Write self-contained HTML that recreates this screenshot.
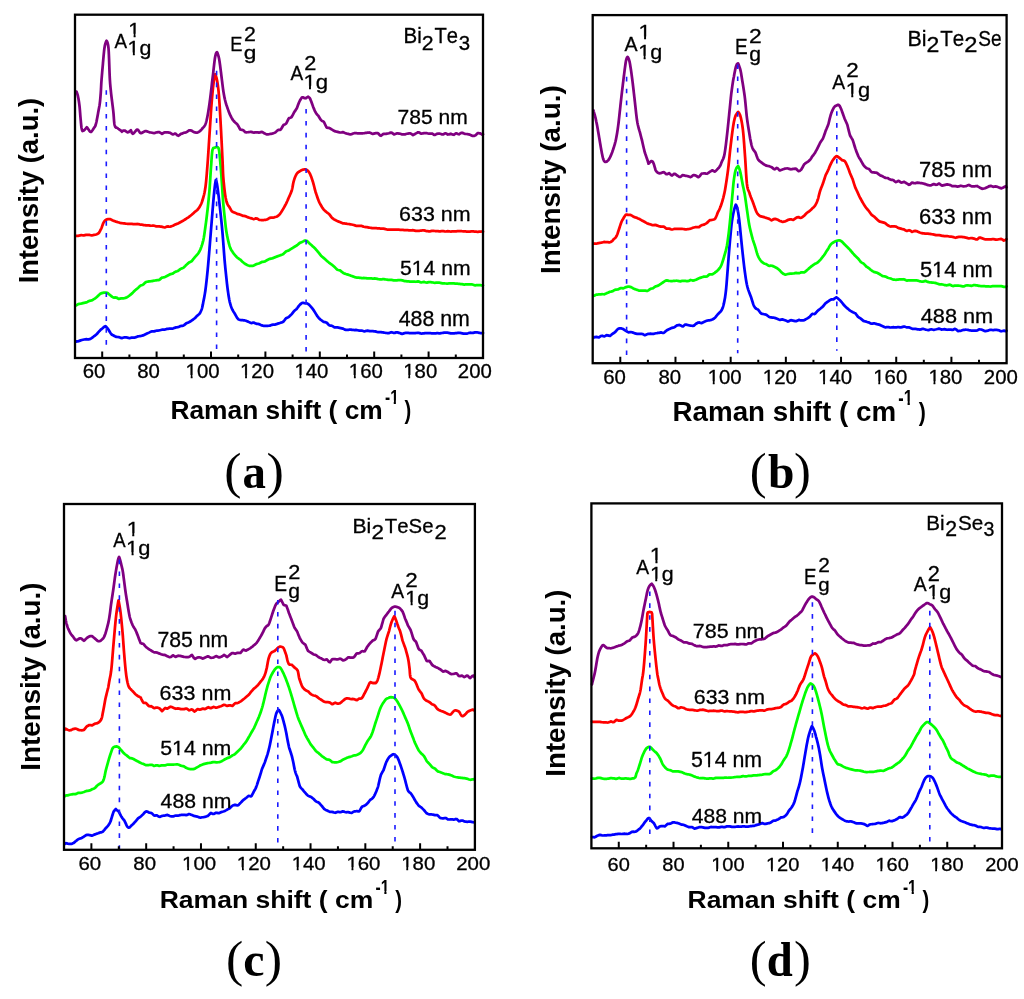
<!DOCTYPE html>
<html><head><meta charset="utf-8"><title>Raman spectra</title>
<style>html,body{margin:0;padding:0;background:#fff;}svg{display:block;}text{font-kerning:none;}</style>
</head><body>
<svg width="1024" height="999" viewBox="0 0 1024 999">
<defs><clipPath id="c0"><rect x="-30" y="-58.47" width="92.52" height="55.78"/><rect x="-30" y="-2.69" width="30.34" height="31.93"/><rect x="4.9" y="-2.69" width="1.72" height="31.93"/><rect x="11.03" y="-2.69" width="51.49" height="31.93"/></clipPath>
<clipPath id="c1"><rect x="-30" y="-58.47" width="92.52" height="55.78"/><rect x="-30" y="-2.69" width="30.34" height="31.93"/><rect x="4.9" y="-2.69" width="1.72" height="31.93"/><rect x="11.03" y="-2.69" width="51.49" height="31.93"/></clipPath>
<clipPath id="c2"><rect x="-30" y="-58.47" width="92.52" height="55.78"/><rect x="-30" y="-2.69" width="30.34" height="31.93"/><rect x="4.9" y="-2.69" width="1.72" height="31.93"/><rect x="11.03" y="-2.69" width="51.49" height="31.93"/></clipPath>
<clipPath id="c3"><rect x="-30" y="-58.47" width="92.52" height="55.78"/><rect x="-30" y="-2.69" width="30.34" height="31.93"/><rect x="4.9" y="-2.69" width="1.72" height="31.93"/><rect x="11.03" y="-2.69" width="51.49" height="31.93"/></clipPath>
<clipPath id="c4"><rect x="-30" y="-58.47" width="92.52" height="55.78"/><rect x="-30" y="-2.69" width="30.34" height="31.93"/><rect x="4.9" y="-2.69" width="1.72" height="31.93"/><rect x="11.03" y="-2.69" width="51.49" height="31.93"/></clipPath>
<clipPath id="c5"><rect x="-30" y="-59.75" width="93.23" height="56.99"/><rect x="-30" y="-2.75" width="30.35" height="32.62"/><rect x="5.01" y="-2.75" width="1.76" height="32.62"/><rect x="11.27" y="-2.75" width="51.96" height="32.62"/></clipPath>
<clipPath id="c6"><rect x="-30" y="-59.75" width="93.23" height="56.99"/><rect x="-30" y="-2.75" width="30.35" height="32.62"/><rect x="5.01" y="-2.75" width="1.76" height="32.62"/><rect x="11.27" y="-2.75" width="51.96" height="32.62"/></clipPath>
<clipPath id="c7"><rect x="-30" y="-59.75" width="93.23" height="56.99"/><rect x="-30" y="-2.75" width="30.35" height="32.62"/><rect x="5.01" y="-2.75" width="1.76" height="32.62"/><rect x="11.27" y="-2.75" width="51.96" height="32.62"/></clipPath>
<clipPath id="c8"><rect x="-30" y="-59.75" width="93.23" height="56.99"/><rect x="-30" y="-2.75" width="30.35" height="32.62"/><rect x="5.01" y="-2.75" width="1.76" height="32.62"/><rect x="11.27" y="-2.75" width="51.96" height="32.62"/></clipPath>
<clipPath id="c9"><rect x="-30" y="-59.75" width="93.23" height="56.99"/><rect x="-30" y="-2.75" width="30.35" height="32.62"/><rect x="5.01" y="-2.75" width="1.76" height="32.62"/><rect x="11.27" y="-2.75" width="51.96" height="32.62"/></clipPath>
<clipPath id="c10"><rect x="-30" y="-56.36" width="91.34" height="53.76"/><rect x="-30" y="-2.6" width="30.33" height="30.77"/><rect x="4.72" y="-2.6" width="1.66" height="30.77"/><rect x="10.63" y="-2.6" width="50.71" height="30.77"/></clipPath>
<clipPath id="c11"><rect x="-30" y="-56.36" width="91.34" height="53.76"/><rect x="-30" y="-2.6" width="30.33" height="30.77"/><rect x="4.72" y="-2.6" width="1.66" height="30.77"/><rect x="10.63" y="-2.6" width="50.71" height="30.77"/></clipPath>
<clipPath id="c12"><rect x="-30" y="-56.36" width="91.34" height="53.76"/><rect x="-30" y="-2.6" width="30.33" height="30.77"/><rect x="4.72" y="-2.6" width="1.66" height="30.77"/><rect x="10.63" y="-2.6" width="50.71" height="30.77"/></clipPath>
<clipPath id="c13"><rect x="-30" y="-56.36" width="91.34" height="53.76"/><rect x="-30" y="-2.6" width="30.33" height="30.77"/><rect x="4.72" y="-2.6" width="1.66" height="30.77"/><rect x="10.63" y="-2.6" width="50.71" height="30.77"/></clipPath>
<clipPath id="c14"><rect x="-30" y="-56.36" width="91.34" height="53.76"/><rect x="-30" y="-2.6" width="30.33" height="30.77"/><rect x="4.72" y="-2.6" width="1.66" height="30.77"/><rect x="10.63" y="-2.6" width="50.71" height="30.77"/></clipPath>
<clipPath id="c15"><rect x="-30" y="-56.78" width="91.58" height="54.16"/><rect x="-30" y="-2.62" width="30.33" height="31"/><rect x="4.76" y="-2.62" width="1.67" height="31"/><rect x="10.71" y="-2.62" width="50.87" height="31"/></clipPath>
<clipPath id="c16"><rect x="-30" y="-56.78" width="91.58" height="54.16"/><rect x="-30" y="-2.62" width="30.33" height="31"/><rect x="4.76" y="-2.62" width="1.67" height="31"/><rect x="10.71" y="-2.62" width="50.87" height="31"/></clipPath>
<clipPath id="c17"><rect x="-30" y="-56.78" width="91.58" height="54.16"/><rect x="-30" y="-2.62" width="30.33" height="31"/><rect x="4.76" y="-2.62" width="1.67" height="31"/><rect x="10.71" y="-2.62" width="50.87" height="31"/></clipPath>
<clipPath id="c18"><rect x="-30" y="-56.78" width="91.58" height="54.16"/><rect x="-30" y="-2.62" width="30.33" height="31"/><rect x="4.76" y="-2.62" width="1.67" height="31"/><rect x="10.71" y="-2.62" width="50.87" height="31"/></clipPath>
<clipPath id="c19"><rect x="-30" y="-56.78" width="91.58" height="54.16"/><rect x="-30" y="-2.62" width="30.33" height="31"/><rect x="4.76" y="-2.62" width="1.67" height="31"/><rect x="10.71" y="-2.62" width="50.87" height="31"/></clipPath>
<clipPath id="c20"><rect x="-30" y="-61.91" width="128.84" height="59.06"/><rect x="-30" y="-2.85" width="41.84" height="33.81"/><rect x="16.67" y="-2.85" width="1.82" height="33.81"/><rect x="23.16" y="-2.85" width="75.68" height="33.81"/></clipPath>
<clipPath id="c21"><rect x="-30" y="-64.49" width="131.7" height="61.52"/><rect x="-30" y="-2.97" width="42.33" height="35.22"/><rect x="17.36" y="-2.97" width="1.9" height="35.22"/><rect x="24.12" y="-2.97" width="77.58" height="35.22"/></clipPath>
<clipPath id="c22"><rect x="-30" y="-61.48" width="128.36" height="58.65"/><rect x="-30" y="-2.83" width="41.76" height="33.57"/><rect x="16.55" y="-2.83" width="1.81" height="33.57"/><rect x="23" y="-2.83" width="75.36" height="33.57"/></clipPath>
<clipPath id="c23"><rect x="-30" y="-64.06" width="131.23" height="61.11"/><rect x="-30" y="-2.95" width="42.25" height="34.98"/><rect x="17.25" y="-2.95" width="1.89" height="34.98"/><rect x="23.96" y="-2.95" width="77.27" height="34.98"/></clipPath>
<clipPath id="c24"><rect x="-30" y="-60.61" width="71.24" height="57.82"/><rect x="-30" y="-2.79" width="30.36" height="33.1"/><rect x="5.08" y="-2.79" width="1.79" height="33.1"/><rect x="11.43" y="-2.79" width="29.8" height="33.1"/></clipPath>
<clipPath id="c25"><rect x="-30" y="-60.61" width="82.47" height="57.82"/><rect x="-30" y="-2.79" width="30.36" height="33.1"/><rect x="5.08" y="-2.79" width="1.79" height="33.1"/><rect x="11.43" y="-2.79" width="41.04" height="33.1"/></clipPath>
<clipPath id="c26"><rect x="-30" y="-62.79" width="83.28" height="59.9"/><rect x="-30" y="-2.89" width="30.37" height="34.29"/><rect x="5.26" y="-2.89" width="1.85" height="34.29"/><rect x="11.84" y="-2.89" width="41.44" height="34.29"/></clipPath>
<clipPath id="c27"><rect x="-30" y="-62.79" width="71.64" height="59.9"/><rect x="-30" y="-2.89" width="30.37" height="34.29"/><rect x="5.26" y="-2.89" width="1.85" height="34.29"/><rect x="11.84" y="-2.89" width="29.8" height="34.29"/></clipPath>
<clipPath id="c28"><rect x="-30" y="-61.05" width="82.63" height="58.24"/><rect x="-30" y="-2.81" width="30.36" height="33.34"/><rect x="5.12" y="-2.81" width="1.8" height="33.34"/><rect x="11.52" y="-2.81" width="41.12" height="33.34"/></clipPath>
<clipPath id="c29"><rect x="-30" y="-61.92" width="82.96" height="59.07"/><rect x="-30" y="-2.85" width="30.36" height="33.81"/><rect x="5.19" y="-2.85" width="1.82" height="33.81"/><rect x="11.68" y="-2.85" width="41.28" height="33.81"/></clipPath>
<clipPath id="c30"><rect x="-30" y="-62.79" width="71.64" height="59.9"/><rect x="-30" y="-2.89" width="30.37" height="34.29"/><rect x="5.26" y="-2.89" width="1.85" height="34.29"/><rect x="11.84" y="-2.89" width="29.8" height="34.29"/></clipPath>
<clipPath id="c31"><rect x="-30" y="-61.92" width="82.96" height="59.07"/><rect x="-30" y="-2.85" width="30.36" height="33.81"/><rect x="5.19" y="-2.85" width="1.82" height="33.81"/><rect x="11.68" y="-2.85" width="41.28" height="33.81"/></clipPath>
<clipPath id="c32"><rect x="-30" y="-60.61" width="82.47" height="57.82"/><rect x="-30" y="-2.79" width="30.36" height="33.1"/><rect x="5.08" y="-2.79" width="1.79" height="33.1"/><rect x="11.43" y="-2.79" width="41.04" height="33.1"/></clipPath>
<clipPath id="c33"><rect x="-30" y="-63.66" width="71.8" height="60.73"/><rect x="-30" y="-2.93" width="30.37" height="34.76"/><rect x="5.34" y="-2.93" width="1.88" height="34.76"/><rect x="12.01" y="-2.93" width="29.79" height="34.76"/></clipPath>
<clipPath id="c34"><rect x="-30" y="-60.61" width="82.47" height="57.82"/><rect x="-30" y="-2.79" width="30.36" height="33.1"/><rect x="5.08" y="-2.79" width="1.79" height="33.1"/><rect x="11.43" y="-2.79" width="41.04" height="33.1"/></clipPath>
<clipPath id="c35"><rect x="-30" y="-61.05" width="82.63" height="58.24"/><rect x="-30" y="-2.81" width="30.36" height="33.34"/><rect x="5.12" y="-2.81" width="1.8" height="33.34"/><rect x="11.52" y="-2.81" width="41.12" height="33.34"/></clipPath>
<clipPath id="c36"><rect x="-30" y="-63.23" width="78.74" height="59.74"/><rect x="-30" y="-3.49" width="37.11" height="35.1"/><rect x="11.94" y="-3.49" width="2.89" height="35.1"/><rect x="19.39" y="-3.49" width="29.35" height="35.1"/></clipPath>
<clipPath id="c37"><rect x="-30" y="-66.37" width="79.67" height="62.71"/><rect x="-30" y="-3.66" width="37.46" height="36.85"/><rect x="12.53" y="-3.66" width="3.04" height="36.85"/><rect x="20.35" y="-3.66" width="29.32" height="36.85"/></clipPath>
<clipPath id="c38"><rect x="-30" y="-59.39" width="77.6" height="56.11"/><rect x="-30" y="-3.28" width="36.68" height="32.97"/><rect x="11.21" y="-3.28" width="2.72" height="32.97"/><rect x="18.21" y="-3.28" width="29.39" height="32.97"/></clipPath>
<clipPath id="c39"><rect x="-30" y="-59.39" width="77.6" height="56.11"/><rect x="-30" y="-3.28" width="36.68" height="32.97"/><rect x="11.21" y="-3.28" width="2.72" height="32.97"/><rect x="18.21" y="-3.28" width="29.39" height="32.97"/></clipPath></defs>
<rect width="1024" height="999" fill="#fff"/>
<path d="M75.5 341 L76.18 341.51 L77.1 341.41 L78.19 341.29 L79.39 340.86 L80.64 340.41 L81.86 340.05 L83 339.74 L84.1 339.5 L85.23 339.34 L86.37 339.2 L87.5 339.3 L88.58 339.37 L89.59 339.16 L90.5 338.75 L91.6 338.1 L92.55 337.48 L93.4 336.8 L94.2 336.08 L95 335.52 L95.8 334.96 L96.56 334.3 L97.29 333.56 L98 332.68 L98.7 331.87 L99.55 330.94 L100.38 330.11 L101.18 329.36 L102 328.71 L103.12 327.7 L104.24 326.68 L105.3 326.2 L106.25 326.77 L107.14 327.81 L108 329 L108.64 329.91 L109.26 330.96 L109.87 332.02 L110.5 332.97 L111.2 333.94 L111.91 334.76 L113.1 335.27 L113.95 335.74 L114.91 336.29 L115.99 336.84 L117.2 336.94 L118.53 337.02 L120 337.59 L120.88 337.97 L121.85 338.07 L122.89 337.77 L123.97 337.45 L125.09 337.41 L126.22 337.41 L127.35 337.55 L128.46 337.84 L129.53 338.09 L130.55 337.91 L131.5 337.71 L132.71 337.57 L133.85 337.59 L134.93 337.55 L135.97 337.15 L136.98 336.73 L137.98 336.4 L138.98 336.24 L140 336.07 L141.02 335.89 L142.03 335.67 L143.03 335.41 L144.03 334.95 L145.01 334.49 L146 334.02 L147 333.54 L148 333.1 L149 332.61 L149.98 332.1 L150.95 331.6 L151.93 331.49 L152.93 331.47 L153.95 331.41 L155 331.08 L156.1 330.76 L157.01 330.59 L157.95 330.51 L158.92 330.43 L159.9 330.22 L160.89 329.97 L161.9 329.72 L162.92 329.71 L163.95 329.7 L164.97 329.57 L166 329.22 L167.04 328.89 L168.11 328.76 L169.2 328.71 L170.3 328.68 L171.39 328.67 L172.48 328.66 L173.56 328.3 L174.61 327.85 L175.63 327.46 L176.6 327.35 L177.63 327.16 L178.62 326.87 L179.58 326.47 L180.51 326.04 L181.41 325.86 L182.31 325.78 L183.2 325.69 L184.1 325.14 L185 324.37 L185.93 323.58 L186.88 323.07 L187.84 322.67 L188.8 322.25 L189.74 321.73 L190.64 321.2 L191.5 320.69 L192.29 320.11 L193 319.57 L194.05 318.77 L194.87 318.11 L195.56 317.49 L196.24 316.76 L197 315.8 L197.63 315.34 L198.3 314.82 L198.98 314.22 L199.65 313.56 L200.3 312.44 L200.89 311.25 L201.4 310.05 L201.74 309.09 L202.03 308.11 L202.28 307.1 L202.5 306.12 L202.71 305.15 L202.9 304.15 L203.09 303.13 L203.29 302.08 L203.5 301.02 L203.68 300.15 L203.86 299.27 L204.04 298.38 L204.21 297.47 L204.38 296.55 L204.55 295.6 L204.72 294.63 L204.89 293.63 L205.06 292.59 L205.23 291.44 L205.4 290.22 L205.52 289.3 L205.65 288.34 L205.77 287.35 L205.9 286.34 L206.02 285.31 L206.15 284.26 L206.27 283.19 L206.39 282.12 L206.51 281.04 L206.63 279.95 L206.75 278.87 L206.87 277.79 L206.98 276.72 L207.09 275.66 L207.2 274.61 L207.3 273.61 L207.4 272.66 L207.49 271.76 L207.58 270.88 L207.66 270.02 L207.74 269.15 L207.82 268.29 L207.9 267.42 L207.99 266.52 L208.07 265.56 L208.17 264.54 L208.26 263.44 L208.37 262.25 L208.48 260.95 L208.6 259.53 L208.66 258.77 L208.73 257.98 L208.8 257.16 L208.87 256.32 L208.94 255.45 L209.02 254.55 L209.09 253.63 L209.17 252.69 L209.25 251.72 L209.33 250.74 L209.41 249.75 L209.49 248.74 L209.57 247.71 L209.65 246.68 L209.74 245.63 L209.82 244.58 L209.91 243.52 L209.99 242.45 L210.08 241.38 L210.16 240.31 L210.25 239.24 L210.33 238.17 L210.42 237.1 L210.5 236.04 L210.59 235 L210.67 233.97 L210.76 232.94 L210.84 231.93 L210.92 230.93 L211 229.94 L211.08 228.96 L211.16 227.96 L211.24 226.94 L211.33 225.91 L211.41 224.88 L211.5 223.83 L211.58 222.77 L211.67 221.72 L211.75 220.65 L211.84 219.59 L211.92 218.52 L212.01 217.46 L212.09 216.4 L212.18 215.35 L212.26 214.3 L212.35 213.26 L212.43 212.23 L212.51 211.22 L212.59 210.22 L212.67 209.23 L212.75 208.26 L212.83 207.31 L212.91 206.39 L212.98 205.48 L213.06 204.6 L213.13 203.74 L213.2 202.92 L213.27 202.1 L213.34 201.32 L213.4 200.57 L213.53 199.06 L213.66 197.67 L213.77 196.39 L213.88 195.2 L213.99 194.1 L214.09 193.08 L214.19 192.13 L214.28 191.23 L214.37 190.39 L214.46 189.59 L214.54 188.82 L214.63 188.07 L214.71 187.34 L214.8 186.61 L215.01 184.95 L215.22 183.43 L215.43 182.12 L215.61 181.08 L215.73 180.4 L215.8 180.14 L215.94 180.33 L216.22 180.95 L216.6 182.18 L217 184.14 L217.1 184.76 L217.2 185.4 L217.31 186.09 L217.42 186.82 L217.53 187.58 L217.64 188.39 L217.76 189.25 L217.88 190.15 L218 191.1 L218.13 192.1 L218.26 193.15 L218.4 194.25 L218.54 195.41 L218.69 196.66 L218.84 198.01 L219 199.41 L219.09 200.19 L219.18 201 L219.27 201.84 L219.37 202.71 L219.47 203.6 L219.58 204.51 L219.68 205.45 L219.79 206.4 L219.9 207.38 L220.01 208.37 L220.12 209.38 L220.23 210.4 L220.35 211.43 L220.46 212.48 L220.58 213.53 L220.69 214.59 L220.81 215.66 L220.92 216.73 L221.03 217.81 L221.15 218.88 L221.26 219.96 L221.37 221.05 L221.48 222.15 L221.59 223.24 L221.7 224.32 L221.8 225.4 L221.91 226.47 L222.01 227.52 L222.11 228.57 L222.2 229.59 L222.29 230.62 L222.38 231.66 L222.48 232.72 L222.57 233.78 L222.66 234.85 L222.74 235.93 L222.83 237.02 L222.92 238.11 L223 239.21 L223.09 240.3 L223.17 241.4 L223.26 242.49 L223.34 243.58 L223.42 244.67 L223.5 245.75 L223.58 246.82 L223.66 247.88 L223.74 248.93 L223.81 249.97 L223.89 250.99 L223.96 252 L224.04 252.99 L224.11 253.95 L224.18 254.9 L224.26 255.82 L224.33 256.72 L224.4 257.6 L224.46 258.45 L224.53 259.27 L224.6 260.06 L224.72 261.46 L224.84 262.77 L224.95 264 L225.06 265.15 L225.16 266.23 L225.26 267.26 L225.36 268.23 L225.45 269.17 L225.54 270.07 L225.64 270.95 L225.73 271.82 L225.82 272.68 L225.91 273.55 L226.01 274.43 L226.1 275.33 L226.2 276.26 L226.31 277.34 L226.43 278.41 L226.54 279.47 L226.65 280.52 L226.76 281.55 L226.86 282.56 L226.97 283.55 L227.09 284.54 L227.2 285.51 L227.31 286.47 L227.43 287.43 L227.55 288.37 L227.67 289.3 L227.8 290.22 L227.95 291.29 L228.1 292.36 L228.25 293.42 L228.41 294.46 L228.56 295.5 L228.72 296.51 L228.89 297.51 L229.06 298.47 L229.23 299.42 L229.42 300.33 L229.6 301.22 L229.8 302.08 L230.1 303.28 L230.4 304.38 L230.7 305.4 L231.03 306.36 L231.37 307.29 L231.74 308.22 L232.15 309.15 L232.6 310.03 L233.06 310.86 L233.57 311.72 L234.13 312.61 L234.71 313.49 L235.29 314.58 L235.87 315.65 L236.43 316.64 L236.94 317.51 L237.4 318.24 L238.22 319.25 L238.82 319.51 L240.2 320 L240.91 320.07 L241.76 320.13 L242.71 320.19 L243.75 320.33 L244.84 320.48 L245.95 320.73 L247.05 321.18 L248.11 321.61 L249.1 322.12 L250 322.59 L251.14 323.07 L252.18 322.88 L253.15 322.67 L254.09 322.73 L255.02 323.16 L255.98 323.62 L257 323.87 L257.94 323.98 L258.91 324.13 L259.89 324.53 L260.89 325 L261.88 325.42 L262.87 325.66 L263.85 325.82 L264.8 325.9 L265.85 325.92 L266.86 325.82 L267.85 325.78 L268.84 325.75 L269.85 325.7 L270.9 325.25 L272 324.8 L273.04 324.57 L274.15 324.57 L275.3 324.59 L276.47 324.13 L277.62 323.67 L278.73 323.32 L279.76 323.02 L280.7 322.68 L281.78 322.4 L282.71 322.04 L283.55 321.52 L284.34 320.5 L285.14 319.43 L286 318.28 L286.78 317.89 L287.59 317.55 L288.4 317.17 L289.2 316.59 L290 315.83 L290.77 315.09 L291.5 314.37 L292.31 313.36 L293.09 312.36 L293.84 311.38 L294.57 310.61 L295.29 310.03 L296 309.45 L296.69 308.85 L297.36 308 L298.01 307.06 L298.66 306.18 L299.32 305.37 L300 304.62 L301.1 303.64 L302.26 302.84 L303.38 302.96 L304.4 303.18 L305.52 303.27 L306.5 303.3 L307.5 303.59 L308.29 304.09 L309.08 304.77 L309.91 305.61 L310.8 306.59 L311.45 307.34 L312.13 308.18 L312.83 309.08 L313.55 310.11 L314.28 311.23 L315 312.38 L315.6 313.4 L316.18 314.34 L316.76 315.23 L317.35 316.12 L317.98 316.98 L318.65 317.8 L319.4 318.63 L320.21 319.35 L321.07 320.01 L321.97 320.69 L322.92 321.35 L323.91 321.99 L324.94 322.2 L326 322.4 L326.85 322.8 L327.72 323.75 L328.62 324.72 L329.54 325.48 L330.48 325.61 L331.45 325.71 L332.44 326.06 L333.46 326.72 L334.5 327.35 L335.47 327.48 L336.46 327.46 L337.49 327.42 L338.53 327.63 L339.59 327.82 L340.67 328.04 L341.75 328.29 L342.84 328.54 L343.92 329.1 L345 329.66 L345.93 329.91 L346.79 329.87 L347.61 329.84 L348.42 329.8 L349.23 329.74 L350.09 329.68 L351.02 329.63 L352.05 329.8 L353.2 329.99 L354.51 330.01 L356 329.93 L356.76 330.03 L357.56 330.24 L358.41 330.47 L359.31 330.62 L360.24 330.6 L361.2 330.59 L362.2 330.72 L363.22 331.01 L364.27 331.31 L365.33 331.08 L366.41 330.78 L367.5 330.68 L368.6 330.94 L369.7 331.2 L370.79 331.2 L371.89 331.18 L372.97 331.2 L374.05 331.29 L375.1 331.38 L376.14 331.67 L377.15 331.97 L378.13 332.18 L379.08 332.15 L380 332.12 L381.09 332.16 L382.1 332.31 L383.05 332.45 L383.94 332.6 L384.8 332.75 L385.62 332.89 L386.42 332.99 L387.22 333.04 L388.03 333.09 L388.85 333.08 L389.7 332.78 L390.6 332.45 L391.54 332.21 L392.56 332.57 L393.64 332.96 L394.82 332.87 L396.1 332.42 L397.49 332.37 L399 332.83 L399.74 333.06 L400.51 333.33 L401.3 333.6 L402.12 333.88 L402.95 333.65 L403.81 333.35 L404.68 333.05 L405.58 332.96 L406.49 332.93 L407.42 332.91 L408.37 332.97 L409.33 333.06 L410.3 333.15 L411.29 333.13 L412.3 333.1 L413.31 333.08 L414.34 333.08 L415.37 333.08 L416.42 332.99 L417.47 332.84 L418.53 332.76 L419.6 333.08 L420.67 333.41 L421.75 333.52 L422.83 333.48 L423.92 333.42 L425.01 333.22 L426.1 333.01 L427.19 333 L428.28 333.09 L429.37 333.17 L430.45 333.23 L431.54 333.29 L432.62 333.35 L433.69 333.42 L434.76 333.45 L435.83 333.34 L436.88 333.22 L437.93 333.21 L438.97 333.26 L440 333.31 L440.99 333.15 L442 332.99 L443.04 332.84 L444.09 332.69 L445.17 332.55 L446.26 332.6 L447.36 332.71 L448.48 332.87 L449.61 333.16 L450.76 333.45 L451.91 333.45 L453.06 333.44 L454.22 333.34 L455.39 333.18 L456.56 333.02 L457.72 332.88 L458.89 332.75 L460.05 332.91 L461.21 333.08 L462.35 333.31 L463.5 333.57 L464.63 333.73 L465.75 333.67 L466.85 333.62 L467.94 333.29 L469.01 332.93 L470.07 332.73 L471.1 332.84 L472.11 332.95 L473.1 332.82 L474.06 332.59 L475 332.37 L475.9 332.39 L476.78 332.44 L477.62 332.48 L478.43 332.63 L479.2 332.8 L479.94 332.96 L480.64 333.08 L481.29 333.06 L481.91 333.05 L482.48 333.03 L483 333" fill="none" stroke="#0000ff" stroke-width="2.75" stroke-linejoin="round" stroke-linecap="round"/>
<path d="M75.5 305.1 L76.18 305.46 L77.1 304.85 L78.19 304.11 L79.39 303.93 L80.64 303.76 L81.86 303.42 L83 303.07 L84.09 302.81 L85.2 302.64 L86.32 302.48 L87.43 301.89 L88.5 301.29 L89.53 300.91 L90.5 300.7 L91.54 300.41 L92.51 299.94 L93.42 299.42 L94.29 298.87 L95.15 298.29 L96 297.67 L96.84 296.97 L97.64 296.21 L98.42 295.44 L99.2 294.69 L99.99 294.04 L100.8 293.55 L101.82 293.14 L102.87 292.85 L103.92 292.68 L104.94 292.64 L105.9 292.64 L107 292.86 L108.01 293.35 L109 294.19 L110 295.04 L110.79 295.71 L111.55 296.29 L112.33 296.87 L113.16 297.37 L114.1 297.53 L115.17 297.44 L116.35 297.51 L117.59 298.28 L118.82 298.9 L120 298.65 L121.1 298.45 L122.16 298.38 L123.21 298.29 L124.28 298.12 L125.4 297.91 L126.23 297.63 L127.08 297.21 L127.94 296.63 L128.82 295.99 L129.71 295.3 L130.6 294.57 L131.5 293.83 L132.28 293.16 L133.06 292.37 L133.85 291.55 L134.64 290.71 L135.44 290 L136.27 289.35 L137.12 288.72 L138 287.98 L138.83 287.15 L139.7 286.28 L140.6 285.57 L141.51 285.25 L142.44 284.94 L143.35 284.41 L144.24 283.52 L145.09 282.7 L145.9 282.08 L147 281.75 L147.99 281.57 L148.93 281.44 L149.88 281.32 L150.88 281.2 L152 281.03 L152.94 280.88 L153.96 280.73 L155.03 280.51 L156.12 280.28 L157.21 280.15 L158.27 280.06 L159.28 279.89 L160.2 279.14 L161.3 278.14 L162.29 277.52 L163.21 277.41 L164.1 277.27 L165.02 276.94 L166 276.41 L166.9 275.95 L167.84 275.45 L168.79 274.94 L169.75 274.43 L170.7 274.13 L171.62 273.93 L172.5 273.74 L173.68 272.96 L174.81 272.15 L175.9 271.58 L176.96 271.27 L178 270.91 L179 270.19 L179.95 269.44 L180.88 268.71 L181.83 268.41 L182.8 268.04 L183.63 267.62 L184.47 266.78 L185.33 265.9 L186.19 264.97 L187.08 264.21 L188 263.4 L188.72 262.74 L189.46 262.32 L190.23 261.97 L191 261.6 L191.77 261.09 L192.54 260.14 L193.28 259.19 L194 258.27 L194.7 257.42 L195.39 256.65 L196.07 255.89 L196.74 255.11 L197.39 254.36 L198.02 253.58 L198.62 252.74 L199.2 251.8 L199.64 251 L200.07 250.09 L200.49 249.13 L200.89 248.14 L201.28 247.12 L201.65 246.06 L202.01 244.95 L202.35 243.79 L202.68 242.66 L203 241.48 L203.22 240.59 L203.42 239.67 L203.61 238.71 L203.8 237.72 L203.97 236.71 L204.14 235.67 L204.31 234.6 L204.47 233.52 L204.62 232.43 L204.78 231.32 L204.93 230.19 L205.09 229.07 L205.24 227.95 L205.4 226.84 L205.53 225.92 L205.66 224.99 L205.79 224.06 L205.92 223.11 L206.04 222.16 L206.17 221.2 L206.29 220.23 L206.41 219.25 L206.54 218.26 L206.66 217.26 L206.78 216.26 L206.9 215.24 L207.02 214.22 L207.14 213.19 L207.26 212.15 L207.38 211.1 L207.5 210.05 L207.61 209.09 L207.72 208.13 L207.83 207.15 L207.94 206.12 L208.05 205.08 L208.16 204.04 L208.27 202.99 L208.37 201.93 L208.48 200.86 L208.59 199.79 L208.7 198.71 L208.8 197.63 L208.91 196.53 L209.01 195.43 L209.11 194.33 L209.21 193.22 L209.31 192.1 L209.41 190.97 L209.5 189.84 L209.58 188.85 L209.66 187.84 L209.73 186.82 L209.8 185.78 L209.87 184.74 L209.95 183.68 L210.01 182.62 L210.08 181.55 L210.15 180.47 L210.22 179.4 L210.28 178.32 L210.35 177.25 L210.41 176.18 L210.48 175.12 L210.54 174.08 L210.6 173.08 L210.67 172.09 L210.73 171.11 L210.8 170.14 L210.87 169.2 L210.93 168.27 L211 167.36 L211.08 166.26 L211.16 165.14 L211.24 164 L211.31 162.86 L211.39 161.73 L211.46 160.6 L211.54 159.48 L211.61 158.38 L211.69 157.31 L211.76 156.27 L211.84 155.27 L211.93 154.31 L212.01 153.4 L212.1 152.55 L212.19 151.76 L212.29 151.04 L212.39 150.39 L212.5 149.83 L213.26 148.13 L214.13 147.78 L215 147.58 L216.31 146.85 L217.5 147.13 L218.07 147.44 L218.54 148.08 L219 149.93 L219.1 150.55 L219.2 151.24 L219.3 152.01 L219.4 152.85 L219.5 153.75 L219.6 154.7 L219.7 155.71 L219.8 156.75 L219.9 157.83 L220 158.94 L220.1 160.07 L220.2 161.22 L220.3 162.38 L220.4 163.53 L220.5 164.69 L220.58 165.57 L220.65 166.48 L220.73 167.43 L220.81 168.4 L220.89 169.39 L220.97 170.4 L221.04 171.43 L221.12 172.47 L221.2 173.51 L221.28 174.56 L221.36 175.64 L221.44 176.73 L221.51 177.81 L221.59 178.88 L221.66 179.93 L221.73 180.96 L221.8 181.97 L221.87 182.95 L221.94 183.91 L222 184.82 L222.08 186 L222.15 187.13 L222.22 188.23 L222.29 189.29 L222.35 190.33 L222.41 191.34 L222.47 192.33 L222.53 193.31 L222.59 194.28 L222.65 195.25 L222.71 196.22 L222.78 197.2 L222.85 198.18 L222.92 199.18 L223 200.2 L223.09 201.23 L223.17 202.26 L223.26 203.3 L223.36 204.33 L223.46 205.37 L223.55 206.41 L223.66 207.45 L223.76 208.48 L223.86 209.52 L223.97 210.56 L224.07 211.57 L224.18 212.56 L224.29 213.55 L224.39 214.54 L224.5 215.53 L224.61 216.52 L224.71 217.53 L224.82 218.54 L224.92 219.56 L225.03 220.59 L225.14 221.61 L225.25 222.63 L225.36 223.64 L225.47 224.65 L225.58 225.64 L225.7 226.63 L225.82 227.59 L225.94 228.54 L226.07 229.46 L226.2 230.36 L226.37 231.46 L226.55 232.55 L226.73 233.61 L226.91 234.64 L227.11 235.65 L227.3 236.63 L227.5 237.59 L227.7 238.52 L227.9 239.42 L228.1 240.3 L228.3 241.14 L228.5 241.95 L228.79 243.1 L229.08 244.18 L229.36 245.18 L229.64 246.13 L229.94 247.03 L230.26 247.88 L230.61 248.7 L231 249.48 L231.57 250.45 L232.18 251.35 L232.83 252.36 L233.52 253.32 L234.25 254.26 L235 255.19 L235.8 256.09 L236.66 256.96 L237.55 257.8 L238.45 258.43 L239.34 259.03 L240.2 259.6 L241.17 260.54 L242.12 261.44 L243.05 262.28 L244 263.03 L245 263.75 L245.86 264.31 L246.74 264.76 L247.64 265.17 L248.57 265.54 L249.52 265.82 L250.5 265.92 L251.51 265.91 L252.54 265.83 L253.61 265.62 L254.7 265.03 L255.83 264.39 L257 263.94 L257.92 263.74 L258.87 263.52 L259.86 263.06 L260.86 262.51 L261.86 261.98 L262.86 261.85 L263.84 261.72 L264.8 261.45 L265.85 260.82 L266.86 260.21 L267.85 259.72 L268.84 259.29 L269.85 258.84 L270.9 258.62 L272 258.4 L272.89 258.15 L273.79 257.75 L274.71 257.36 L275.65 256.97 L276.61 256.6 L277.59 256.2 L278.6 255.84 L279.63 255.5 L280.7 255.11 L281.54 254.77 L282.43 254.4 L283.35 253.98 L284.3 253.09 L285.27 252.15 L286.24 251.29 L287.2 250.97 L288.14 250.65 L289.05 250.26 L289.92 249.7 L290.74 249.18 L291.5 248.7 L292.65 247.97 L293.64 247.31 L294.54 246.73 L295.38 246.26 L296.2 245.79 L297.06 245.27 L298 244.44 L298.9 243.63 L299.85 242.88 L300.83 242.5 L301.82 242.13 L302.79 241.64 L303.73 241.08 L304.6 240.66 L305.4 240.49 L306.49 240.73 L307.42 241.35 L308.26 242.16 L309.09 243.05 L310 243.9 L310.7 244.47 L311.4 245.09 L312.11 245.74 L312.83 246.42 L313.57 247.11 L314.33 247.84 L315.1 248.59 L315.79 249.28 L316.49 250.1 L317.21 250.95 L317.93 251.82 L318.67 252.73 L319.43 253.7 L320.2 254.68 L321 255.66 L321.73 256.36 L322.5 257 L323.29 257.65 L324.09 258.33 L324.9 259.07 L325.7 259.8 L326.49 260.51 L327.26 261.18 L328 261.81 L328.9 262.56 L329.76 263.22 L330.59 263.8 L331.42 264.36 L332.25 264.98 L333.1 265.76 L334 266.58 L334.82 267.32 L335.66 268.13 L336.51 268.94 L337.38 269.76 L338.26 270.01 L339.14 270.23 L340.02 270.42 L340.9 271.13 L341.9 271.95 L342.89 272.7 L343.88 273.19 L344.88 273.64 L345.9 274.02 L346.94 274.31 L348 274.59 L348.94 274.94 L349.89 275.31 L350.85 275.67 L351.82 276.03 L352.81 276.38 L353.84 276.72 L354.9 277.08 L356 277.42 L356.91 277.55 L357.85 277.6 L358.81 277.63 L359.79 277.78 L360.79 277.95 L361.8 278.1 L362.83 278.04 L363.88 277.97 L364.93 278.02 L366 278.19 L366.94 278.34 L367.84 278.37 L368.71 278.36 L369.57 278.35 L370.46 278.39 L371.38 278.46 L372.37 278.54 L373.45 278.52 L374.63 278.47 L375.94 278.62 L377.4 278.94 L378.2 279.11 L379.04 279.25 L379.93 279.41 L380.86 279.49 L381.82 279.36 L382.82 279.23 L383.84 279.23 L384.89 279.37 L385.95 279.51 L387.04 279.64 L388.14 279.78 L389.24 279.85 L390.36 279.84 L391.47 279.85 L392.59 280.07 L393.69 280.29 L394.79 280.36 L395.87 280.35 L396.94 280.32 L397.99 280.2 L399.01 280.09 L400 280.08 L401.06 280.18 L402.09 280.27 L403.09 280.56 L404.07 280.86 L405.04 281.13 L405.99 281.19 L406.94 281.26 L407.88 281.34 L408.82 281.47 L409.76 281.6 L410.72 281.66 L411.68 281.63 L412.67 281.59 L413.67 281.63 L414.7 281.69 L415.77 281.75 L416.86 281.56 L418 281.37 L419.18 281.66 L420.4 282.21 L421.27 282.48 L422.16 282.26 L423.06 282.04 L423.98 281.91 L424.92 282.2 L425.87 282.5 L426.83 282.62 L427.81 282.39 L428.79 282.16 L429.79 282.13 L430.8 282.24 L431.82 282.35 L432.85 282.51 L433.89 282.67 L434.94 282.77 L435.99 282.74 L437.05 282.71 L438.11 282.72 L439.18 282.73 L440.26 282.81 L441.34 283.08 L442.42 283.36 L443.5 283.45 L444.58 283.48 L445.67 283.5 L446.75 283.51 L447.84 283.53 L448.92 283.49 L450 283.45 L450.97 283.41 L451.97 283.4 L453 283.39 L454.05 283.44 L455.14 283.55 L456.24 283.66 L457.36 283.71 L458.5 283.76 L459.65 283.87 L460.81 284.01 L461.97 284.16 L463.14 284.35 L464.31 284.53 L465.47 284.46 L466.63 284.38 L467.78 284.33 L468.92 284.3 L470.04 284.31 L471.14 284.39 L472.23 284.48 L473.29 284.76 L474.32 285.07 L475.32 285.29 L476.29 285.2 L477.22 285.12 L478.11 285.08 L478.96 285.14 L479.77 285.19 L480.52 285.24 L481.23 285.28 L481.88 285.32 L482.47 285.36 L483 285.3" fill="none" stroke="#00ff00" stroke-width="2.75" stroke-linejoin="round" stroke-linecap="round"/>
<path d="M75.5 235.8 L76.13 235.85 L76.93 235.89 L77.88 235.92 L78.95 235.69 L80.11 235.31 L81.32 235.1 L82.56 235.26 L83.8 235.36 L85 235.1 L86.01 234.91 L87.1 234.85 L88.24 234.84 L89.41 234.94 L90.6 235.23 L91.77 235.47 L92.91 235.21 L94 234.93 L95.01 234.73 L95.91 234.54 L96.7 234.3 L97.84 233.78 L98.67 233.13 L99.29 232.33 L99.8 231.44 L100.27 230.46 L100.8 229.46 L101.28 228.53 L101.7 227.48 L102.1 226.36 L102.49 225.24 L102.89 224.1 L103.32 223.06 L103.8 222.17 L104.53 221.13 L105.31 220.26 L106.13 219.69 L107.03 219.33 L108 219.16 L108.88 219.04 L109.82 219.12 L110.81 219.38 L111.84 219.9 L112.9 220.44 L114 220.88 L114.95 221.23 L115.92 221.61 L116.91 221.92 L117.94 222.22 L119 222.51 L120.12 222.82 L121.3 223.05 L122.27 223.18 L123.27 223.26 L124.31 223.35 L125.39 223.56 L126.48 223.75 L127.6 223.83 L128.72 223.86 L129.86 223.89 L131 223.92 L132.04 223.97 L133.1 224.06 L134.18 224.17 L135.27 224.2 L136.37 224.09 L137.47 223.99 L138.57 224.17 L139.66 224.41 L140.74 224.6 L141.8 224.73 L142.84 224.87 L143.88 225.04 L144.9 225.23 L145.92 225.37 L146.93 225.33 L147.94 225.29 L148.95 225.37 L149.96 225.56 L150.98 225.75 L152 225.72 L153.04 225.66 L154.1 225.72 L155.16 226.05 L156.24 226.38 L157.31 226.42 L158.36 226.36 L159.4 226.34 L160.4 226.53 L161.37 226.69 L162.3 226.89 L163.55 227.25 L164.72 227.48 L165.84 227 L166.91 226.51 L167.96 226.44 L168.98 226.61 L170 226.74 L171 226.43 L171.97 226.08 L172.92 225.69 L173.84 225.25 L174.76 224.79 L175.68 224.36 L176.6 224.01 L177.53 223.64 L178.45 223.21 L179.38 222.72 L180.3 222.21 L181.21 221.71 L182.11 221.24 L183 220.78 L184.02 220.17 L185.03 219.49 L186.03 218.8 L187.01 218.18 L188 217.53 L189 216.82 L189.87 216.18 L190.77 215.48 L191.67 214.74 L192.55 213.95 L193.42 213.16 L194.24 212.4 L195 211.78 L195.81 211.14 L196.57 210.58 L197.27 209.98 L197.93 209.27 L198.57 208.46 L199.2 207.51 L199.66 206.7 L200.1 205.96 L200.52 205.18 L200.93 204.35 L201.33 203.45 L201.72 202.49 L202.11 201.45 L202.5 200.29 L202.76 199.39 L203.02 198.5 L203.27 197.6 L203.53 196.68 L203.78 195.73 L204.03 194.75 L204.27 193.71 L204.51 192.61 L204.74 191.43 L204.97 190.17 L205.19 188.85 L205.4 187.47 L205.51 186.7 L205.61 185.91 L205.71 185.09 L205.81 184.24 L205.91 183.37 L206.01 182.48 L206.1 181.56 L206.19 180.62 L206.28 179.66 L206.37 178.69 L206.46 177.69 L206.55 176.68 L206.64 175.65 L206.72 174.6 L206.81 173.54 L206.89 172.46 L206.98 171.38 L207.06 170.28 L207.15 169.17 L207.24 168.05 L207.32 166.92 L207.41 165.79 L207.5 164.65 L207.57 163.76 L207.64 162.86 L207.7 161.95 L207.77 161.02 L207.84 160.08 L207.91 159.12 L207.97 158.15 L208.04 157.18 L208.11 156.19 L208.17 155.2 L208.24 154.19 L208.31 153.18 L208.37 152.17 L208.44 151.15 L208.51 150.12 L208.57 149.09 L208.64 148.06 L208.7 147.02 L208.77 145.99 L208.84 144.95 L208.9 143.91 L208.97 142.87 L209.04 141.84 L209.1 140.8 L209.17 139.77 L209.23 138.75 L209.3 137.73 L209.37 136.71 L209.43 135.7 L209.5 134.7 L209.57 133.69 L209.63 132.68 L209.7 131.66 L209.77 130.63 L209.83 129.6 L209.9 128.56 L209.97 127.52 L210.03 126.47 L210.1 125.42 L210.17 124.38 L210.23 123.33 L210.3 122.28 L210.37 121.23 L210.43 120.19 L210.5 119.15 L210.57 118.11 L210.63 117.07 L210.7 116.04 L210.77 115.02 L210.83 114.01 L210.9 113 L210.97 112.01 L211.03 111.03 L211.1 110.06 L211.17 109.11 L211.23 108.17 L211.3 107.25 L211.37 106.34 L211.43 105.46 L211.5 104.59 L211.6 103.37 L211.69 102.17 L211.79 100.98 L211.89 99.82 L211.98 98.67 L212.08 97.54 L212.18 96.43 L212.28 95.34 L212.37 94.27 L212.47 93.22 L212.57 92.2 L212.66 91.2 L212.76 90.22 L212.86 89.27 L212.95 88.34 L213.04 87.44 L213.14 86.56 L213.23 85.73 L213.32 84.96 L213.41 84.22 L213.5 83.51 L213.7 82.06 L213.91 80.67 L214.12 79.36 L214.34 78.15 L214.55 77.07 L214.74 76.13 L214.91 75.36 L215.05 74.78 L215.15 74.4 L215.2 74.26 L215.32 74.46 L215.56 75.08 L215.9 76.09 L216.27 77.11 L216.65 78.43 L217 80.04 L217.11 80.68 L217.23 81.33 L217.34 82.02 L217.46 82.73 L217.57 83.47 L217.69 84.26 L217.81 85.07 L217.93 85.94 L218.05 86.84 L218.17 87.8 L218.29 88.8 L218.41 89.86 L218.53 90.98 L218.64 92.19 L218.76 93.52 L218.88 94.91 L219 96.37 L219.06 97.16 L219.12 97.98 L219.18 98.83 L219.25 99.7 L219.31 100.6 L219.37 101.53 L219.43 102.47 L219.5 103.44 L219.56 104.43 L219.62 105.44 L219.69 106.46 L219.75 107.5 L219.81 108.55 L219.87 109.61 L219.94 110.68 L220 111.76 L220.06 112.85 L220.12 113.94 L220.19 115.03 L220.25 116.13 L220.31 117.23 L220.37 118.33 L220.43 119.42 L220.49 120.51 L220.55 121.59 L220.61 122.67 L220.67 123.73 L220.72 124.79 L220.78 125.83 L220.84 126.86 L220.89 127.87 L220.95 128.87 L221 129.84 L221.06 130.91 L221.12 131.98 L221.17 133.05 L221.23 134.13 L221.28 135.2 L221.34 136.27 L221.39 137.33 L221.45 138.39 L221.5 139.45 L221.56 140.5 L221.61 141.55 L221.66 142.6 L221.71 143.64 L221.76 144.68 L221.81 145.71 L221.86 146.74 L221.91 147.75 L221.96 148.76 L222.01 149.76 L222.06 150.75 L222.1 151.72 L222.15 152.69 L222.19 153.64 L222.24 154.58 L222.28 155.5 L222.33 156.41 L222.37 157.3 L222.42 158.18 L222.46 159.04 L222.5 159.88 L222.56 161.11 L222.61 162.28 L222.66 163.42 L222.7 164.52 L222.75 165.58 L222.78 166.61 L222.82 167.61 L222.85 168.59 L222.89 169.55 L222.93 170.5 L222.96 171.43 L223 172.35 L223.04 173.27 L223.09 174.18 L223.14 175.1 L223.2 176.02 L223.26 176.96 L223.33 177.91 L223.41 178.87 L223.5 179.86 L223.59 180.87 L223.69 181.9 L223.79 182.94 L223.9 184.01 L224.01 185.08 L224.12 186.19 L224.24 187.3 L224.36 188.41 L224.48 189.52 L224.61 190.62 L224.75 191.7 L224.89 192.78 L225.03 193.83 L225.18 194.86 L225.34 195.87 L225.5 196.85 L225.66 197.79 L225.84 198.69 L226.02 199.56 L226.2 200.38 L226.56 201.77 L226.94 202.92 L227.36 203.86 L227.79 204.71 L228.24 205.47 L228.7 206.16 L229.17 206.78 L229.63 207.51 L230.1 208.37 L230.56 209.18 L231 209.95 L231.99 211.41 L233.02 212.05 L234.03 212.4 L234.97 212.69 L235.8 213.14 L237.11 213.83 L238.5 214.2 L239.4 214.43 L240.45 214.75 L241.59 215.27 L242.79 215.81 L244 215.97 L245.03 216.1 L246.09 216.4 L247.19 216.89 L248.3 217.37 L249.41 217.75 L250.5 218.08 L251.57 218.42 L252.62 218.78 L253.67 219.11 L254.74 218.77 L255.84 218.39 L257 218.54 L258.06 219.18 L259.18 219.84 L260.34 219.99 L261.5 220.12 L262.65 220.12 L263.76 220.01 L264.8 219.88 L265.91 219.76 L266.93 219.48 L267.91 218.97 L268.89 218.38 L269.9 217.8 L271 217.62 L272.01 217.62 L273.07 217.57 L274.16 217.33 L275.28 217.02 L276.4 216.71 L277.51 216.16 L278.6 215.33 L279.19 214.75 L279.78 214.06 L280.38 213.29 L280.98 212.45 L281.59 211.55 L282.19 210.6 L282.78 209.61 L283.37 208.6 L283.95 207.57 L284.51 206.54 L285.06 205.52 L285.59 204.52 L286.1 203.55 L286.59 202.54 L287.08 201.5 L287.56 200.45 L288.02 199.37 L288.48 198.29 L288.92 197.26 L289.35 196.35 L289.76 195.46 L290.15 194.57 L290.52 193.71 L290.87 192.88 L291.2 192.08 L291.5 191.32 L291.92 189.83 L292.25 188.45 L292.52 187.18 L292.74 185.99 L292.94 184.86 L293.13 183.78 L293.35 182.73 L293.6 181.69 L293.98 180.35 L294.36 179.12 L294.74 178.03 L295.14 177 L295.56 176.02 L296 175.09 L296.56 174.02 L297.16 173.18 L297.77 172.62 L298.39 172.14 L299 171.73 L300.02 171.1 L301.04 170.45 L302 169.96 L303.23 169.55 L304.4 169.48 L305.66 169.48 L307 169.98 L307.57 170.46 L308.17 171.1 L308.78 171.89 L309.39 172.83 L310 173.95 L310.38 174.75 L310.75 175.65 L311.12 176.61 L311.5 177.63 L311.88 178.71 L312.25 179.84 L312.62 181 L313 182.19 L313.27 183.09 L313.53 184.03 L313.78 185 L314.03 185.99 L314.28 187 L314.53 188.03 L314.8 189.08 L315.07 190.13 L315.36 191.19 L315.67 192.25 L316 193.26 L316.31 194.17 L316.63 195.1 L316.95 196.05 L317.28 197.01 L317.62 197.98 L317.97 198.94 L318.34 199.9 L318.72 200.87 L319.13 201.85 L319.56 202.79 L320.02 203.71 L320.5 204.58 L321.06 205.49 L321.64 206.45 L322.24 207.42 L322.87 208.37 L323.52 209.3 L324.2 210.1 L324.9 210.73 L325.64 211.35 L326.39 211.97 L327.18 212.59 L328 213.22 L328.71 213.78 L329.42 214.42 L330.14 215.4 L330.87 216.39 L331.62 217.39 L332.4 218.18 L333.2 218.76 L334.03 219.3 L334.9 219.83 L335.8 220.32 L336.75 220.77 L337.75 221.2 L338.8 221.63 L339.64 221.92 L340.5 222.27 L341.4 222.7 L342.32 223.12 L343.26 223.38 L344.23 223.48 L345.22 223.56 L346.23 223.7 L347.25 223.86 L348.3 224 L349.36 224.14 L350.44 224.28 L351.53 224.48 L352.63 224.74 L353.75 225.02 L354.87 225.39 L356 225.78 L356.93 225.88 L357.87 225.87 L358.83 225.85 L359.8 225.88 L360.78 225.91 L361.77 225.97 L362.78 226.35 L363.79 226.73 L364.81 226.99 L365.84 227.05 L366.88 227.12 L367.92 227.31 L368.97 227.53 L370.02 227.74 L371.08 227.91 L372.13 228.07 L373.19 228.1 L374.24 228.06 L375.3 228.03 L376.35 228.14 L377.4 228.26 L378.4 228.36 L379.42 228.47 L380.44 228.58 L381.47 228.57 L382.5 228.53 L383.54 228.57 L384.58 228.87 L385.62 229.16 L386.67 229.37 L387.72 229.53 L388.76 229.67 L389.81 229.61 L390.85 229.54 L391.89 229.52 L392.93 229.54 L393.96 229.56 L394.99 229.62 L396.01 229.68 L397.02 229.73 L398.02 229.73 L399.02 229.73 L400 229.76 L401.06 229.83 L402.09 229.88 L403.09 229.98 L404.07 230.08 L405.04 230.17 L405.99 230.17 L406.94 230.17 L407.88 230.2 L408.82 230.29 L409.76 230.38 L410.72 230.39 L411.68 230.31 L412.67 230.22 L413.67 230.36 L414.7 230.62 L415.77 230.87 L416.86 230.87 L418 230.86 L419.18 230.78 L420.4 230.65 L421.27 230.55 L422.16 230.46 L423.06 230.37 L423.98 230.34 L424.92 230.59 L425.87 230.85 L426.83 231.07 L427.81 231.21 L428.79 231.35 L429.79 231.29 L430.8 231.1 L431.82 230.9 L432.85 230.93 L433.89 230.97 L434.94 231 L435.99 231 L437.05 231 L438.11 231.12 L439.18 231.27 L440.26 231.35 L441.34 231.17 L442.42 231 L443.5 231.13 L444.58 231.37 L445.67 231.51 L446.75 231.37 L447.84 231.22 L448.92 231.31 L450 231.47 L450.97 231.57 L451.97 231.48 L453 231.39 L454.05 231.34 L455.14 231.32 L456.24 231.29 L457.36 231.15 L458.5 231 L459.65 231.02 L460.81 231.13 L461.97 231.23 L463.14 231.3 L464.31 231.36 L465.47 231.49 L466.63 231.62 L467.78 231.63 L468.92 231.59 L470.04 231.53 L471.14 231.42 L472.23 231.32 L473.29 231.42 L474.32 231.55 L475.32 231.67 L476.29 231.74 L477.22 231.81 L478.11 231.81 L478.96 231.71 L479.77 231.62 L480.52 231.53 L481.23 231.52 L481.88 231.5 L482.47 231.49 L483 231.6" fill="none" stroke="#ff0000" stroke-width="2.75" stroke-linejoin="round" stroke-linecap="round"/>
<path d="M75.5 92 L76.5 91.68 L76.69 92.11 L77.09 93.14 L77.56 94.62 L78 96.39 L78.15 97.18 L78.31 98 L78.47 98.87 L78.62 99.8 L78.78 100.77 L78.94 101.78 L79.09 102.82 L79.23 103.88 L79.37 104.95 L79.5 106.02 L79.6 106.92 L79.7 107.86 L79.79 108.84 L79.87 109.83 L79.95 110.84 L80.03 111.85 L80.11 112.87 L80.19 113.88 L80.26 114.88 L80.34 115.85 L80.42 116.8 L80.5 117.71 L80.6 118.79 L80.7 119.89 L80.8 120.98 L80.9 122.07 L81 123.17 L81.1 124.24 L81.2 125.24 L81.3 126.17 L81.4 127.01 L81.5 127.75 L81.89 129.58 L82.29 130.64 L82.5 131.02 L84 130.39 L84.72 129.67 L85.63 128.68 L86.42 127.77 L86.8 127.25 L87.16 127.66 L87.83 128.58 L88.5 129.46 L89.37 130.76 L90.3 131.87 L91.37 131.78 L92.5 130.25 L93.3 129.03 L94.11 127.74 L94.8 126.83 L95.28 126.02 L95.64 125 L96 123.71 L96.2 122.93 L96.4 122.06 L96.59 121.12 L96.79 120.13 L96.99 119.11 L97.2 118.03 L97.38 117.04 L97.56 116.01 L97.75 114.96 L97.94 113.9 L98.13 112.83 L98.31 111.76 L98.5 110.7 L98.69 109.69 L98.88 108.72 L99.07 107.76 L99.26 106.78 L99.45 105.75 L99.63 104.62 L99.8 103.37 L99.9 102.51 L100.01 101.6 L100.11 100.64 L100.2 99.63 L100.3 98.6 L100.39 97.55 L100.48 96.49 L100.56 95.42 L100.65 94.37 L100.73 93.34 L100.8 92.34 L100.87 91.28 L100.94 90.25 L100.99 89.24 L101.04 88.25 L101.09 87.24 L101.14 86.22 L101.19 85.18 L101.25 84.08 L101.32 82.94 L101.4 81.72 L101.47 80.82 L101.53 79.91 L101.6 78.98 L101.68 78.04 L101.76 77.08 L101.84 76.1 L101.92 75.1 L102.01 74.07 L102.1 73.02 L102.19 71.94 L102.29 70.83 L102.39 69.68 L102.49 68.51 L102.6 67.31 L102.68 66.44 L102.76 65.52 L102.85 64.55 L102.93 63.54 L103.02 62.49 L103.12 61.43 L103.21 60.34 L103.3 59.24 L103.4 58.14 L103.5 57.04 L103.6 55.96 L103.7 54.88 L103.8 53.83 L103.9 52.81 L104 51.83 L104.1 50.89 L104.2 50 L104.3 49.16 L104.4 48.39 L104.5 47.69 L104.81 45.93 L105.16 44.42 L105.53 43.14 L105.88 42.13 L106.17 41.4 L106.39 40.96 L106.5 40.81 L106.61 40.9 L106.84 41.2 L107.16 41.78 L107.51 42.71 L107.88 44.06 L108.22 45.87 L108.5 48.24 L108.55 48.9 L108.61 49.62 L108.66 50.4 L108.71 51.23 L108.76 52.12 L108.81 53.06 L108.85 54.03 L108.9 55.05 L108.94 56.1 L108.99 57.17 L109.03 58.28 L109.08 59.4 L109.12 60.54 L109.16 61.7 L109.2 62.86 L109.24 64.03 L109.28 65.19 L109.32 66.35 L109.36 67.5 L109.4 68.64 L109.44 69.76 L109.48 70.86 L109.52 71.93 L109.56 72.97 L109.6 73.97 L109.64 74.94 L109.68 75.86 L109.72 76.74 L109.76 77.56 L109.8 78.32 L109.89 79.83 L109.98 81.21 L110.06 82.47 L110.15 83.63 L110.24 84.7 L110.32 85.69 L110.41 86.61 L110.49 87.49 L110.58 88.33 L110.66 89.14 L110.74 89.93 L110.83 90.73 L110.91 91.55 L111 92.39 L111.12 93.56 L111.24 94.66 L111.36 95.7 L111.48 96.7 L111.6 97.67 L111.72 98.62 L111.84 99.55 L111.96 100.49 L112.08 101.45 L112.2 102.42 L112.33 103.51 L112.47 104.58 L112.6 105.64 L112.73 106.69 L112.87 107.75 L113 108.83 L113.13 109.93 L113.27 111.07 L113.4 112.31 L113.5 113.32 L113.59 114.41 L113.67 115.54 L113.76 116.71 L113.84 117.9 L113.93 119.08 L114.01 120.24 L114.11 121.35 L114.22 122.41 L114.33 123.38 L114.46 124.25 L114.6 125.01 L115.31 126.89 L116.15 127.63 L117 127.75 L117.62 128.23 L118.26 128.77 L118.89 129.27 L119.5 129.62 L120.18 130.06 L120.91 130.58 L121.5 131.14 L121.8 131.7 L122.25 131.34 L123.15 130.67 L124.2 130.56 L125.05 130.72 L126.01 131.34 L126.99 131.99 L127.9 132.38 L128.82 131.91 L129.77 131.07 L130.53 130.52 L130.9 130.29 L131.28 131.28 L132.03 133.19 L133 133.77 L133.87 133.09 L134.88 131.88 L135.96 130.53 L137 129.59 L138 129.83 L139 131.24 L140 132.67 L141 133.14 L141.98 132.86 L142.94 132.31 L143.93 131.64 L145 131.15 L145.94 131.05 L146.93 131.35 L147.95 131.71 L148.98 132.06 L150 132.33 L151 132.51 L152 132.74 L153 132.94 L154 133.03 L155 132.82 L156 132.52 L157 132.27 L158 132.17 L159 132.12 L160 132.53 L161 133.21 L162 133.87 L163 133.26 L164 132.64 L165 132.28 L166 132.32 L167 132.3 L168 132.38 L169 132.54 L170 132.78 L170.99 133.35 L171.97 133.99 L172.95 134.39 L173.96 134.02 L175 133.6 L176.12 134.12 L177.3 135.26 L178.49 135.75 L179.64 134.88 L180.7 133.91 L181.86 133.63 L182.89 133.2 L183.91 132.77 L185 132.56 L185.96 132.42 L186.95 131.8 L187.97 131.06 L188.99 130.44 L190 130.31 L191 130.43 L192 130.87 L193 131.54 L194 132.18 L195 132.47 L196.02 132.55 L197.05 132.58 L198.07 132.22 L199.06 131.72 L200 131.06 L200.74 130.4 L201.44 129.62 L202.12 128.73 L202.78 127.99 L203.4 127.35 L204 126.62 L204.42 126.06 L204.82 125.5 L205.2 124.84 L205.56 123.88 L205.92 122.82 L206.27 121.61 L206.63 120.23 L207 118.61 L207.17 117.81 L207.34 116.97 L207.51 116.08 L207.68 115.15 L207.85 114.19 L208.02 113.2 L208.19 112.19 L208.36 111.15 L208.53 110.08 L208.7 108.99 L208.87 107.89 L209.04 106.77 L209.2 105.63 L209.37 104.49 L209.53 103.34 L209.69 102.19 L209.85 101.04 L210 99.89 L210.12 98.95 L210.25 97.99 L210.37 97 L210.48 96.01 L210.6 95.07 L210.72 94.13 L210.83 93.18 L210.95 92.21 L211.06 91.25 L211.17 90.27 L211.28 89.29 L211.39 88.31 L211.5 87.33 L211.61 86.35 L211.72 85.37 L211.83 84.4 L211.94 83.43 L212.05 82.47 L212.16 81.52 L212.27 80.59 L212.39 79.66 L212.5 78.75 L212.63 77.75 L212.75 76.73 L212.88 75.69 L213.01 74.64 L213.14 73.58 L213.27 72.44 L213.39 71.23 L213.52 70.02 L213.65 68.83 L213.78 67.65 L213.91 66.49 L214.04 65.36 L214.16 64.26 L214.29 63.2 L214.41 62.17 L214.53 61.19 L214.65 60.26 L214.77 59.39 L214.89 58.57 L215 57.82 L215.49 55.28 L216 53.45 L216.47 52.6 L216.83 52.18 L217 52.08 L217.18 52.4 L217.56 53.28 L218.04 54.61 L218.55 56.31 L219 58.21 L219.14 58.96 L219.28 59.76 L219.42 60.61 L219.56 61.51 L219.69 62.46 L219.83 63.44 L219.97 64.47 L220.11 65.53 L220.25 66.63 L220.39 67.76 L220.54 68.92 L220.69 70.1 L220.84 71.31 L221 72.54 L221.11 73.44 L221.23 74.38 L221.35 75.33 L221.47 76.3 L221.59 77.29 L221.71 78.31 L221.84 79.35 L221.96 80.4 L222.09 81.45 L222.22 82.51 L222.35 83.57 L222.48 84.62 L222.61 85.65 L222.73 86.67 L222.86 87.67 L222.99 88.63 L223.12 89.56 L223.25 90.46 L223.37 91.3 L223.5 92.1 L223.71 93.35 L223.91 94.52 L224.11 95.62 L224.31 96.67 L224.52 97.66 L224.72 98.6 L224.92 99.51 L225.13 100.37 L225.34 101.21 L225.55 102.02 L225.77 102.82 L226 103.61 L226.35 104.75 L226.71 105.79 L227.09 106.94 L227.47 108.03 L227.85 109.09 L228.24 110.12 L228.62 111.15 L229 112.19 L229.44 113.39 L229.89 114.37 L230.34 115.33 L230.78 116.25 L231.22 117.11 L231.62 117.88 L232 118.54 L232.67 119.7 L233.22 120.41 L234 121.28 L234.69 122.04 L235.5 122.8 L236.38 123.58 L237.23 124.33 L238 125.47 L238.81 126.96 L239.54 128.3 L240.25 129.49 L241 129.68 L241.99 129.85 L243.01 130.01 L244.3 131.3 L245.28 132.14 L246.39 132.35 L247.58 132.25 L248.8 132.12 L250 131.98 L250.98 131.82 L251.98 132.1 L252.98 132.38 L253.99 132.53 L255 132.38 L256 132.3 L256.98 132.33 L257.93 132.45 L258.88 132.6 L259.85 132.41 L260.88 132.07 L262 131.86 L262.9 132.41 L263.85 133.02 L264.83 133.59 L265.84 134.01 L266.87 134.4 L267.91 134.43 L268.96 134.24 L270 133.96 L270.94 133.85 L271.89 133.66 L272.86 133.4 L273.84 133.07 L274.82 132.71 L275.79 132.05 L276.75 131.13 L277.69 130.23 L278.6 129.88 L279.48 129.83 L280.34 129.79 L281.18 128.93 L282.01 127.47 L282.83 125.99 L283.64 124.85 L284.45 124.55 L285.27 124.17 L286.1 123.68 L286.68 122.59 L287.27 121.43 L287.87 120.21 L288.48 118.95 L289.08 118.18 L289.68 117.99 L290.28 117.77 L290.87 117.53 L291.45 117.28 L292.01 116.31 L292.56 115.29 L293.09 114.3 L293.6 113.33 L294.18 112.19 L294.74 111.42 L295.29 110.64 L295.82 109.84 L296.33 109.04 L296.83 108.24 L297.3 106.99 L297.76 105.72 L298.19 104.53 L298.61 103.45 L299 102.48 L299.93 100.47 L300.69 99.18 L301.35 98.23 L302 97.34 L303.23 97.31 L304.4 98.19 L305.68 98.25 L307 97.4 L308.17 96.69 L309.7 98.04 L310.05 98.67 L310.43 99.45 L310.83 100.47 L311.26 101.6 L311.7 102.8 L312.16 104.07 L312.64 105.37 L313.12 106.68 L313.61 107.93 L314.11 109.14 L314.6 110.3 L315.1 111.38 L315.65 112.5 L316.22 113.34 L316.8 114.07 L317.39 114.78 L317.99 115.47 L318.59 116.2 L319.2 117.21 L319.8 118.19 L320.41 119.15 L321.01 120.07 L321.6 120.59 L322.3 120.97 L322.99 121.32 L323.66 121.63 L324.33 122.71 L325.01 124.22 L325.71 125.73 L326.43 127.24 L327.19 127.7 L328 127.82 L328.85 127.89 L329.72 128.2 L330.63 128.79 L331.56 129.36 L332.51 129.94 L333.5 130.55 L334.51 131.13 L335.54 131.44 L336.6 131.66 L337.58 131.86 L338.57 132.17 L339.59 132.45 L340.63 132.5 L341.69 132.33 L342.78 132.13 L343.88 132.59 L345 133.04 L346.14 133.42 L347.3 133.73 L348.27 133.95 L349.22 134.16 L350.16 134.34 L351.11 134.36 L352.08 133.93 L353.07 133.48 L354.09 133.23 L355.15 133.23 L356.26 133.23 L357.44 133.26 L358.68 133.31 L360 133.38 L360.84 133.44 L361.7 133.49 L362.6 133.37 L363.53 133.25 L364.49 133.13 L365.46 132.97 L366.46 132.81 L367.47 132.68 L368.5 132.59 L369.54 132.5 L370.59 132.91 L371.65 133.49 L372.71 133.9 L373.77 133.61 L374.83 133.32 L375.88 133.16 L376.93 133.08 L377.97 133.07 L378.99 134.26 L380 135.44 L381 135.8 L382 134.95 L383 134.11 L384 133.87 L385 133.89 L386 133.91 L387 133.71 L388 133.51 L389 133.27 L390 132.91 L391 132.56 L392 132.86 L393 133.61 L394 134.36 L395 134.09 L396 133.7 L397 133.4 L398 133.47 L399 133.52 L400 133.71 L401 134.03 L402 134.35 L403 134.39 L404 134.37 L405 134.31 L406 134.02 L407 133.73 L408 133.51 L409 133.4 L410 133.29 L411 133.71 L412 134.37 L413 135.03 L414 134.49 L415 133.95 L416 133.41 L417 132.85 L418 132.3 L419 132.44 L420 133.02 L421 133.62 L422 133.51 L423 133.32 L424 133.16 L425 133.14 L426 133.13 L427 133.24 L428 133.48 L429 133.73 L430 133.68 L431 133.56 L432 133.52 L433 134.15 L434 134.77 L435 134.92 L436 134.35 L437 133.78 L438 133.64 L439 133.68 L440 133.73 L441 134.05 L441.99 134.38 L442.97 134.47 L443.95 133.93 L444.93 133.39 L445.91 133.42 L446.88 133.96 L447.86 134.5 L448.83 134.39 L449.81 134.07 L450.8 133.74 L451.78 134.18 L452.78 134.61 L453.78 134.75 L454.79 134.09 L455.81 133.42 L456.84 133.45 L457.88 133.91 L458.93 134.34 L460 133.64 L460.96 133.01 L461.97 132.73 L463.02 133.15 L464.11 133.58 L465.23 133.81 L466.36 134 L467.52 134.19 L468.69 134.38 L469.85 134.63 L471.02 135.21 L472.18 135.79 L473.32 135.87 L474.44 135.83 L475.53 135.35 L476.58 134.24 L477.6 133.17 L478.56 133.11 L479.48 133.3 L480.33 133.47 L481.11 133.91 L481.82 134.4 L482.45 134.82 L483 134.2" fill="none" stroke="#800080" stroke-width="2.75" stroke-linejoin="round" stroke-linecap="round"/>
<path d="M593.5 337.9 L594.18 337.16 L595.11 337.04 L596.22 336.89 L597.44 337.18 L598.73 337.48 L600 336.7 L601 335.98 L602.1 335.72 L603.26 336.1 L604.44 336.37 L605.59 335.75 L606.68 335.13 L607.66 335.29 L608.5 335.68 L610.07 335.88 L611.08 335.04 L612 334.18 L612.96 333.53 L613.82 333 L614.7 332.45 L615.62 331.56 L616.56 330.4 L617.5 329.34 L618.45 328.71 L619.41 328.35 L620.4 328.3 L621.4 328.42 L622.43 328.81 L623.5 329.32 L624.29 329.78 L625.07 330.33 L625.94 330.88 L627 331.59 L627.85 332.01 L628.8 332.32 L629.83 332.22 L630.89 332.1 L631.95 332.26 L633 332.62 L634.03 332.97 L635.06 333.35 L636.11 333.72 L637.16 333.92 L638.22 333.89 L639.3 333.84 L640.38 333.81 L641.47 333.76 L642.57 333.99 L643.69 334.6 L644.83 335.19 L646 334.68 L647.06 334.22 L648.17 333.93 L649.31 333.77 L650.45 333.66 L651.56 333.8 L652.62 333.91 L653.6 333.79 L654.83 333.5 L655.94 333.26 L656.98 333.13 L657.99 332.97 L659 332.79 L659.99 332.62 L660.94 332.46 L661.88 332.68 L662.85 332.88 L663.9 332.83 L664.85 332.01 L665.84 331.08 L666.87 330.28 L667.91 329.71 L668.96 329.14 L670 328.69 L671.02 328.26 L672.04 327.84 L673.06 327.58 L674.09 327.36 L675.13 326.75 L676.2 325.93 L677.29 325.27 L678.4 325.08 L679.52 324.96 L680.66 325.42 L681.82 326.18 L683 326.34 L684.04 325.49 L685.12 324.63 L686.22 324.7 L687.32 324.96 L688.41 325.19 L689.47 325.38 L690.5 325.52 L691.65 325.75 L692.77 325.94 L693.86 325.64 L694.92 324.72 L695.97 323.79 L697 323.21 L698.21 322.57 L699.4 322.49 L700.56 322.92 L701.69 323.16 L702.8 322.55 L703.88 321.91 L704.93 321.44 L705.96 321.05 L706.98 320.68 L708 320.48 L709.05 320.35 L710.13 320.16 L711.19 319.86 L712.19 319.52 L713.1 319.13 L714.08 318.51 L714.94 317.78 L715.73 316.87 L716.5 315.94 L717.24 315.01 L717.93 314.18 L718.61 313.52 L719.3 312.82 L719.88 312.27 L720.49 311.71 L721.09 310.94 L721.66 310.05 L722.2 308.99 L722.56 308.12 L722.9 307.18 L723.22 306.12 L723.54 304.94 L723.84 303.69 L724.12 302.39 L724.4 301.04 L724.58 300.08 L724.76 299.12 L724.93 298.15 L725.09 297.16 L725.24 296.13 L725.4 295.06 L725.55 293.91 L725.7 292.69 L725.85 291.39 L726 290 L726.09 289.17 L726.17 288.31 L726.26 287.42 L726.34 286.49 L726.42 285.53 L726.51 284.55 L726.59 283.54 L726.67 282.52 L726.76 281.47 L726.84 280.42 L726.92 279.35 L727 278.28 L727.09 277.2 L727.17 276.12 L727.25 275.04 L727.33 273.97 L727.42 272.9 L727.5 271.85 L727.58 270.85 L727.66 269.83 L727.74 268.8 L727.82 267.76 L727.9 266.71 L727.98 265.65 L728.06 264.59 L728.14 263.52 L728.22 262.46 L728.3 261.39 L728.38 260.34 L728.46 259.28 L728.54 258.25 L728.62 257.25 L728.7 256.26 L728.77 255.28 L728.85 254.33 L728.93 253.39 L729 252.47 L729.09 251.34 L729.18 250.24 L729.27 249.16 L729.36 248.11 L729.44 247.07 L729.52 246.06 L729.61 245.05 L729.69 244.06 L729.78 243.07 L729.86 242.09 L729.94 241.12 L730.03 240.14 L730.12 239.16 L730.21 238.18 L730.3 237.19 L730.39 236.18 L730.49 235.17 L730.58 234.15 L730.67 233.13 L730.77 232.11 L730.86 231.09 L730.96 230.07 L731.06 229.07 L731.15 228.08 L731.26 227.08 L731.36 226.09 L731.46 225.12 L731.57 224.18 L731.69 223.26 L731.8 222.37 L731.96 221.19 L732.13 220.04 L732.31 218.92 L732.49 217.83 L732.68 216.77 L732.86 215.75 L733.05 214.77 L733.24 213.83 L733.43 212.93 L733.62 212.07 L733.8 211.27 L734.17 209.75 L734.59 208.24 L735.01 206.87 L735.39 205.74 L735.67 204.97 L735.8 204.68 L735.97 204.88 L736.31 205.5 L736.74 206.53 L737.2 207.95 L737.6 209.55 L737.76 210.31 L737.91 211.11 L738.06 211.95 L738.21 212.84 L738.36 213.78 L738.51 214.77 L738.66 215.83 L738.82 216.95 L738.97 218.14 L739.13 219.4 L739.3 220.75 L739.4 221.59 L739.5 222.48 L739.6 223.4 L739.7 224.37 L739.81 225.36 L739.91 226.38 L740.02 227.43 L740.13 228.49 L740.23 229.57 L740.34 230.67 L740.45 231.77 L740.56 232.87 L740.67 233.98 L740.77 235.07 L740.88 236.16 L740.99 237.24 L741.09 238.3 L741.2 239.35 L741.3 240.36 L741.41 241.42 L741.52 242.48 L741.62 243.54 L741.73 244.6 L741.84 245.66 L741.94 246.71 L742.05 247.74 L742.16 248.73 L742.26 249.71 L742.37 250.69 L742.47 251.66 L742.58 252.62 L742.68 253.58 L742.79 254.53 L742.89 255.46 L742.99 256.39 L743.1 257.3 L743.2 258.2 L743.32 259.26 L743.44 260.31 L743.56 261.34 L743.67 262.35 L743.79 263.36 L743.9 264.35 L744.02 265.33 L744.13 266.29 L744.25 267.25 L744.37 268.21 L744.49 269.15 L744.61 270.09 L744.74 271.03 L744.87 271.98 L745 272.93 L745.16 274.03 L745.31 275.13 L745.47 276.22 L745.62 277.3 L745.78 278.38 L745.95 279.45 L746.12 280.5 L746.29 281.54 L746.47 282.56 L746.66 283.56 L746.86 284.54 L747.08 285.5 L747.3 286.42 L747.59 287.51 L747.9 288.58 L748.22 289.61 L748.57 290.62 L748.92 291.6 L749.28 292.57 L749.64 293.51 L750 294.45 L750.34 295.34 L750.68 296.2 L751 297.07 L751.37 298.15 L751.71 299.24 L752.05 300.32 L752.38 301.39 L752.7 302.44 L753.03 303.45 L753.37 304.4 L753.72 305.29 L754.1 306.09 L754.82 307.3 L755.58 308.24 L756.37 308.74 L757.18 309.14 L758 309.52 L758.83 310.58 L759.67 311.81 L760.53 312.99 L761.41 313.61 L762.3 313.82 L763.2 314.02 L764.11 314.24 L765.04 314.47 L766 314.67 L767 315.28 L767.95 316.04 L768.85 316.75 L769.83 317.07 L771.03 317.27 L772.6 317.52 L773.42 317.64 L774.36 317.76 L775.4 318.15 L776.5 318.57 L777.66 319.02 L778.84 319.5 L780.01 319.85 L781.16 319.63 L782.26 319.42 L783.28 319.67 L784.2 320.02 L785 320.33 L786.38 320.83 L787.26 321.21 L787.94 321.51 L788.75 321.19 L790 320.53 L790.86 320.22 L791.86 320.38 L792.96 320.54 L794.13 320.82 L795.33 321.16 L796.54 321.07 L797.71 320.46 L798.81 319.95 L799.82 320.18 L800.7 320.35 L802.1 320.49 L803.2 320.45 L804.12 320.26 L805.01 319.7 L806 319.11 L806.91 318.61 L807.82 318.06 L808.74 317.48 L809.66 316.8 L810.58 315.78 L811.5 314.71 L812.29 313.87 L813.08 313.95 L813.87 314 L814.66 314.03 L815.45 313.37 L816.23 312.43 L817 311.52 L817.89 310.59 L818.79 309.91 L819.67 309.23 L820.54 308.53 L821.39 307.81 L822.2 307.12 L823.12 306.3 L823.98 305.24 L824.82 304.22 L825.65 303.22 L826.5 302.6 L827.39 301.98 L828.3 301.35 L829.2 300.72 L830.04 300.13 L830.8 299.62 L831.82 299.35 L832.66 299.3 L833.5 299.36 L834.78 298.32 L836.2 297.41 L837.08 297.73 L838.04 298.52 L839.03 299.47 L840 300.36 L840.72 301.09 L841.41 301.87 L842.11 302.74 L842.86 303.73 L843.7 304.76 L844.37 305.53 L845.09 306.25 L845.85 306.95 L846.63 307.65 L847.42 308.35 L848.22 309.03 L849 309.69 L849.78 310.36 L850.56 310.88 L851.34 311.35 L852.13 311.81 L852.92 312.23 L853.71 312.59 L854.5 312.92 L855.4 313.25 L856.27 314.45 L857.14 315.63 L858.03 316.82 L858.98 317.48 L860 318.13 L860.82 318.66 L861.67 319.38 L862.54 320.11 L863.45 320.85 L864.38 321.18 L865.33 321.45 L866.31 321.69 L867.3 322.03 L868.31 322.31 L869.33 322.67 L870.37 323.19 L871.44 323.68 L872.53 323.6 L873.65 323.4 L874.81 323.44 L876 323.82 L876.98 324.14 L877.97 324.37 L878.98 324.59 L880.01 324.9 L881.06 325.39 L882.14 325.88 L883.24 326.45 L884.36 327.05 L885.52 327.38 L886.7 327.22 L887.62 327.08 L888.55 327.18 L889.48 327.34 L890.42 327.5 L891.37 327.42 L892.34 327.31 L893.34 327.21 L894.36 327.29 L895.41 327.36 L896.5 327.34 L897.62 327.24 L898.79 327.18 L900 327.3 L900.91 327.39 L901.84 327.23 L902.8 326.88 L903.78 326.52 L904.78 326.69 L905.8 327.01 L906.84 327.31 L907.9 327.36 L908.96 327.41 L910.04 327.75 L911.13 328.29 L912.23 328.78 L913.33 328.81 L914.44 328.83 L915.56 328.96 L916.67 329.13 L917.79 329.3 L918.9 329.45 L919.85 329.57 L920.79 329.43 L921.72 329.12 L922.65 328.81 L923.58 328.94 L924.51 329.24 L925.44 329.54 L926.38 329.76 L927.32 329.97 L928.28 330.18 L929.24 329.85 L930.22 329.49 L931.21 329.26 L932.23 329.52 L933.26 329.79 L934.31 329.77 L935.39 329.53 L936.5 329.27 L937.63 328.97 L938.8 328.67 L940 328.93 L940.86 329.26 L941.73 329.59 L942.61 329.49 L943.5 329.34 L944.41 329.19 L945.33 329.35 L946.25 329.55 L947.19 329.75 L948.14 329.67 L949.1 329.58 L950.07 329.54 L951.05 329.72 L952.03 329.9 L953.03 329.8 L954.04 329.32 L955.05 328.83 L956.07 329.4 L957.1 330.31 L958.14 331.08 L959.19 330.95 L960.24 330.82 L961.3 330.56 L962.37 330.21 L963.44 329.87 L964.52 329.77 L965.61 329.67 L966.7 329.75 L967.79 329.97 L968.89 330.19 L970 330.37 L970.94 330.51 L971.92 330.59 L972.93 330.55 L973.97 330.52 L975.04 330.52 L976.13 330.54 L977.24 330.39 L978.38 329.86 L979.52 329.32 L980.69 329.49 L981.86 329.71 L983.04 330.18 L984.22 330.8 L985.41 331.12 L986.6 330.87 L987.78 330.61 L988.96 330.21 L990.12 329.81 L991.28 329.84 L992.42 330.01 L993.55 330.07 L994.66 329.95 L995.74 329.84 L996.8 329.94 L997.83 330.04 L998.82 330.26 L999.79 330.71 L1000.72 331.14 L1001.61 331.26 L1002.45 331.03 L1003.26 330.81 L1004.01 330.67 L1004.72 330.87 L1005.37 331.06 L1005.96 331.24 L1006.5 330.8" fill="none" stroke="#0000ff" stroke-width="2.75" stroke-linejoin="round" stroke-linecap="round"/>
<path d="M593.5 295.9 L594.18 295.72 L595.11 295.2 L596.22 294.59 L597.44 294.51 L598.73 294.43 L600 294.33 L600.99 294.26 L602.08 294.23 L603.22 294.25 L604.38 294.25 L605.52 293.78 L606.61 293.33 L607.62 292.87 L608.5 292.43 L609.88 291.76 L610.92 291.63 L611.88 291.46 L613 290.99 L613.9 290.42 L614.86 289.8 L615.86 289.6 L616.86 289.56 L617.85 289.5 L618.8 288.97 L619.88 288.41 L620.93 288.13 L621.96 288.21 L622.98 288.32 L624 287.99 L625.03 287.53 L626.06 287.12 L627.08 286.88 L628.07 286.71 L629 286.66 L630.07 286.82 L631.05 287.13 L632.01 287.65 L633 288.19 L634.02 288.68 L635.05 289.12 L636.1 289.54 L637.2 289.93 L638.34 290.3 L639.52 290.62 L640.74 290.64 L642 290.62 L643.09 290.57 L644.25 290.5 L645.41 290.6 L646.52 290.81 L647.5 290.9 L648.77 290.14 L649.82 289.22 L651 288.66 L651.87 288.47 L652.81 288.28 L653.79 287.64 L654.77 286.96 L655.7 286.33 L656.56 286.12 L657.37 285.89 L658.18 285.65 L659.04 285.1 L660 284.47 L660.88 283.88 L661.8 283.21 L662.77 282.51 L663.79 281.84 L664.83 281.15 L665.9 280.59 L666.85 280.44 L667.84 280.63 L668.85 280.89 L669.88 281 L670.92 281.06 L671.96 281.09 L673 280.98 L674.01 280.85 L674.99 280.77 L675.96 280.75 L676.96 280.73 L678 280.93 L679.1 281.22 L680.3 281.31 L681.22 281.06 L682.21 280.79 L683.26 280.76 L684.35 280.87 L685.45 280.99 L686.55 281.11 L687.62 281.21 L688.65 280.93 L689.62 280.45 L690.5 279.99 L691.81 280.26 L692.97 280.59 L694.03 280.47 L695.02 280.08 L696 279.69 L697 279.18 L698.01 278.67 L699.01 278.21 L699.98 277.89 L700.94 277.58 L701.88 277.27 L702.8 276.97 L703.9 276.6 L704.98 276.52 L706.04 276.54 L707.05 276.42 L708 275.6 L709.1 274.64 L710.11 274.26 L711.06 274.36 L712 274.42 L712.92 274.04 L713.81 273.45 L714.67 272.84 L715.5 272.2 L716.56 271.35 L717.56 270.46 L718.5 269.55 L719.17 268.75 L719.81 267.88 L720.42 266.9 L721 265.81 L721.44 264.83 L721.86 263.75 L722.25 262.62 L722.63 261.47 L723 260.35 L723.35 259.25 L723.68 258.14 L723.99 257.04 L724.3 255.95 L724.6 254.88 L724.9 253.87 L725.18 252.91 L725.46 251.95 L725.74 250.96 L726 249.94 L726.21 249.06 L726.42 248.16 L726.62 247.23 L726.81 246.26 L727.01 245.24 L727.2 244.14 L727.34 243.27 L727.48 242.37 L727.62 241.44 L727.75 240.48 L727.88 239.49 L728.02 238.46 L728.16 237.41 L728.3 236.32 L728.42 235.44 L728.53 234.52 L728.65 233.56 L728.77 232.58 L728.89 231.57 L729.01 230.54 L729.13 229.48 L729.25 228.39 L729.38 227.26 L729.5 226.1 L729.6 225.19 L729.69 224.26 L729.79 223.31 L729.89 222.35 L729.98 221.38 L730.08 220.38 L730.18 219.37 L730.28 218.33 L730.38 217.27 L730.48 216.18 L730.59 215.07 L730.69 213.93 L730.8 212.77 L730.88 211.85 L730.97 210.9 L731.05 209.93 L731.14 208.94 L731.23 207.94 L731.31 206.95 L731.4 205.96 L731.49 204.95 L731.58 203.94 L731.67 202.93 L731.76 201.91 L731.85 200.9 L731.94 199.89 L732.03 198.9 L732.12 197.91 L732.21 196.94 L732.3 195.98 L732.39 194.97 L732.48 193.95 L732.58 192.92 L732.67 191.89 L732.76 190.85 L732.84 189.82 L732.93 188.8 L733.02 187.78 L733.12 186.78 L733.21 185.79 L733.3 184.83 L733.4 183.88 L733.49 182.97 L733.59 182.08 L733.7 181.23 L733.8 180.41 L733.97 179.13 L734.15 177.87 L734.32 176.66 L734.51 175.5 L734.69 174.4 L734.88 173.36 L735.08 172.39 L735.28 171.49 L735.49 170.66 L735.7 169.91 L736.36 168.34 L737.13 167.09 L737.78 166.28 L738.1 166.02 L738.25 166.24 L738.55 166.84 L738.95 167.74 L739.41 168.93 L739.87 170.42 L740.3 172.03 L740.48 172.83 L740.67 173.72 L740.87 174.69 L741.06 175.71 L741.26 176.78 L741.46 177.89 L741.66 179.01 L741.86 180.13 L742.06 181.23 L742.25 182.26 L742.44 183.27 L742.62 184.22 L742.8 185.11 L743.02 186.17 L743.23 187.15 L743.43 188.06 L743.63 188.94 L743.82 189.81 L744.01 190.69 L744.2 191.6 L744.4 192.56 L744.59 193.61 L744.8 194.79 L744.94 195.66 L745.08 196.57 L745.23 197.51 L745.37 198.48 L745.51 199.48 L745.66 200.51 L745.81 201.55 L745.96 202.6 L746.1 203.67 L746.25 204.74 L746.4 205.8 L746.55 206.87 L746.7 207.92 L746.85 208.96 L747 209.99 L747.15 211.01 L747.3 212.04 L747.45 213.09 L747.6 214.14 L747.74 215.19 L747.89 216.25 L748.04 217.3 L748.19 218.34 L748.35 219.37 L748.5 220.39 L748.66 221.39 L748.81 222.37 L748.97 223.33 L749.13 224.25 L749.3 225.15 L749.53 226.32 L749.76 227.43 L750 228.51 L750.24 229.57 L750.48 230.61 L750.73 231.63 L750.98 232.63 L751.23 233.62 L751.49 234.61 L751.74 235.6 L752 236.61 L752.29 237.71 L752.59 238.81 L752.89 239.85 L753.2 240.78 L753.51 241.69 L753.81 242.6 L754.12 243.49 L754.42 244.38 L754.71 245.26 L755 246.13 L755.3 247.1 L755.59 248.1 L755.87 249.16 L756.14 250.2 L756.41 251.23 L756.69 252.22 L756.98 253.18 L757.28 254.09 L757.6 254.95 L758.11 256.15 L758.65 257.29 L759.21 258.34 L759.79 259.32 L760.39 260.21 L761 261.01 L761.77 261.81 L762.58 262.47 L763.41 263.01 L764.22 263.41 L765 263.74 L766.2 264.1 L767.35 264.85 L768.5 265.63 L769.62 265.89 L770.74 265.72 L772 265.75 L772.87 266.1 L773.81 266.52 L774.79 266.97 L775.77 267.44 L776.7 267.92 L777.59 268.55 L778.47 269.3 L779.33 270.07 L780.17 270.86 L781 271.68 L781.98 272.67 L782.9 273.5 L783.85 274.09 L784.9 274.51 L785.81 274.51 L786.75 274.3 L787.75 274 L788.83 273.83 L790 273.7 L790.91 273.62 L791.89 273.57 L792.91 273.5 L793.96 273.36 L795.04 273.15 L796.12 272.96 L797.2 273.11 L798.17 273.21 L799.17 273.11 L800.2 272.78 L801.24 272.42 L802.25 272.43 L803.23 272.47 L804.15 272.43 L805 271.82 L806.17 270.86 L807.16 269.97 L808.08 269.2 L808.99 268.39 L810 267.53 L810.8 266.88 L811.65 266.19 L812.51 265.51 L813.38 264.89 L814.24 264.28 L815.05 263.73 L815.8 263.41 L816.74 262.97 L817.59 262.54 L818.38 261.79 L819.17 261 L820 260.15 L820.74 259.3 L821.5 258.36 L822.27 257.39 L823.02 256.4 L823.74 255.53 L824.4 254.66 L824.99 253.78 L825.52 252.9 L826.02 252.11 L826.5 251.37 L826.99 250.62 L827.5 249.87 L828.03 249.08 L828.55 248.2 L829.08 247.16 L829.63 246.16 L830.2 245.22 L830.8 244.39 L831.58 243.6 L832.41 242.98 L833.26 242.46 L834.13 241.99 L835 241.55 L836.09 241.09 L837.21 240.71 L838.32 240.47 L839.4 240.46 L840.44 240.71 L841.44 241.21 L842.45 242.1 L843.5 243.25 L844.22 244.05 L844.95 244.8 L845.69 245.49 L846.45 246.21 L847.22 246.96 L848 247.75 L848.68 248.45 L849.37 249.17 L850.07 249.91 L850.77 250.75 L851.5 251.61 L852.24 252.5 L853 253.38 L853.7 254.15 L854.44 254.98 L855.21 255.83 L855.98 256.58 L856.74 257.28 L857.48 257.96 L858.17 258.61 L858.8 259.41 L859.66 260.52 L860.38 261.47 L861.04 262.19 L861.72 262.63 L862.5 263.04 L863.38 263.4 L864.3 264.38 L865.26 265.46 L866.26 266.54 L867.3 267.16 L868.18 267.71 L869.08 268.33 L870 269.16 L870.96 270 L871.95 270.77 L873 271.41 L873.84 271.87 L874.73 272.21 L875.65 272.4 L876.59 272.58 L877.54 272.97 L878.46 273.51 L879.36 274.02 L880.2 274.54 L881.23 275.21 L882.19 275.83 L883.11 276.1 L884.02 276.27 L884.97 276.42 L886 276.86 L886.9 277.3 L887.79 277.74 L888.7 278.01 L889.65 278.26 L890.68 278.54 L891.82 279.04 L893.1 279.52 L893.99 279.64 L894.94 279.71 L895.95 279.76 L896.99 279.67 L898.07 279.56 L899.19 279.49 L900.32 279.45 L901.48 279.4 L902.65 279.33 L903.83 279.25 L905 279.76 L906 280.28 L907.01 280.6 L908.03 280.45 L909.06 280.3 L910.1 280.25 L911.16 280.26 L912.22 280.28 L913.3 280.36 L914.4 280.45 L915.5 280.48 L916.62 280.49 L917.75 280.59 L918.9 280.96 L919.85 281.28 L920.81 281.46 L921.78 281.56 L922.77 281.66 L923.77 281.41 L924.78 281.1 L925.79 280.93 L926.81 281.4 L927.84 281.88 L928.87 282.18 L929.89 282.33 L930.92 282.49 L931.95 282.57 L932.97 282.64 L933.99 282.75 L935 282.95 L935.99 283.16 L936.96 283.46 L937.91 283.84 L938.84 284.21 L939.77 284.3 L940.69 284.27 L941.62 284.25 L942.56 284.47 L943.52 284.76 L944.49 285.04 L945.49 285.16 L946.53 285.28 L947.6 285.24 L948.71 284.93 L949.88 284.6 L951.1 285.28 L951.98 285.77 L952.87 286.07 L953.78 285.9 L954.7 285.72 L955.64 285.59 L956.59 285.55 L957.55 285.5 L958.54 285.58 L959.53 285.77 L960.54 285.95 L961.57 286.17 L962.61 286.4 L963.66 286.46 L964.73 285.98 L965.82 285.5 L966.92 285.39 L968.03 285.42 L969.15 285.5 L970.3 285.69 L971.45 285.88 L972.62 285.55 L973.8 285.19 L975 285.16 L975.92 285.27 L976.88 285.39 L977.88 285.58 L978.92 285.78 L979.99 285.96 L981.09 286.1 L982.22 286.24 L983.37 286.24 L984.53 286.22 L985.71 286.26 L986.9 286.34 L988.09 286.41 L989.28 286.48 L990.47 286.52 L991.66 286.28 L992.83 286.03 L993.99 286 L995.13 286.04 L996.25 286.07 L997.34 286.1 L998.4 286.12 L999.43 286.14 L1000.42 286.16 L1001.37 286.21 L1002.27 286.42 L1003.12 286.62 L1003.92 286.8 L1004.66 286.79 L1005.34 286.78 L1005.96 286.77 L1006.5 286.4" fill="none" stroke="#00ff00" stroke-width="2.75" stroke-linejoin="round" stroke-linecap="round"/>
<path d="M593.5 243.6 L594.16 243.5 L595.03 243.59 L596.09 243.68 L597.29 243.42 L598.6 243.07 L600 242.84 L600.93 242.72 L601.98 242.53 L603.12 242.25 L604.31 241.96 L605.53 242.01 L606.72 242.04 L607.86 242.18 L608.91 242.31 L609.83 242.34 L610.6 242.03 L612.13 241.08 L612.8 240.26 L613.5 239.4 L614.3 238.76 L615.14 238.06 L615.96 236.99 L616.7 235.74 L617.13 234.78 L617.51 233.73 L617.88 232.63 L618.23 231.52 L618.6 230.37 L619 229.19 L619.32 228.25 L619.66 227.24 L620 226.18 L620.35 225.11 L620.71 224.04 L621.07 223 L621.43 222.04 L621.8 221.18 L622.42 219.98 L623.07 218.92 L623.72 217.81 L624.34 216.79 L624.9 215.91 L625.96 214.53 L627 214.62 L627.93 214.82 L628.97 214.97 L630 214.9 L630.96 215.13 L631.91 215.62 L633 216.3 L633.74 216.81 L634.52 217.16 L635.35 217.41 L636.24 217.62 L637.2 217.98 L638.07 218.41 L638.99 218.83 L639.96 219.33 L640.96 219.93 L641.97 220.53 L643 221.05 L643.91 221.52 L644.86 222.02 L645.84 222.59 L646.82 223.17 L647.77 223.64 L648.67 223.91 L649.5 224.13 L650.74 224.48 L651.79 224.82 L652.83 225.1 L654 225.03 L655.07 224.95 L656.21 225.15 L657.39 225.62 L658.59 226.05 L659.8 226.31 L660.79 226.54 L661.77 226.59 L662.76 226.59 L663.78 226.64 L664.85 227.46 L666 228.32 L666.92 228.61 L667.9 228.59 L668.91 228.58 L669.94 228.9 L670.99 229.29 L672.04 229.52 L673.08 229.28 L674.1 228.99 L675.23 228.88 L676.35 228.86 L677.47 228.83 L678.58 228.86 L679.7 228.89 L680.84 228.89 L682 228.9 L683.05 229 L684.13 229.17 L685.23 229.36 L686.34 229.29 L687.43 229.19 L688.5 229.03 L689.53 228.81 L690.5 228.56 L691.71 228.21 L692.84 227.81 L693.92 227.48 L694.96 227.24 L695.98 227 L697 227.04 L698 227.13 L698.97 227.09 L699.92 226.39 L700.86 225.67 L701.82 225.11 L702.8 224.92 L703.66 224.7 L704.54 224.36 L705.43 223.87 L706.32 223.36 L707.22 222.7 L708.11 221.77 L709 220.86 L709.91 220.22 L710.86 220.07 L711.81 219.94 L712.75 219.76 L713.64 219.5 L714.47 219.17 L715.2 218.54 L715.92 217.17 L716.53 215.81 L717.06 214.45 L717.54 213.07 L718.01 212.01 L718.5 211.09 L718.93 210.28 L719.35 209.41 L719.77 208.51 L720.17 207.58 L720.56 206.59 L720.94 205.51 L721.3 204.45 L721.65 203.4 L721.98 202.36 L722.3 201.32 L722.61 200.26 L722.91 199.19 L723.21 198.07 L723.5 196.87 L723.72 195.96 L723.93 195.11 L724.13 194.28 L724.33 193.43 L724.52 192.53 L724.73 191.55 L724.94 190.46 L725.16 189.21 L725.4 187.77 L725.53 186.98 L725.66 186.15 L725.79 185.28 L725.93 184.43 L726.07 183.55 L726.22 182.64 L726.36 181.7 L726.51 180.74 L726.66 179.75 L726.81 178.74 L726.96 177.71 L727.11 176.66 L727.27 175.6 L727.42 174.53 L727.56 173.44 L727.71 172.35 L727.86 171.25 L728 170.15 L728.11 169.28 L728.22 168.38 L728.33 167.46 L728.44 166.52 L728.55 165.54 L728.66 164.52 L728.77 163.49 L728.88 162.45 L728.99 161.4 L729.09 160.34 L729.2 159.28 L729.31 158.22 L729.42 157.16 L729.53 156.1 L729.63 155.05 L729.74 154 L729.85 152.97 L729.96 151.94 L730.07 150.93 L730.17 149.93 L730.28 148.95 L730.39 147.99 L730.5 147.05 L730.63 145.93 L730.76 144.81 L730.89 143.7 L731.03 142.6 L731.16 141.5 L731.29 140.4 L731.42 139.3 L731.55 138.21 L731.68 137.14 L731.82 136.08 L731.95 135.03 L732.08 134 L732.21 132.99 L732.34 132 L732.47 131.04 L732.61 130.09 L732.74 129.17 L732.87 128.27 L733 127.4 L733.21 126.07 L733.42 124.78 L733.62 123.54 L733.83 122.35 L734.04 121.31 L734.24 120.39 L734.45 119.52 L734.66 118.69 L734.87 117.92 L735.08 117.21 L735.29 116.54 L735.5 115.94 L736.08 114.71 L736.75 113.72 L737.38 112.76 L737.86 112.16 L738.1 111.94 L738.32 112.11 L738.76 112.62 L739.34 113.49 L739.95 114.79 L740.5 116.48 L740.68 117.17 L740.86 117.9 L741.04 118.68 L741.22 119.51 L741.41 120.38 L741.59 121.3 L741.77 122.27 L741.96 123.3 L742.14 124.38 L742.32 125.52 L742.5 126.72 L742.67 127.98 L742.84 129.3 L743 130.68 L743.09 131.48 L743.18 132.31 L743.26 133.17 L743.35 134.05 L743.43 134.96 L743.51 135.88 L743.6 136.83 L743.68 137.8 L743.76 138.78 L743.84 139.78 L743.91 140.8 L743.99 141.83 L744.07 142.87 L744.15 143.92 L744.22 144.99 L744.3 146.06 L744.38 147.14 L744.45 148.23 L744.53 149.32 L744.61 150.42 L744.69 151.51 L744.76 152.59 L744.84 153.66 L744.92 154.73 L745 155.79 L745.07 156.73 L745.14 157.69 L745.2 158.68 L745.27 159.7 L745.34 160.73 L745.41 161.79 L745.47 162.87 L745.54 163.95 L745.6 165.05 L745.67 166.15 L745.74 167.26 L745.8 168.36 L745.87 169.47 L745.94 170.57 L746 171.66 L746.07 172.74 L746.14 173.81 L746.2 174.86 L746.27 175.89 L746.34 176.89 L746.41 177.87 L746.48 178.83 L746.55 179.74 L746.63 180.63 L746.7 181.47 L746.77 182.28 L746.85 183.04 L746.92 183.75 L747 184.41 L747.26 186.24 L747.52 187.67 L747.8 188.81 L748.08 189.7 L748.36 190.41 L748.65 191.04 L748.93 191.64 L749.22 192.3 L749.5 193.1 L749.85 194.23 L750.2 195.29 L750.55 196.24 L750.89 197.18 L751.25 198.11 L751.62 199.03 L752 199.97 L752.35 200.8 L752.71 201.64 L753.08 202.68 L753.46 203.79 L753.84 204.89 L754.22 205.99 L754.61 207.08 L755 208.16 L755.43 209.4 L755.85 210.41 L756.27 211.38 L756.71 212.32 L757.16 213.18 L757.66 213.93 L758.2 214.53 L759.05 215.38 L759.97 216 L760.95 216.46 L761.97 216.65 L763 216.85 L764.04 217.15 L765.1 217.54 L766.19 217.9 L767.32 218.27 L768.5 218.63 L769.51 219.08 L770.54 219.68 L771.61 220.27 L772.7 219.72 L773.83 219.04 L775 218.86 L776.05 219.14 L777.15 219.47 L778.28 220.06 L779.43 220.66 L780.58 221.15 L781.71 221.57 L782.8 221.81 L783.86 221.66 L784.9 221.51 L785.93 221.09 L786.95 220.52 L787.96 219.94 L788.98 219.69 L790 219.37 L791.06 219.29 L792.17 219.58 L793.28 219.81 L794.37 219.06 L795.41 218.32 L796.37 217.73 L797.2 217.36 L798.57 217.09 L799.54 217.6 L800.7 217.86 L801.48 217.73 L802.33 217.14 L803.23 216.45 L804.15 215.69 L805.08 214.7 L806 213.76 L806.78 213 L807.56 212.44 L808.35 211.88 L809.14 211.3 L809.93 210.68 L810.72 210 L811.5 209.23 L812.12 208.57 L812.75 208 L813.39 207.41 L814.03 206.79 L814.66 206.12 L815.27 205.23 L815.85 204.2 L816.4 203.13 L816.9 202.02 L817.27 201.07 L817.62 200.07 L817.94 199.07 L818.24 198.04 L818.52 196.99 L818.79 195.93 L819.05 194.88 L819.31 193.84 L819.57 192.85 L819.83 191.9 L820.1 191.02 L820.47 189.93 L820.81 188.97 L821.13 188.09 L821.46 187.24 L821.8 186.39 L822.16 185.48 L822.56 184.47 L823 183.33 L823.33 182.3 L823.69 181.18 L824.08 179.98 L824.49 178.72 L824.91 177.43 L825.33 176.13 L825.75 174.89 L826.17 174.07 L826.56 173.29 L826.94 172.55 L827.29 171.87 L827.6 171.26 L828.12 170.24 L828.54 169.3 L828.9 168.33 L829.24 167.45 L829.59 166.58 L830 165.65 L830.46 164.64 L830.95 163.6 L831.45 162.56 L831.96 161.57 L832.48 160.67 L833 159.89 L834.03 158.55 L835.08 157.19 L836.2 156.18 L837.13 156.26 L838.11 156.88 L839.09 157.63 L840 158.38 L841.06 159.3 L842.04 160.15 L843 160.36 L843.73 160.55 L844.44 160.78 L845.16 161.68 L845.9 162.98 L846.32 163.83 L846.73 164.71 L847.15 165.65 L847.57 166.65 L848.01 167.75 L848.49 168.97 L849 170.34 L849.32 171.25 L849.67 172.24 L850.03 173.29 L850.4 174.12 L850.78 174.99 L851.17 175.88 L851.56 176.77 L851.94 177.66 L852.33 178.52 L852.7 179.35 L853.06 180.55 L853.4 181.67 L853.83 183.05 L854.25 184.34 L854.65 185.56 L855.04 186.73 L855.42 187.85 L855.81 188.64 L856.2 189.44 L856.59 190.25 L857 191.09 L857.41 191.95 L857.8 192.82 L858.19 193.7 L858.58 194.6 L858.98 195.5 L859.4 196.42 L859.86 197.33 L860.36 198.26 L860.9 199.22 L861.38 200.12 L861.88 201.03 L862.4 201.96 L862.95 202.9 L863.51 203.84 L864.09 204.78 L864.7 205.72 L865.32 206.66 L865.96 207.6 L866.62 208.46 L867.3 209.26 L867.9 209.95 L868.54 210.67 L869.21 211.51 L869.9 212.49 L870.6 213.48 L871.32 214.47 L872.03 215.16 L872.75 215.66 L873.45 216.13 L874.13 216.57 L874.79 217.19 L875.41 217.83 L876 218.4 L877.15 219.42 L878.17 220.41 L879.12 221.2 L880.04 221.7 L880.98 221.87 L882 222.11 L882.91 222.37 L883.81 222.64 L884.73 222.9 L885.68 223.5 L886.66 224.34 L887.7 225.19 L888.8 225.78 L889.71 226.22 L890.66 226.58 L891.65 226.49 L892.67 226.38 L893.71 226.38 L894.77 226.48 L895.84 226.57 L896.92 227.15 L898 227.75 L898.95 228.18 L899.87 228.44 L900.78 228.69 L901.69 228.93 L902.62 229.14 L903.6 229.35 L904.62 229.82 L905.72 230.48 L906.91 230.98 L908.2 230.53 L909.07 230.22 L909.99 230.5 L910.96 231.15 L911.97 231.82 L913.01 231.53 L914.08 231.09 L915.17 230.88 L916.27 231.15 L917.39 231.43 L918.51 231.92 L919.63 232.43 L920.74 232.82 L921.84 233.1 L922.92 233.37 L923.98 233.46 L925 233.55 L926.06 233.63 L927.09 233.68 L928.1 233.73 L929.1 233.84 L930.08 233.96 L931.06 234.09 L932.04 234.26 L933.02 234.43 L934 234.62 L935.01 234.88 L936.03 235.13 L937.07 235.21 L938.15 235.17 L939.25 235.17 L940.4 235.43 L941.33 235.62 L942.27 235.8 L943.22 235.95 L944.18 236.1 L945.16 236.13 L946.15 236.08 L947.15 236.03 L948.16 236.27 L949.18 236.52 L950.22 236.7 L951.26 236.73 L952.32 236.76 L953.39 237.08 L954.46 237.5 L955.55 237.76 L956.65 237.43 L957.76 237.1 L958.87 236.95 L960 236.86 L960.94 236.83 L961.9 236.93 L962.87 237.03 L963.85 237.17 L964.84 237.35 L965.84 237.54 L966.85 237.82 L967.87 238.14 L968.9 238.41 L969.93 238.23 L970.96 238.05 L972 238.08 L973.04 238.35 L974.09 238.62 L975.13 239.04 L976.18 239.47 L977.22 239.48 L978.26 238.54 L979.3 237.61 L980.33 237.62 L981.36 238.02 L982.39 238.4 L983.4 238.76 L984.43 239.12 L985.5 239.34 L986.6 239.4 L987.72 239.46 L988.87 239.44 L990.03 239.41 L991.2 239.28 L992.37 239.11 L993.54 239.1 L994.7 239.37 L995.85 239.63 L996.97 239.52 L998.08 239.42 L999.15 239.25 L1000.19 239.05 L1001.18 238.86 L1002.13 239.45 L1003.02 240.02 L1003.86 240.56 L1004.63 240.24 L1005.33 239.91 L1005.96 239.61 L1006.5 239.1" fill="none" stroke="#ff0000" stroke-width="2.75" stroke-linejoin="round" stroke-linecap="round"/>
<path d="M593.5 110.5 L593.71 111.6 L593.98 112.49 L594.3 113.53 L594.66 114.74 L595.04 116.12 L595.43 117.65 L595.82 119.36 L596.2 121.23 L596.36 121.93 L596.53 122.69 L596.7 123.52 L596.88 124.4 L597.06 125.33 L597.24 126.3 L597.42 127.29 L597.6 128.32 L597.78 129.35 L597.96 130.4 L598.14 131.44 L598.32 132.48 L598.49 133.5 L598.66 134.5 L598.83 135.46 L598.99 136.43 L599.15 137.4 L599.3 138.3 L599.52 139.58 L599.72 140.81 L599.92 142 L600.11 143.14 L600.3 144.25 L600.48 145.32 L600.65 146.35 L600.82 147.36 L600.99 148.33 L601.16 149.28 L601.33 150.21 L601.5 151.11 L601.75 152.41 L601.99 153.65 L602.23 154.83 L602.46 155.95 L602.69 156.98 L602.92 157.93 L603.16 158.77 L603.4 159.5 L604.04 160.89 L604.69 161.64 L605.4 161.94 L606.66 161.56 L608 160.5 L608.52 159.89 L609.05 159.13 L609.57 158.26 L610.09 157.19 L610.6 156.06 L611.01 155.12 L611.4 154.19 L611.79 153.22 L612.19 152.19 L612.58 151.08 L613 149.84 L613.29 148.96 L613.59 148.05 L613.89 147.11 L614.2 146.13 L614.51 145.11 L614.82 144.03 L615.12 142.9 L615.42 141.77 L615.7 140.57 L615.89 139.69 L616.08 138.77 L616.27 137.82 L616.45 136.84 L616.64 135.83 L616.82 134.79 L616.99 133.74 L617.17 132.66 L617.34 131.57 L617.51 130.47 L617.68 129.36 L617.84 128.24 L618 127.12 L618.13 126.15 L618.26 125.18 L618.39 124.2 L618.51 123.23 L618.62 122.24 L618.74 121.25 L618.85 120.24 L618.96 119.22 L619.08 118.18 L619.19 117.12 L619.3 116.04 L619.42 114.94 L619.54 113.81 L619.67 112.64 L619.8 111.45 L619.9 110.52 L620.01 109.56 L620.11 108.58 L620.22 107.56 L620.33 106.53 L620.44 105.48 L620.55 104.44 L620.67 103.43 L620.78 102.42 L620.89 101.4 L621.01 100.38 L621.12 99.36 L621.24 98.35 L621.35 97.35 L621.46 96.35 L621.57 95.38 L621.68 94.42 L621.79 93.48 L621.9 92.57 L622 91.69 L622.13 90.62 L622.25 89.57 L622.37 88.55 L622.49 87.55 L622.61 86.57 L622.73 85.6 L622.84 84.64 L622.96 83.7 L623.07 82.77 L623.19 81.84 L623.3 80.88 L623.42 79.91 L623.54 78.95 L623.65 77.98 L623.78 77.01 L623.9 76.02 L624.04 74.96 L624.17 73.85 L624.32 72.73 L624.46 71.59 L624.6 70.44 L624.75 69.3 L624.9 68.17 L625.04 67.06 L625.19 65.98 L625.33 64.95 L625.47 63.96 L625.61 63.03 L625.74 62.17 L625.87 61.38 L626 60.71 L626.5 58.79 L627 57.61 L627.4 57.01 L627.6 56.86 L627.83 57.13 L628.3 58 L628.9 59.37 L629.5 61.38 L629.64 62.02 L629.78 62.73 L629.92 63.5 L630.07 64.34 L630.22 65.23 L630.37 66.18 L630.53 67.16 L630.69 68.18 L630.85 69.23 L631.01 70.31 L631.17 71.4 L631.33 72.52 L631.49 73.68 L631.64 74.84 L631.8 75.99 L631.95 77.13 L632.1 78.25 L632.22 79.19 L632.35 80.14 L632.47 81.1 L632.59 82.06 L632.71 83.03 L632.83 84.01 L632.94 85 L633.06 85.99 L633.18 86.98 L633.29 87.99 L633.41 89 L633.53 90.01 L633.65 91.03 L633.76 92.06 L633.88 93.09 L634 94.14 L634.13 95.21 L634.25 96.29 L634.37 97.37 L634.5 98.46 L634.62 99.47 L634.73 100.51 L634.85 101.57 L634.97 102.65 L635.09 103.75 L635.21 104.86 L635.33 105.99 L635.46 107.12 L635.58 108.25 L635.7 109.38 L635.83 110.5 L635.95 111.62 L636.07 112.73 L636.2 113.82 L636.32 114.89 L636.45 115.94 L636.57 116.96 L636.7 117.95 L636.82 118.86 L636.95 119.74 L637.07 120.57 L637.2 121.36 L637.43 122.69 L637.67 123.91 L637.9 125.03 L638.14 126.06 L638.38 127.02 L638.62 127.92 L638.86 128.78 L639.1 129.61 L639.33 130.43 L639.56 131.17 L639.78 131.91 L640 132.68 L640.25 133.62 L640.49 134.55 L640.71 135.46 L640.94 136.36 L641.16 137.24 L641.38 138.1 L641.6 138.94 L641.82 139.77 L642.06 140.57 L642.3 141.72 L642.58 143.05 L642.86 144.32 L643.14 145.55 L643.43 146.77 L643.72 148 L644.03 149.26 L644.34 150.56 L644.66 151.94 L645 153.07 L645.28 153.85 L645.61 154.77 L645.96 155.77 L646.33 156.84 L646.71 157.92 L647.08 158.98 L647.43 159.99 L647.76 161.11 L648.04 162.12 L648.26 162.92 L648.42 163.47 L648.5 163.7 L649.03 163.25 L650.01 162.14 L651 161.19 L651.87 161.16 L652.74 161.64 L653.6 163.48 L654.09 164.91 L654.56 166.52 L655.02 168.23 L655.5 169.95 L656 170.82 L656.62 171.56 L657.22 172.26 L657.92 172.78 L658.8 173.15 L659.67 173.29 L660.67 173.24 L661.75 172.83 L662.87 172.28 L664 172.18 L664.97 173.1 L665.98 174.07 L667.01 174.17 L668.04 173.65 L669.05 173.15 L670 173.99 L671.06 175.01 L672.06 175.5 L673.03 174.69 L674 173.87 L675 173.82 L676.05 174.63 L677.13 175.49 L678.21 176.19 L679.27 176.82 L680.3 176.9 L681.5 176.03 L682.64 175.08 L683.78 175.27 L685 175.62 L686.06 175.81 L687.19 176 L688.33 176.31 L689.45 176.79 L690.5 177.13 L691.66 176.48 L692.73 175.56 L693.81 175.03 L695 175.34 L696.09 175.8 L697.26 176.48 L698.46 177.21 L699.66 176.27 L700.8 174.64 L701.88 173.56 L702.93 173.5 L703.96 173.39 L704.98 173.47 L706 173.64 L707.03 173.75 L708.06 173.02 L709.08 172.3 L710.07 171.65 L711 171.07 L712.06 170.37 L713.04 170.68 L714 171.2 L715 171.61 L715.87 170.8 L716.78 169.89 L717.68 168.9 L718.54 168.04 L719.3 167.11 L719.85 166.27 L720.33 165.36 L720.77 164.37 L721.18 163.34 L721.59 162.3 L722 161.26 L722.42 160.36 L722.81 159.61 L723.21 158.83 L723.6 157.84 L723.99 156.51 L724.4 154.67 L724.54 153.93 L724.68 153.13 L724.82 152.27 L724.97 151.36 L725.11 150.4 L725.26 149.4 L725.4 148.37 L725.55 147.3 L725.69 146.2 L725.84 145.06 L725.99 143.85 L726.13 142.62 L726.28 141.39 L726.43 140.14 L726.57 138.89 L726.71 137.64 L726.86 136.4 L727 135.17 L727.12 134.15 L727.23 133.11 L727.35 132.06 L727.47 130.98 L727.58 129.89 L727.7 128.79 L727.82 127.67 L727.94 126.55 L728.05 125.42 L728.17 124.28 L728.29 123.15 L728.4 122.01 L728.52 120.88 L728.63 119.75 L728.74 118.63 L728.86 117.52 L728.97 116.42 L729.08 115.33 L729.19 114.26 L729.29 113.21 L729.4 112.18 L729.5 111.18 L729.62 109.97 L729.74 108.79 L729.86 107.62 L729.98 106.47 L730.09 105.34 L730.2 104.22 L730.31 103.11 L730.42 102.01 L730.52 100.93 L730.63 99.85 L730.74 98.79 L730.84 97.73 L730.95 96.68 L731.06 95.63 L731.17 94.59 L731.28 93.68 L731.39 92.84 L731.5 91.99 L731.63 91.05 L731.76 90.1 L731.88 89.15 L732.01 88.2 L732.14 87.26 L732.27 86.33 L732.4 85.4 L732.53 84.49 L732.66 83.6 L732.79 82.73 L732.92 81.87 L733.05 81.04 L733.19 80.24 L733.32 79.47 L733.46 78.73 L733.6 78.02 L733.83 76.95 L734.07 75.64 L734.31 74.25 L734.55 72.92 L734.8 71.65 L735.05 70.44 L735.29 69.3 L735.53 68.24 L735.77 67.26 L736 66.38 L736.85 64.22 L737.67 63.48 L738.1 63.36 L738.26 63.69 L738.6 64.5 L739.05 65.7 L739.55 67.11 L740.06 68.66 L740.5 70.34 L740.68 71.18 L740.86 72.08 L741.04 73.04 L741.22 74.05 L741.4 75.11 L741.57 76.21 L741.75 77.35 L741.93 78.51 L742.1 79.61 L742.28 80.66 L742.45 81.72 L742.63 82.78 L742.8 83.83 L742.94 84.68 L743.08 85.55 L743.22 86.42 L743.36 87.3 L743.5 88.19 L743.64 89.09 L743.78 90 L743.92 90.92 L744.06 91.84 L744.19 92.78 L744.33 93.73 L744.47 94.69 L744.6 95.66 L744.74 96.68 L744.87 97.8 L745 98.93 L745.12 99.96 L745.23 101.01 L745.34 102.08 L745.45 103.16 L745.56 104.27 L745.66 105.38 L745.77 106.5 L745.88 107.62 L745.98 108.75 L746.09 109.87 L746.2 110.99 L746.3 112.1 L746.41 113.19 L746.53 114.27 L746.64 115.32 L746.76 116.36 L746.88 117.37 L747 118.34 L747.16 119.56 L747.33 120.75 L747.5 121.96 L747.68 123.17 L747.86 124.36 L748.04 125.53 L748.22 126.68 L748.4 127.82 L748.59 128.95 L748.77 130.06 L748.96 131.17 L749.14 132.27 L749.32 133.37 L749.5 134.47 L749.71 135.75 L749.91 137.03 L750.11 138.29 L750.31 139.32 L750.52 140.34 L750.72 141.33 L750.92 142.31 L751.13 143.25 L751.34 144.17 L751.55 145.04 L751.77 145.86 L752 146.64 L752.35 147.69 L752.71 148.63 L753.08 149.32 L753.46 149.89 L753.84 150.41 L754.22 150.9 L754.61 151.39 L755 151.91 L755.44 152.54 L755.88 153.75 L756.33 155.04 L756.78 156.3 L757.24 157.5 L757.71 158.61 L758.2 159.63 L759.09 160.68 L760.02 161.45 L760.99 162.09 L762 162.88 L763.05 163.73 L764.15 164.46 L765.27 165.09 L766.4 165.68 L767.29 165.85 L768.17 166.02 L769.07 166.2 L770.01 166.58 L771 166.94 L771.88 167.33 L772.8 168.11 L773.74 168.9 L774.71 169.25 L775.7 168.67 L776.7 168 L777.71 168.36 L778.73 169.41 L779.77 170.42 L780.83 170.08 L781.9 169.69 L783 169.32 L783.99 168.99 L785.04 168.62 L786.11 168.5 L787.17 168.44 L788.2 168.5 L789.15 168.83 L790 169.18 L791.2 169.27 L792.15 169.08 L793.03 168.95 L794 168.86 L795.14 168.7 L796.34 168.96 L797.52 170.23 L798.6 171.1 L799.36 170.99 L800.07 170.56 L800.73 169.99 L801.36 169.4 L802 168.25 L802.7 167 L803.31 165.84 L804.01 164.58 L805 163.62 L805.65 163.14 L806.38 162.69 L807.18 162.19 L808.03 161.6 L808.91 160.95 L809.79 160.11 L810.66 158.95 L811.5 157.65 L812 156.76 L812.5 156.08 L813 155.51 L813.5 154.9 L814 154.24 L814.51 153.55 L815.01 152.8 L815.51 151.88 L816.01 150.96 L816.51 150.04 L817.01 149.14 L817.5 148.25 L818 147.22 L818.5 146.15 L819.02 145.06 L819.54 143.97 L820.07 142.88 L820.6 141.97 L821.12 141.21 L821.64 140.46 L822.15 139.71 L822.64 138.97 L823.12 138.11 L823.57 136.89 L824 135.71 L824.4 134.58 L824.88 133.18 L825.31 131.85 L825.71 130.59 L826.08 129.81 L826.43 129.04 L826.75 128.28 L827.07 127.51 L827.38 126.73 L827.69 125.95 L828 125.15 L828.31 124.33 L828.6 123.31 L828.87 122.22 L829.13 121.12 L829.39 120.03 L829.65 118.94 L829.92 117.87 L830.2 116.8 L830.49 115.75 L830.8 114.72 L831.17 113.59 L831.56 112.59 L831.96 111.59 L832.37 110.62 L832.79 109.67 L833.22 108.78 L833.65 107.97 L834.08 107.3 L834.5 106.77 L835.49 105.91 L836.52 105.42 L837.51 104.96 L838.4 104.87 L839.14 105.19 L839.78 106.08 L840.37 107.29 L841 108.71 L841.38 109.63 L841.75 110.64 L842.12 111.67 L842.5 112.71 L842.88 113.8 L843.28 114.95 L843.7 116.12 L844.01 116.97 L844.32 117.86 L844.65 118.75 L844.98 119.49 L845.32 120.25 L845.66 121.02 L846 121.78 L846.34 122.55 L846.67 123.31 L847 124.05 L847.31 124.78 L847.6 125.93 L847.87 127.03 L848.13 128.11 L848.41 129.22 L848.69 130.38 L849.01 131.62 L849.36 132.98 L849.75 134.49 L850.2 135.78 L850.48 136.25 L850.79 136.77 L851.12 137.31 L851.46 137.89 L851.83 138.49 L852.21 139.11 L852.6 139.75 L852.99 140.87 L853.39 142.17 L853.79 143.47 L854.18 144.75 L854.57 146.01 L854.95 147.23 L855.32 148.41 L855.67 149.42 L856 150.33 L856.31 151.17 L856.6 151.93 L857.23 153.57 L857.74 154.87 L858.17 155.9 L858.57 156.68 L858.98 157.42 L859.45 158.18 L860 159.07 L860.5 159.86 L861.04 160.78 L861.61 161.84 L862.21 162.91 L862.82 163.98 L863.43 165.01 L864.04 165.78 L864.63 166.45 L865.2 167.04 L866.01 167.76 L866.79 168.2 L867.55 168.5 L868.33 168.72 L869.14 169.16 L870 170.26 L870.92 171.4 L871.87 172.25 L872.86 172.37 L873.88 172.47 L874.93 172.58 L876 172.7 L876.94 172.83 L877.9 173.59 L878.88 174.41 L879.88 175.18 L880.9 175.61 L881.94 176.04 L883 176.57 L883.91 177.1 L884.79 177.63 L885.66 177.9 L886.56 178 L887.52 178.08 L888.55 178.59 L889.71 179.3 L891 179.82 L891.82 179.9 L892.69 179.97 L893.6 180.36 L894.57 181.19 L895.56 182.03 L896.59 181.92 L897.63 181.31 L898.69 180.8 L899.76 181.62 L900.83 182.44 L901.9 182.58 L902.95 182.18 L903.99 181.79 L905 182.38 L906.05 183.01 L907.07 183.61 L908.07 184.2 L909.05 184.77 L910.03 184.41 L911.01 183.53 L912.01 182.62 L913.03 182.83 L914.1 183.15 L915.2 183.25 L916.37 182.9 L917.6 182.57 L918.9 182.78 L919.75 182.92 L920.63 183.04 L921.53 183.16 L922.46 183.29 L923.41 183.51 L924.38 183.82 L925.37 184.13 L926.38 184.5 L927.4 184.89 L928.43 185.24 L929.47 185.29 L930.52 185.35 L931.58 185.1 L932.64 184.61 L933.7 184.12 L934.77 184.44 L935.83 184.76 L936.88 184.67 L937.93 184.1 L938.97 183.52 L940 184.2 L941.02 185.06 L942.05 185.64 L943.08 185.39 L944.1 185.13 L945.13 184.87 L946.16 184.6 L947.2 184.34 L948.23 184.53 L949.27 184.73 L950.31 185.08 L951.35 185.65 L952.39 186.22 L953.43 186.23 L954.48 186.1 L955.53 186.06 L956.59 186.33 L957.64 186.59 L958.7 186.43 L959.76 186.04 L960.83 185.73 L961.9 186.02 L962.88 186.28 L963.87 186.36 L964.87 186.25 L965.87 186.13 L966.87 185.75 L967.88 185.3 L968.89 184.93 L969.91 185.48 L970.93 186.02 L971.95 186.35 L972.97 186.38 L973.98 186.42 L975 186.27 L976.02 186.08 L977.04 186 L978.05 186.58 L979.06 187.17 L980.06 187.73 L981.06 188.26 L982.06 188.79 L983.05 188.73 L984.03 188.49 L985 188.25 L986.08 187.71 L987.2 187.16 L988.34 186.63 L989.51 186.13 L990.69 185.86 L991.89 186.33 L993.08 186.8 L994.27 186.64 L995.45 186.46 L996.62 186.67 L997.76 187.04 L998.87 187.43 L999.95 187.87 L1000.99 188.3 L1001.97 188.05 L1002.9 187.63 L1003.77 187.24 L1004.57 186.86 L1005.3 186.5 L1005.94 186.18 L1006.5 187.3" fill="none" stroke="#800080" stroke-width="2.75" stroke-linejoin="round" stroke-linecap="round"/>
<path d="M65 843.9 L65.69 843.18 L66.66 843.38 L67.81 843.6 L69.04 843.8 L70.26 843.97 L71.38 843.82 L72.3 843.62 L73.46 843.1 L74.33 842.4 L75.1 841.7 L76 840.99 L77.07 840.1 L78.2 839.22 L79.36 838.75 L80.5 838.43 L81.59 837.98 L82.67 837.34 L83.78 836.7 L85 835.89 L86.09 835.2 L87.26 834.91 L88.46 834.97 L89.66 835.11 L90.8 835.39 L91.88 835.65 L92.93 835.27 L93.96 834.81 L94.98 834.38 L96 833.98 L97.03 833.62 L98.06 833.27 L99.08 832.88 L100.07 832.42 L101 832.34 L101.86 832.11 L102.66 831.76 L103.43 830.99 L104.2 830.07 L105 829.06 L105.6 828.32 L106.21 827.72 L106.83 827.07 L107.45 826.39 L108.06 825.65 L108.65 824.84 L109.2 823.98 L109.66 823.17 L110.09 822.28 L110.5 821.35 L110.91 820.38 L111.3 818.99 L111.7 817.61 L112.09 816.27 L112.5 814.97 L113.02 813.38 L113.61 811.65 L114.21 810.87 L114.78 810.16 L115.27 809.58 L115.63 809.19 L115.8 809.06 L116.15 809.55 L116.85 810.12 L117.7 810.73 L118.5 811.42 L118.98 811.95 L119.46 812.86 L119.95 813.85 L120.45 814.86 L120.97 815.87 L121.5 816.83 L122.16 817.81 L122.85 818.72 L123.56 819.6 L124.28 820.47 L125 821.86 L125.73 823.44 L126.48 825.13 L127.24 826.62 L127.98 827.33 L128.7 827.66 L129.54 827.42 L130.34 826.71 L131.14 825.8 L132 824.97 L132.9 824.19 L133.84 823.23 L134.83 822.15 L135.9 820.98 L136.57 820.2 L137.27 819.33 L138 818.44 L138.75 817.9 L139.51 817.35 L140.26 816.81 L141 816.24 L141.73 815.59 L142.46 814.88 L143.2 814.16 L143.93 813.3 L144.66 812.5 L145.38 811.86 L146.1 811.46 L147.09 811.59 L148.07 812.09 L149.04 812.58 L150.02 812.76 L151 812.82 L151.97 813.39 L152.92 814.39 L153.89 815.38 L154.9 815.53 L156 815.39 L156.96 815.38 L157.94 816.03 L158.97 816.7 L160.06 816.8 L161.23 816.27 L162.5 815.77 L163.42 815.67 L164.38 815.54 L165.39 815.36 L166.43 815.13 L167.51 814.88 L168.61 815.39 L169.73 815.97 L170.86 816.29 L172 816.36 L172.95 816.41 L173.92 816.11 L174.92 815.77 L175.93 815.52 L176.95 815.56 L177.98 815.6 L179.01 815.46 L180.03 815.21 L181.04 814.96 L182.03 814.9 L183 814.86 L184.04 814.87 L185.05 814.97 L186.05 815.09 L187.04 814.9 L188.03 814.48 L189 814.06 L189.99 814.28 L190.98 814.66 L191.98 815.04 L193 815.48 L194.04 815.92 L195.08 816.23 L196.14 816.37 L197.21 816.52 L198.27 816.93 L199.35 817.36 L200.42 817.57 L201.48 817.43 L202.55 817.26 L203.6 817.1 L204.65 816.9 L205.7 816.62 L206.74 816.26 L207.79 815.87 L208.83 814.98 L209.87 813.87 L210.91 812.93 L211.94 813.41 L212.97 813.91 L214 813.89 L215.04 813.31 L216.11 812.74 L217.18 812.91 L218.26 813.16 L219.33 813.1 L220.38 812.59 L221.39 812.08 L222.35 811.76 L223.26 811.48 L224.1 811.2 L225.32 810.66 L226.36 810.1 L227.28 809.57 L228.15 809.13 L229.04 808.69 L230 808.07 L230.89 807.15 L231.8 806.23 L232.72 805.53 L233.65 805.22 L234.58 804.89 L235.5 804.85 L236.4 805.18 L237.29 805.45 L238.16 805.24 L239.03 804.4 L239.89 803.53 L240.76 802.65 L241.63 801.73 L242.5 800.8 L243.38 799.94 L244.26 799.3 L245.14 798.65 L246.03 797.98 L246.92 797.25 L247.81 796.48 L248.7 795.78 L249.41 795.97 L250.14 796.18 L250.89 796.37 L251.63 795.85 L252.37 794.44 L253.08 793.02 L253.77 791.6 L254.41 790.47 L255 789.49 L255.48 788.57 L255.92 787.62 L256.32 786.64 L256.7 785.63 L257.06 784.59 L257.4 783.53 L257.74 782.46 L258.08 781.39 L258.43 780.31 L258.8 779.22 L259.15 778.24 L259.49 777.23 L259.84 776.13 L260.18 775.02 L260.53 773.9 L260.87 772.78 L261.22 771.64 L261.56 770.48 L261.91 769.31 L262.25 768.33 L262.6 767.59 L262.92 766.88 L263.24 766.15 L263.57 765.38 L263.9 764.6 L264.23 763.81 L264.56 763 L264.88 762.16 L265.2 761.23 L265.51 760.31 L265.82 759.4 L266.11 758.52 L266.4 757.67 L266.73 756.7 L267.04 755.78 L267.34 754.89 L267.63 753.95 L267.91 752.93 L268.19 751.9 L268.47 750.86 L268.74 749.78 L269.02 748.65 L269.3 747.46 L269.52 746.49 L269.75 745.47 L269.97 744.42 L270.2 743.33 L270.43 742.21 L270.65 741.07 L270.87 739.94 L271.09 738.81 L271.31 737.7 L271.52 736.61 L271.72 735.56 L271.91 734.56 L272.1 733.61 L272.35 732.32 L272.58 731.12 L272.79 729.98 L272.98 728.88 L273.18 727.81 L273.37 726.75 L273.57 725.69 L273.78 724.62 L274 723.51 L274.24 722.35 L274.48 721.14 L274.73 719.9 L274.98 718.66 L275.24 717.45 L275.5 716.29 L275.77 715.22 L276.03 714.25 L276.3 713.41 L277.01 711.84 L277.8 710.61 L278.47 709.92 L278.8 709.84 L279.05 710.17 L279.57 711.01 L280.24 712.23 L280.96 713.73 L281.6 715.06 L281.89 715.81 L282.18 716.63 L282.47 717.53 L282.76 718.5 L283.05 719.52 L283.34 720.58 L283.63 721.68 L283.92 722.79 L284.21 723.91 L284.5 725.03 L284.72 725.91 L284.94 726.83 L285.15 727.79 L285.37 728.77 L285.58 729.77 L285.79 730.78 L286.01 731.79 L286.22 732.81 L286.43 733.86 L286.65 735.1 L286.86 736.33 L287.08 737.53 L287.3 738.7 L287.56 740.05 L287.82 741.38 L288.09 742.68 L288.35 743.96 L288.62 745.24 L288.88 746.5 L289.15 747.67 L289.41 748.45 L289.68 749.23 L289.94 750.02 L290.2 750.83 L290.46 751.63 L290.71 752.43 L290.97 753.22 L291.22 754.01 L291.47 754.8 L291.73 755.6 L291.98 756.59 L292.23 757.66 L292.49 758.75 L292.74 759.86 L293 761.01 L293.21 762 L293.42 763.02 L293.63 764.07 L293.83 765.13 L294.03 766.2 L294.23 767.29 L294.44 768.37 L294.65 769.35 L294.87 770.26 L295.11 771.15 L295.35 772.02 L295.62 772.85 L295.9 773.65 L296.23 774.48 L296.57 775.29 L296.93 776.09 L297.3 777.06 L297.68 778.58 L298.08 780.1 L298.48 781.6 L298.89 783.1 L299.31 784.58 L299.74 786.04 L300.17 786.94 L300.6 787.48 L301.18 788.15 L301.76 788.74 L302.36 789.28 L302.96 790 L303.58 790.83 L304.22 791.64 L304.89 792.42 L305.58 793.21 L306.3 794.04 L307.06 794.85 L307.86 795.62 L308.69 796.03 L309.55 796.33 L310.42 796.61 L311.3 797.15 L312.17 797.81 L313.05 798.48 L313.9 799.28 L314.76 800.19 L315.64 801.11 L316.53 801.75 L317.41 802.08 L318.29 802.41 L319.15 803 L319.98 803.93 L320.77 804.83 L321.5 805.67 L322.48 806.78 L323.34 807.83 L324.12 808.82 L324.9 809.43 L325.7 809.93 L326.6 810.32 L327.59 810.82 L328.63 811.34 L329.71 811.76 L330.81 811.8 L331.91 811.83 L333 812.11 L334.08 812.51 L335.16 812.79 L336.24 812.39 L337.33 811.99 L338.42 811.96 L339.5 812.13 L340.58 812.21 L341.67 811.79 L342.76 811.36 L343.84 811.53 L344.92 811.97 L346 812.29 L347.08 812.22 L348.17 812.18 L349.26 812.43 L350.33 812.76 L351.38 812.9 L352.4 812.44 L353.39 811.84 L354.34 811.46 L355.28 811.38 L356.2 811.24 L357.1 811.22 L358 811.33 L358.88 811.44 L359.73 810.71 L360.56 809.19 L361.4 807.65 L362.24 806.46 L363.1 806.19 L363.98 805.91 L364.88 805.53 L365.78 804.82 L366.69 804.09 L367.6 803.25 L368.5 802.05 L369.29 801.03 L370.1 800.01 L370.91 799.47 L371.71 798.89 L372.49 798.25 L373.22 797.43 L373.9 796.44 L374.38 795.6 L374.84 794.69 L375.26 793.74 L375.67 792.81 L376.05 791.93 L376.43 791.02 L376.79 790.08 L377.14 789.12 L377.5 788.16 L377.81 787.27 L378.1 786.33 L378.39 785.23 L378.66 784.05 L378.93 782.86 L379.19 781.67 L379.46 780.48 L379.73 779.31 L380.01 778.16 L380.3 777.03 L380.64 775.81 L380.98 774.71 L381.33 774 L381.69 773.32 L382.05 772.66 L382.41 772.02 L382.77 771.4 L383.14 770.8 L383.5 770.22 L383.91 769.08 L384.32 767.79 L384.73 766.51 L385.15 765.27 L385.57 764.05 L385.98 762.88 L386.39 761.81 L386.8 761.01 L387.34 760.01 L387.87 759.08 L388.41 758.22 L388.94 757.43 L389.47 756.84 L390 756.35 L391.06 755.52 L392.13 754.76 L393.2 754.24 L394.02 754.38 L394.86 754.81 L395.69 755.42 L396.5 756.19 L396.94 756.66 L397.36 757.33 L397.77 758.15 L398.19 759.06 L398.63 760.09 L399.09 761.29 L399.6 762.69 L399.87 763.46 L400.16 764.24 L400.46 765.07 L400.77 765.95 L401.08 766.88 L401.41 767.83 L401.73 768.81 L402.06 769.82 L402.39 770.83 L402.72 771.89 L403.05 772.98 L403.37 774.05 L403.69 775.1 L404 776.14 L404.31 777.18 L404.61 778.25 L404.91 779.35 L405.21 780.47 L405.51 781.65 L405.81 782.82 L406.11 783.99 L406.4 785.14 L406.7 786.27 L407 787.36 L407.3 788.41 L407.6 789.42 L407.9 790.36 L408.2 790.87 L408.73 791.59 L409.27 792.15 L409.81 792.58 L410.34 792.9 L410.88 793.46 L411.42 794.27 L411.96 795.07 L412.5 795.9 L413.11 796.86 L413.7 797.92 L414.3 799 L414.89 800.07 L415.51 801.12 L416.14 802.15 L416.8 803.1 L417.49 804.07 L418.21 805.04 L418.94 805.86 L419.7 806.39 L420.46 806.9 L421.23 807.39 L422 808.11 L422.76 808.87 L423.52 809.63 L424.28 810.43 L425.05 811.41 L425.86 812.37 L426.7 813.31 L427.6 813.77 L428.56 814.09 L429.58 814.34 L430.63 814.43 L431.72 814.49 L432.82 814.65 L433.92 814.9 L435 815.15 L435.89 815.15 L436.7 815.18 L437.49 815.22 L438.3 815.99 L439.17 816.9 L440.15 817.87 L441.28 818.18 L442.6 818.33 L443.4 818.3 L444.25 818.16 L445.16 818 L446.12 818.17 L447.11 818.81 L448.15 819.46 L449.21 819.5 L450.29 819.35 L451.39 819.27 L452.5 819.43 L453.61 819.58 L454.72 819.33 L455.83 818.99 L456.93 819.2 L458 820.25 L459.03 821.26 L460.12 821.04 L461.26 820.56 L462.43 820.54 L463.63 821.1 L464.83 821.58 L466.03 821.7 L467.21 821.81 L468.36 821.66 L469.47 821.5 L470.53 821.57 L471.51 821.85 L472.41 822.11 L473.22 822.22 L473.92 822.26 L474.5 822.5" fill="none" stroke="#0000ff" stroke-width="2.75" stroke-linejoin="round" stroke-linecap="round"/>
<path d="M65 796.1 L65.62 795.62 L66.45 795.48 L67.43 795.31 L68.53 795.05 L69.69 794.76 L70.86 794.51 L72 794.33 L73.01 794.19 L74.09 794.17 L75.21 794.17 L76.34 793.89 L77.47 793.32 L78.55 792.78 L79.57 792.82 L80.5 792.82 L81.8 792.64 L82.95 792.3 L83.99 791.94 L84.99 791.56 L86 791.18 L86.98 790.93 L87.9 790.83 L88.81 790.71 L89.76 790.45 L90.8 789.98 L91.61 789.51 L92.47 789.11 L93.36 788.8 L94.28 788.44 L95.2 787.72 L96.11 786.72 L97 785.75 L97.9 784.98 L98.84 784.38 L99.79 783.79 L100.71 783.26 L101.59 782.7 L102.4 781.99 L103.1 780.96 L103.48 780.11 L103.82 779.19 L104.11 778.21 L104.38 777.19 L104.62 776.13 L104.84 775.04 L105.06 773.93 L105.27 772.8 L105.5 771.67 L105.74 770.63 L106 769.61 L106.26 768.67 L106.53 767.69 L106.8 766.69 L107.08 765.66 L107.36 764.63 L107.64 763.6 L107.92 762.59 L108.19 761.59 L108.46 760.66 L108.72 759.76 L108.96 758.92 L109.2 758.13 L109.58 756.89 L109.94 755.76 L110.27 754.71 L110.6 753.75 L110.91 752.87 L111.21 751.97 L111.5 751.13 L112.05 749.49 L112.55 748.28 L113.3 747.35 L114.21 746.85 L115.33 746.56 L116.46 746.44 L117.4 746.57 L118.58 747.25 L119.5 748.21 L120.08 748.87 L120.65 749.64 L121.5 750.48 L122.22 751.28 L123.06 752.28 L123.99 753.34 L124.98 754.24 L126 754.99 L126.89 755.61 L127.82 756.39 L128.79 757.21 L129.79 758.04 L130.8 758.22 L131.8 758.39 L132.65 758.58 L133.49 759.06 L134.33 759.54 L135.19 760.02 L136.08 760.48 L137.01 760.95 L138 761.43 L138.92 761.96 L139.9 762.53 L140.91 763.05 L141.94 763.44 L142.99 763.8 L144.04 764.26 L145.08 764.73 L146.1 765.1 L147.23 765.14 L148.35 765.09 L149.47 764.98 L150.58 764.83 L151.7 764.83 L152.84 765.35 L154 765.89 L155.04 765.68 L156.11 765.38 L157.19 765.29 L158.28 765.57 L159.36 765.85 L160.43 765.68 L161.48 765.44 L162.5 765.29 L163.63 765.34 L164.73 765.38 L165.82 765.09 L166.88 764.75 L167.93 764.52 L168.97 764.55 L170 764.58 L171.18 764.65 L172.34 764.69 L173.48 764.63 L174.61 764.5 L175.75 764.46 L176.9 764.39 L177.9 764.48 L178.91 764.76 L179.92 765.22 L180.93 765.73 L181.95 765.95 L182.97 766.1 L184 766.32 L185.05 767.02 L186.12 767.77 L187.2 768.26 L188.27 768.58 L189.33 768.84 L190.34 769.05 L191.3 769.12 L192.33 769.12 L193.29 769.08 L194.19 768.91 L195.09 768.5 L196.02 767.93 L197 767.36 L197.88 766.88 L198.77 766.36 L199.67 765.81 L200.6 765.33 L201.56 764.91 L202.55 764.52 L203.6 764.14 L204.57 763.85 L205.58 763.58 L206.64 763.36 L207.71 763.15 L208.8 762.99 L209.89 762.85 L210.96 762.7 L212 762.44 L213.03 762.19 L214.05 762.13 L215.07 762.21 L216.09 762.3 L217.09 762.29 L218.08 762.25 L219.05 762.14 L220 761.84 L221.05 761.45 L222.06 760.97 L223.05 760.41 L224.03 759.81 L225.01 759.29 L225.99 758.79 L227 758.24 L227.9 757.92 L228.79 757.59 L229.7 757.24 L230.61 756.64 L231.52 756.01 L232.44 755.35 L233.37 754.93 L234.3 754.46 L235.06 754.05 L235.83 753.31 L236.61 752.53 L237.4 751.72 L238.19 750.96 L238.97 750.26 L239.75 749.53 L240.52 748.78 L241.27 747.88 L242 746.95 L242.65 746.09 L243.3 745.23 L243.94 744.48 L244.57 743.72 L245.19 742.93 L245.81 742.13 L246.41 741.17 L247 740.18 L247.58 739.2 L248.15 738.21 L248.7 737.25 L249.24 736.36 L249.75 735.47 L250.26 734.58 L250.75 733.68 L251.23 732.79 L251.7 732.01 L252.16 731.24 L252.62 730.47 L253.08 729.68 L253.54 728.89 L254 728.08 L254.47 727.05 L254.93 726 L255.4 724.95 L255.87 723.88 L256.33 722.81 L256.78 721.75 L257.23 720.79 L257.67 719.83 L258.09 718.86 L258.5 717.89 L258.9 716.92 L259.27 715.96 L259.63 715.06 L259.97 714.18 L260.29 713.31 L260.61 712.43 L260.92 711.53 L261.22 710.6 L261.53 709.64 L261.84 708.63 L262.17 707.56 L262.5 706.39 L262.74 705.54 L262.97 704.64 L263.21 703.71 L263.46 702.73 L263.7 701.74 L263.94 700.72 L264.19 699.68 L264.44 698.64 L264.68 697.6 L264.93 696.52 L265.18 695.41 L265.42 694.32 L265.67 693.26 L265.92 692.22 L266.16 691.22 L266.4 690.27 L266.72 689.04 L267.05 687.82 L267.38 686.63 L267.71 685.49 L268.04 684.39 L268.37 683.33 L268.69 682.31 L269.01 681.32 L269.32 680.37 L269.63 679.48 L269.92 678.62 L270.2 677.83 L270.73 676.55 L271.22 675.48 L271.68 674.57 L272.13 673.78 L272.56 673.04 L273 672.31 L273.64 671.19 L274.25 670.21 L274.86 669.38 L275.5 668.68 L276.41 667.83 L277.36 667.21 L278.3 667.01 L279.13 667.02 L279.95 667.45 L281 668.65 L281.4 669.34 L281.85 670.15 L282.34 671.07 L282.85 672.07 L283.37 673.13 L283.89 674.26 L284.41 675.46 L284.91 676.65 L285.38 677.79 L285.8 678.87 L286.23 680.02 L286.62 681.03 L286.99 681.95 L287.33 682.88 L287.67 683.81 L287.99 684.75 L288.32 685.69 L288.65 686.64 L289 687.59 L289.32 688.56 L289.64 689.58 L289.96 690.61 L290.28 691.63 L290.59 692.66 L290.91 693.7 L291.23 694.75 L291.55 695.82 L291.88 696.9 L292.2 697.99 L292.5 699.01 L292.8 700.05 L293.1 701.11 L293.4 702.18 L293.7 703.25 L294 704.34 L294.3 705.42 L294.6 706.48 L294.9 707.48 L295.2 708.48 L295.5 709.46 L295.82 710.52 L296.13 711.57 L296.43 712.61 L296.73 713.65 L297.04 714.68 L297.35 715.67 L297.66 716.62 L297.99 717.56 L298.34 718.5 L298.7 719.44 L299.09 720.37 L299.49 721.3 L299.91 722.22 L300.34 723.26 L300.78 724.31 L301.23 725.34 L301.68 726.37 L302.12 727.4 L302.57 728.41 L303 729.39 L303.42 730.36 L303.84 731.32 L304.25 732.27 L304.65 733.21 L305.06 734.15 L305.48 735.05 L305.91 735.91 L306.35 736.77 L306.81 737.61 L307.3 738.45 L307.81 739.28 L308.33 740.21 L308.86 741.2 L309.41 742.19 L309.97 743.17 L310.54 744.14 L311.14 744.97 L311.74 745.74 L312.36 746.49 L313 747.21 L313.66 748.02 L314.35 748.97 L315.06 749.92 L315.79 750.86 L316.53 751.59 L317.28 752.15 L318.02 752.69 L318.76 753.2 L319.49 753.9 L320.2 754.56 L321.06 755.34 L321.9 756.04 L322.72 756.66 L323.54 757.24 L324.37 757.8 L325.21 758.39 L326.09 758.96 L327 759.48 L327.98 759.59 L329.03 759.67 L330.12 760.18 L331.23 761.16 L332.31 762.08 L333.36 762.21 L334.33 762.28 L335.2 762.32 L336.36 762.4 L337.31 762.25 L338.16 762 L339.02 761.71 L340 761.43 L340.92 761 L341.87 760.36 L342.86 759.68 L343.88 759.15 L344.93 758.7 L346 758.26 L346.94 757.83 L347.9 757.42 L348.88 757.07 L349.88 756.81 L350.9 756.56 L351.94 756.2 L353 755.8 L353.98 755.47 L355.02 755.28 L356.09 755.1 L357.17 754.77 L358.23 754.27 L359.24 753.73 L360.17 753.13 L361 752.43 L361.72 751.6 L362.36 750.76 L362.93 749.9 L363.45 748.97 L363.93 748.01 L364.39 747.07 L364.84 746.14 L365.3 745.19 L365.9 744.07 L366.45 743.06 L366.97 742.13 L367.47 741.25 L367.98 740.51 L368.5 739.74 L369.02 739.01 L369.53 738.35 L370.03 737.69 L370.55 736.84 L371.1 735.78 L371.7 734.42 L371.99 733.68 L372.3 732.87 L372.62 731.99 L372.94 731.03 L373.27 729.99 L373.61 728.9 L373.95 727.79 L374.3 726.66 L374.64 725.52 L374.99 724.37 L375.33 723.24 L375.67 722.21 L376 721.29 L376.33 720.36 L376.66 719.4 L376.98 718.42 L377.31 717.41 L377.64 716.4 L377.96 715.4 L378.29 714.37 L378.62 713.27 L378.95 712.2 L379.28 711.16 L379.62 710.17 L379.96 709.24 L380.3 708.36 L380.81 707.18 L381.34 706.11 L381.88 705.1 L382.43 704.17 L382.97 703.3 L383.51 702.5 L384.03 701.74 L384.53 701.04 L385 700.38 L385.98 699.19 L386.88 698.57 L387.72 698.26 L388.5 698.01 L389.81 697.35 L391.1 697.13 L392.19 697.27 L393.37 697.53 L394.5 698.05 L395.24 698.73 L395.93 699.5 L396.65 700.48 L397.5 701.8 L397.94 702.53 L398.41 703.35 L398.9 704.24 L399.42 705.2 L399.95 706.18 L400.47 707.16 L401 708.16 L401.51 709.14 L402 710.1 L402.47 711.03 L402.93 712.07 L403.39 713.11 L403.83 714.16 L404.28 715.23 L404.73 716.32 L405.18 717.44 L405.63 718.41 L406.1 719.41 L406.46 720.2 L406.82 721.02 L407.18 721.86 L407.55 722.73 L407.92 723.63 L408.29 724.72 L408.67 725.82 L409.04 726.92 L409.41 728.03 L409.77 729.14 L410.14 730.24 L410.5 731.33 L410.86 732.24 L411.21 733.09 L411.56 733.97 L411.91 734.86 L412.26 735.75 L412.61 736.64 L412.95 737.51 L413.3 738.36 L413.65 739.38 L414 740.36 L414.35 741.29 L414.7 742.16 L415.23 743.37 L415.77 744.49 L416.31 745.62 L416.84 746.75 L417.38 747.84 L417.92 748.88 L418.46 749.91 L419 750.76 L419.71 751.66 L420.4 752.46 L421.09 753.2 L421.8 753.9 L422.53 754.61 L423.3 755.37 L423.9 755.99 L424.53 757 L425.17 758.21 L425.82 759.44 L426.49 760.69 L427.16 761.63 L427.83 762.31 L428.5 762.97 L429.16 763.64 L429.82 764.39 L430.47 765.19 L431.14 765.99 L431.81 766.77 L432.51 767.39 L433.24 767.81 L434 768.16 L434.91 768.46 L435.86 769.53 L436.84 770.56 L437.84 771.41 L438.88 771.74 L439.93 772.05 L441 772.44 L441.94 772.82 L442.88 773.17 L443.83 773.51 L444.81 773.83 L445.81 774.12 L446.85 774.24 L447.95 774.33 L449.1 774.62 L449.97 774.92 L450.86 775.21 L451.77 775.6 L452.71 776.02 L453.66 776.45 L454.64 776.74 L455.65 777.01 L456.69 777.26 L457.76 777.41 L458.86 777.55 L460 777.7 L460.96 777.82 L462.01 777.95 L463.13 778.08 L464.3 778.22 L465.51 778.43 L466.72 778.66 L467.93 779.02 L469.11 779.47 L470.24 779.77 L471.31 779.59 L472.29 779.42 L473.16 779.3 L473.9 779.23 L474.5 779.6" fill="none" stroke="#00ff00" stroke-width="2.75" stroke-linejoin="round" stroke-linecap="round"/>
<path d="M65 729.5 L65.62 728.64 L66.45 729.12 L67.43 729.7 L68.53 730.04 L69.69 730.3 L70.86 730.22 L72 729.6 L73.01 729.08 L74.09 728.81 L75.21 728.57 L76.34 728.74 L77.47 729.35 L78.55 729.9 L79.57 730.11 L80.5 730.24 L81.8 730.29 L82.95 730.22 L83.99 729.94 L84.99 728.62 L86 727.3 L87 726.3 L87.95 725.77 L88.88 725.21 L89.83 725.05 L90.8 725.22 L91.82 725.42 L92.86 724.91 L93.92 724.24 L94.97 723.69 L96 723.48 L97.06 723.33 L98.16 722.77 L99.23 721.98 L100.2 721.06 L101 719.82 L101.44 718.85 L101.79 717.85 L102.06 716.79 L102.29 715.67 L102.51 714.48 L102.74 713.2 L103 711.89 L103.19 711 L103.38 710.06 L103.57 709.07 L103.76 708.04 L103.95 706.98 L104.14 705.9 L104.33 704.81 L104.52 703.72 L104.72 702.64 L104.91 701.58 L105.1 700.55 L105.29 699.54 L105.48 698.52 L105.68 697.71 L105.87 696.91 L106.06 696.12 L106.25 695.33 L106.44 694.55 L106.63 693.78 L106.82 693.01 L107.01 692.26 L107.2 691.52 L107.43 690.63 L107.65 689.77 L107.87 688.93 L108.09 688.1 L108.31 687.05 L108.53 685.76 L108.75 684.46 L108.97 683.15 L109.2 681.81 L109.41 680.65 L109.61 679.59 L109.82 678.57 L110.03 677.56 L110.24 676.52 L110.45 675.4 L110.66 674.16 L110.87 672.75 L111.09 671.31 L111.3 669.64 L111.39 668.89 L111.47 668.11 L111.56 667.29 L111.64 666.43 L111.73 665.53 L111.81 664.61 L111.9 663.65 L111.99 662.67 L112.07 661.66 L112.16 660.63 L112.24 659.59 L112.33 658.52 L112.42 657.44 L112.51 656.35 L112.59 655.25 L112.68 654.14 L112.77 653.03 L112.86 651.91 L112.95 650.8 L113.04 649.68 L113.13 648.57 L113.22 647.47 L113.31 646.38 L113.41 645.3 L113.5 644.23 L113.59 643.25 L113.68 642.24 L113.76 641.23 L113.85 640.2 L113.94 639.16 L114.04 638.11 L114.13 637.05 L114.22 635.99 L114.31 634.92 L114.4 633.85 L114.5 632.77 L114.59 631.7 L114.68 630.63 L114.78 629.57 L114.87 628.51 L114.97 627.45 L115.06 626.41 L115.16 625.38 L115.25 624.36 L115.34 623.36 L115.44 622.37 L115.53 621.41 L115.63 620.46 L115.72 619.53 L115.81 618.63 L115.91 617.75 L116 616.9 L116.15 615.55 L116.32 614.17 L116.5 612.86 L116.68 611.54 L116.87 610.24 L117.06 608.95 L117.25 607.71 L117.43 606.52 L117.61 605.39 L117.78 604.34 L117.94 603.38 L118.08 602.53 L118.21 601.8 L118.32 601.21 L118.4 600.76 L118.47 600.48 L118.5 600.37 L118.56 600.51 L118.66 600.96 L118.81 601.69 L118.98 602.65 L119.18 603.73 L119.4 604.95 L119.63 606.29 L119.86 607.72 L120.09 609.18 L120.31 610.67 L120.5 612.12 L120.6 612.93 L120.7 613.78 L120.8 614.67 L120.91 615.59 L121.01 616.53 L121.12 617.51 L121.22 618.51 L121.32 619.53 L121.43 620.56 L121.53 621.61 L121.63 622.67 L121.74 623.73 L121.84 624.78 L121.94 625.83 L122.04 626.89 L122.13 627.93 L122.23 628.97 L122.32 629.99 L122.41 631.01 L122.5 632 L122.59 632.99 L122.67 633.98 L122.75 634.97 L122.83 635.97 L122.91 636.97 L122.98 637.98 L123.06 638.98 L123.13 639.98 L123.2 640.98 L123.28 641.98 L123.35 642.98 L123.42 643.98 L123.49 644.97 L123.56 645.95 L123.63 646.94 L123.7 647.91 L123.77 648.88 L123.85 649.84 L123.92 650.79 L124 651.73 L124.09 652.77 L124.17 653.83 L124.26 654.89 L124.35 655.95 L124.44 657.03 L124.53 658.11 L124.62 659.19 L124.72 660.26 L124.81 661.32 L124.9 662.37 L124.99 663.39 L125.08 664.39 L125.17 665.37 L125.26 666.32 L125.34 667.24 L125.43 668.13 L125.52 668.97 L125.6 669.78 L125.75 671.14 L125.89 672.38 L126.03 673.53 L126.16 674.59 L126.29 675.58 L126.43 676.51 L126.56 677.4 L126.7 678.25 L126.85 679.09 L127 679.93 L127.26 681.28 L127.52 682.53 L127.79 683.69 L128.08 684.74 L128.38 685.69 L128.7 686.54 L129.4 687.78 L130.17 688.61 L131 689.46 L131.84 690.36 L132.74 691.25 L133.8 692.39 L134.42 693.11 L135.1 693.92 L135.83 694.5 L136.56 695.05 L137.3 695.62 L138 696.14 L138.67 696.43 L139.31 696.76 L139.95 697.11 L140.6 697.44 L141.28 698.87 L142 700.3 L142.77 701.76 L143.58 702.77 L144.42 702.84 L145.27 702.87 L146.14 703.03 L147 704.04 L147.82 705.01 L148.58 705.94 L149.36 706.22 L150.2 706.3 L151.16 706.24 L152.3 706.92 L153.18 707.53 L154.14 708.11 L155.17 707.84 L156.25 707.53 L157.37 707.55 L158.52 707.94 L159.69 708.47 L160.85 709.77 L162 711.07 L163.04 710.25 L164.1 708.92 L165.18 707.99 L166.27 708.32 L167.37 708.65 L168.47 708.01 L169.57 707.11 L170.66 706.66 L171.74 707.09 L172.8 707.54 L173.84 707.97 L174.88 708.42 L175.9 708.75 L176.92 708.58 L177.93 708.42 L178.94 708.51 L179.95 708.81 L180.96 709.11 L181.98 709.17 L183 709.18 L184.03 709.12 L185.06 708.83 L186.1 708.54 L187.14 708.89 L188.18 709.63 L189.22 710.34 L190.25 709.92 L191.28 709.47 L192.29 709.58 L193.3 710.58 L194.4 711.61 L195.47 710.94 L196.54 709.86 L197.59 709.13 L198.65 709.4 L199.71 709.66 L200.78 709.38 L201.88 708.9 L203 708.61 L204.04 708.82 L205.1 709.03 L206.18 708.53 L207.27 707.73 L208.37 707.25 L209.47 707.74 L210.57 708.23 L211.66 707.85 L212.74 707.24 L213.8 706.93 L214.84 707.32 L215.88 707.71 L216.9 707.57 L217.92 707.2 L218.93 706.82 L219.94 706.51 L220.95 706.19 L221.96 705.81 L222.98 705.32 L224 704.82 L225.04 704.99 L226.1 705.46 L227.16 705.83 L228.24 705.57 L229.31 705.31 L230.36 705.4 L231.4 705.68 L232.4 705.92 L233.37 704.97 L234.3 704.02 L235.39 703.16 L236.43 703.12 L237.42 703.02 L238.38 702.68 L239.3 702.16 L240.21 701.62 L241.1 701.02 L242 700.38 L242.9 699.7 L243.8 699 L244.69 698.28 L245.56 697.54 L246.41 696.8 L247.22 696.09 L247.98 695.41 L248.7 694.75 L249.72 693.56 L250.61 692.47 L251.42 691.46 L252.2 690.56 L253 689.64 L253.8 688.73 L254.58 688.09 L255.34 687.5 L256.11 686.84 L256.9 686.08 L257.48 685.48 L258.08 684.81 L258.69 684.07 L259.29 683.32 L259.88 682.55 L260.45 681.81 L261 681.14 L261.73 680.33 L262.43 679.44 L263.1 678.39 L263.72 677.3 L264.3 676.08 L264.67 675.13 L265.01 674.22 L265.33 673.29 L265.63 672.32 L265.92 671.29 L266.21 670.19 L266.5 669.03 L266.71 668.13 L266.91 667.15 L267.11 666.12 L267.3 665.04 L267.5 663.95 L267.7 662.85 L267.89 661.77 L268.09 660.75 L268.29 659.8 L268.5 658.95 L268.93 657.47 L269.36 656.19 L269.8 655.08 L270.25 654.14 L270.7 653.36 L271.86 652.23 L273 651.68 L273.96 651.31 L275 650.7 L275.69 649.92 L276.48 649.16 L277.27 648.36 L278 647.71 L278.87 647.1 L279.68 646.68 L280.4 646.55 L282 647 L282.75 647.26 L283.6 648.15 L283.9 648.77 L284.24 649.59 L284.59 650.5 L284.96 651.47 L285.32 652.47 L285.67 653.44 L286 654.36 L286.34 655.42 L286.66 656.82 L286.96 658.25 L287.27 659.64 L287.61 660.96 L288 662.18 L288.67 663.77 L289.41 664.65 L290.2 664.69 L291 664.75 L291.83 664.87 L292.69 665.68 L293.55 666.53 L294.4 667.44 L295.24 668.08 L296.08 668.65 L296.88 669.48 L297.6 670.58 L297.85 671.2 L298.06 672 L298.26 672.94 L298.44 673.97 L298.61 675.06 L298.79 676.15 L298.98 677.21 L299.19 678.18 L299.43 679.03 L299.7 679.71 L300.23 681.21 L300.84 683.01 L301.49 684.71 L302.17 686.37 L302.85 687.6 L303.5 688.21 L304.23 688.97 L304.93 689.68 L305.64 690.24 L306.42 690.64 L307.3 690.99 L308 691.23 L308.75 692.05 L309.53 692.89 L310.35 693.74 L311.21 694.36 L312.09 694.8 L313 695.22 L313.83 695.5 L314.7 695.72 L315.61 695.91 L316.53 696.37 L317.46 697.14 L318.39 697.89 L319.31 698.56 L320.2 699.14 L321.18 699.76 L322.13 700.39 L323.07 701.02 L324.01 701.62 L324.97 701.88 L325.96 702.04 L327 702.19 L327.96 702.24 L328.96 702.31 L329.99 702.65 L331.04 703.45 L332.09 704.21 L333.15 703.85 L334.18 703.15 L335.2 702.65 L336.2 703.14 L337.19 703.51 L338.18 703.57 L339.16 703.35 L340.14 703.1 L341.1 702.4 L342.06 701.55 L343 700.76 L344.08 699.85 L345.17 698.92 L346.25 698.4 L347.31 698.44 L348.34 698.49 L349.3 698.64 L350.2 698.81 L351.54 699.02 L352.68 698.99 L353.77 699.03 L355 699.44 L355.95 699.92 L356.99 700.05 L358.05 699.33 L359.1 698.53 L360.1 698.63 L361 698.63 L361.59 698.33 L362.13 697.81 L362.62 697.07 L363.09 696.23 L363.54 695.33 L364 694.41 L364.48 693.52 L365 692.56 L365.55 691.5 L366.11 690.39 L366.69 689.28 L367.27 688.16 L367.86 686.83 L368.45 685.49 L369.03 684.21 L369.6 683.04 L370.51 682.17 L371.44 682.47 L372.34 682.88 L373.21 683.07 L374 682.98 L375.13 683.17 L376.11 682.84 L377.1 681.24 L377.42 680.46 L377.73 679.6 L378.05 678.64 L378.37 677.57 L378.69 676.39 L379.02 675.14 L379.34 673.82 L379.66 672.44 L379.98 671 L380.3 669.51 L380.5 668.54 L380.7 667.53 L380.9 666.48 L381.1 665.57 L381.3 664.64 L381.5 663.68 L381.69 662.69 L381.89 661.69 L382.09 660.68 L382.29 659.66 L382.49 658.63 L382.69 657.6 L382.89 656.58 L383.1 655.56 L383.3 654.56 L383.5 653.57 L383.7 652.59 L383.9 651.6 L384.11 650.6 L384.31 649.59 L384.51 648.58 L384.71 647.57 L384.92 646.55 L385.12 645.54 L385.32 644.53 L385.53 643.53 L385.74 642.54 L385.94 641.56 L386.16 640.6 L386.37 639.7 L386.58 638.91 L386.8 638.14 L387.07 637.22 L387.35 636.3 L387.62 635.4 L387.91 634.51 L388.19 633.65 L388.48 632.8 L388.76 631.98 L389.05 631.11 L389.34 629.9 L389.63 628.73 L389.92 627.59 L390.21 626.5 L390.5 625.45 L391.02 623.72 L391.6 621.94 L392.21 620.44 L392.81 619.09 L393.36 617.93 L393.82 617 L394.14 616.38 L394.3 616.13 L394.55 616.5 L395.03 617.63 L395.64 619.17 L396.27 620.85 L396.8 622.4 L397.15 623.51 L397.48 624.34 L397.79 625.22 L398.1 626.14 L398.43 627.08 L398.8 628.03 L399.1 628.73 L399.42 629.42 L399.75 630.11 L400.09 631.21 L400.43 632.41 L400.79 633.66 L401.14 634.97 L401.5 636.34 L401.76 637.39 L402.02 638.47 L402.28 639.58 L402.55 640.64 L402.82 641.36 L403.09 642.1 L403.36 642.86 L403.64 643.63 L403.92 644.41 L404.21 645.19 L404.5 645.98 L404.76 646.65 L405.03 647.35 L405.31 648.17 L405.61 649.2 L405.9 650.23 L406.2 651.27 L406.49 652.31 L406.78 653.34 L407.05 654.36 L407.32 655.35 L407.57 656.32 L407.79 657.25 L408 658.17 L408.26 659.47 L408.48 660.7 L408.66 661.86 L408.83 662.97 L408.97 664.04 L409.1 665.09 L409.23 666.13 L409.36 667.17 L409.5 668.23 L409.64 669.47 L409.74 670.73 L409.82 671.99 L409.9 673.24 L410 674.44 L410.14 675.57 L410.33 676.6 L410.6 677.52 L411.38 678.66 L412.38 679.26 L413.46 679.82 L414.5 680.48 L414.94 681.1 L415.38 681.87 L415.83 682.75 L416.28 683.76 L416.72 684.84 L417.16 685.92 L417.59 686.97 L418 687.96 L418.4 688.84 L418.88 689.73 L419.33 690.39 L419.76 691 L420.19 691.57 L420.61 692.11 L421.04 692.62 L421.5 693.22 L422.01 694.4 L422.48 695.53 L422.96 696.63 L423.5 697.72 L424.16 698.8 L425 699.62 L425.8 700.21 L426.74 700.77 L427.79 701.31 L428.89 701.82 L429.99 702.51 L431.04 703.4 L431.99 704.25 L432.8 704.58 L434 705.04 L434.88 705.56 L435.64 706.67 L436.5 707.83 L437.29 708.83 L438.1 709.51 L438.92 709.97 L439.75 710.38 L440.6 710.74 L441.67 711.13 L442.76 711.42 L443.87 711.92 L445 712.5 L446.19 713.13 L447.42 713.75 L448.62 714.25 L449.7 714.54 L450.91 714.32 L451.96 713.14 L453 711.92 L454 710.87 L454.99 710.36 L456.2 710.44 L456.97 710.68 L457.84 711 L458.77 711.45 L459.71 712.68 L460.6 714.36 L461.4 715.65 L462.7 716.2 L463.81 715.63 L465 714.71 L465.98 713.61 L466.99 712.37 L468.06 711.5 L469.2 710.91 L470.27 710.51 L471.5 710.02 L472.71 709.59 L473.76 710.07 L474.5 710.7" fill="none" stroke="#ff0000" stroke-width="2.75" stroke-linejoin="round" stroke-linecap="round"/>
<path d="M65 616.9 L65.12 616.21 L65.29 617.26 L65.49 618.5 L65.71 619.82 L65.95 621.12 L66.2 622.3 L66.51 623.56 L66.85 624.77 L67.22 625.96 L67.6 627.17 L68 628.18 L68.42 629.16 L68.86 630.19 L69.33 631.21 L69.81 632.17 L70.3 633.04 L70.93 634.05 L71.58 634.96 L72.27 635.78 L73 636.53 L73.8 637.68 L74.64 638.89 L75.52 639.97 L76.4 640.27 L77.53 639.76 L78.69 638.89 L80 638.38 L80.9 638.3 L81.86 638.93 L82.88 639.89 L83.93 640.79 L85 639.87 L85.94 638.89 L86.93 637.91 L87.95 637.25 L88.96 636.61 L89.92 636.22 L90.8 636.08 L91.97 636.2 L93.01 636.95 L94 637.79 L95 638.61 L96.04 639.52 L97.08 640.49 L98.08 641.08 L99 641.27 L100.11 640.99 L101.1 640.34 L102 639.55 L102.76 638.84 L103.41 638.09 L104.1 636.88 L104.42 636.17 L104.76 635.36 L105.09 634.47 L105.43 633.49 L105.78 632.35 L106.14 631.11 L106.5 629.8 L106.74 628.94 L106.98 628.04 L107.23 627.11 L107.48 626.15 L107.74 625.16 L108 624.14 L108.25 623.08 L108.5 621.91 L108.74 620.71 L108.98 619.49 L109.2 618.23 L109.36 617.29 L109.51 616.31 L109.66 615.3 L109.81 614.27 L109.95 613.21 L110.09 612.15 L110.23 611.07 L110.36 609.98 L110.5 608.89 L110.63 607.8 L110.76 606.71 L110.9 605.64 L111.03 604.66 L111.16 603.7 L111.3 602.77 L111.46 601.71 L111.62 600.65 L111.77 599.6 L111.93 598.55 L112.09 597.51 L112.25 596.48 L112.4 595.45 L112.56 594.43 L112.71 593.42 L112.86 592.42 L113.01 591.43 L113.16 590.45 L113.3 589.48 L113.45 588.44 L113.6 587.39 L113.75 586.27 L113.9 585.16 L114.04 584.05 L114.19 582.97 L114.33 581.9 L114.47 580.86 L114.6 579.85 L114.74 578.87 L114.87 577.92 L115 577.01 L115.19 575.74 L115.37 574.56 L115.54 573.45 L115.71 572.4 L115.87 571.39 L116.04 570.39 L116.22 569.39 L116.4 568.34 L116.62 567.07 L116.86 565.74 L117.1 564.42 L117.34 563.13 L117.57 561.92 L117.8 560.84 L118 559.92 L118.7 557.65 L119.1 556.92 L119.36 557.55 L119.89 559.09 L120.5 561.25 L120.73 562.2 L120.99 563.28 L121.27 564.46 L121.55 565.72 L121.83 566.93 L122.11 568.05 L122.37 569.18 L122.6 570.32 L122.77 571.22 L122.92 572.15 L123.07 573.09 L123.2 574.05 L123.33 575.03 L123.46 576.03 L123.59 577.05 L123.72 578.09 L123.86 579.14 L124 580.22 L124.13 581.14 L124.25 582.09 L124.38 583.06 L124.51 584.07 L124.64 585.1 L124.77 586.13 L124.9 587.17 L125.04 588.21 L125.17 589.25 L125.31 590.28 L125.46 591.29 L125.6 592.29 L125.76 593.36 L125.92 594.43 L126.09 595.5 L126.26 596.56 L126.43 597.61 L126.6 598.66 L126.77 599.71 L126.95 600.74 L127.13 601.8 L127.31 602.99 L127.5 604.17 L127.69 605.34 L127.87 606.51 L128.06 607.68 L128.25 608.85 L128.45 610.01 L128.64 611.16 L128.84 612.3 L129.05 613.44 L129.26 614.56 L129.48 615.68 L129.7 616.78 L129.98 617.88 L130.27 618.83 L130.57 619.77 L130.87 620.67 L131.18 621.56 L131.5 622.42 L131.83 623.25 L132.16 624.05 L132.5 624.83 L132.9 625.65 L133.33 626.44 L133.77 627.18 L134.21 627.89 L134.66 628.58 L135.09 629.25 L135.51 630.09 L135.9 630.97 L136.37 632.09 L136.79 633.13 L137.19 634.13 L137.6 635.1 L138.02 636.17 L138.5 637.52 L139.01 638.92 L139.54 640.35 L140.1 641.79 L140.69 643.08 L141.32 643.36 L142 643.56 L142.74 643.66 L143.54 644 L144.39 645.07 L145.26 646.12 L146.13 647.1 L147 647.75 L147.87 648.4 L148.77 649.02 L149.67 649.63 L150.57 650.21 L151.45 650.75 L152.3 651.3 L153.27 651.88 L154.18 652.36 L155.09 652.44 L156.02 652.48 L157 652.57 L157.98 652.98 L158.95 653.37 L159.97 653.79 L161.13 654.26 L162.5 654.67 L163.37 654.77 L164.31 654.85 L165.31 655.13 L166.37 655.72 L167.46 656.33 L168.57 656.79 L169.71 657.22 L170.86 656.99 L172 656.07 L172.95 655.3 L173.92 655.84 L174.92 656.46 L175.93 656.84 L176.95 656.34 L177.98 655.83 L179.01 655.74 L180.03 655.92 L181.04 656.11 L182.03 656.34 L183 656.58 L184.04 656.82 L185.05 657.02 L186.05 657.22 L187.04 657.23 L188.03 657.08 L189 656.94 L189.99 656.31 L190.98 655.56 L191.98 654.98 L193 656.56 L194.04 658.17 L195.08 658.77 L196.14 658.18 L197.21 657.58 L198.27 657.44 L199.35 657.34 L200.42 657.5 L201.48 658.05 L202.55 658.58 L203.6 658.21 L204.65 657.67 L205.7 657.16 L206.74 656.76 L207.79 656.35 L208.83 656.68 L209.87 657.32 L210.91 657.88 L211.94 657.74 L212.97 657.6 L214 657.25 L215.03 656.67 L216.07 656.08 L217.12 656.5 L218.17 657.06 L219.21 657.36 L220.23 657.08 L221.24 656.79 L222.23 656.25 L223.18 655.58 L224.1 654.92 L225.19 655.57 L226.22 656.47 L227.2 656.98 L228.15 656.21 L229.09 655.44 L230.03 654.67 L231 653.9 L232 653.12 L233.05 653.03 L234.13 653.42 L235.23 653.72 L236.34 653.32 L237.43 652.91 L238.5 652.81 L239.53 652.84 L240.5 652.84 L241.54 651.57 L242.52 650.34 L243.46 649.6 L244.37 650.01 L245.25 650.39 L246.13 650.54 L247 650.07 L248.03 649.51 L249.04 648.92 L250.04 648.29 L251.01 647.63 L251.93 646.98 L252.8 646.31 L253.59 645.6 L254.33 644.95 L255.01 644.38 L255.67 643.77 L256.33 643.13 L257 642.32 L257.69 641.29 L258.37 640.21 L259.06 639.11 L259.73 638 L260.38 636.9 L261 635.83 L261.6 634.78 L262.17 633.73 L262.73 632.62 L263.27 631.52 L263.79 630.45 L264.3 629.39 L264.9 628.19 L265.48 627.5 L266.03 626.83 L266.54 626.25 L267 625.82 L267.84 625.45 L268.6 624.63 L268.99 623.78 L269.4 622.72 L269.83 621.52 L270.27 620.25 L270.7 618.92 L271.06 617.83 L271.41 616.71 L271.77 615.57 L272.13 614.41 L272.51 613.24 L272.9 612.06 L273.26 611.07 L273.63 610.02 L274.02 608.96 L274.41 607.91 L274.79 606.91 L275.16 606 L275.5 605.21 L276.22 603.98 L276.87 603.17 L277.5 602.62 L279.3 600.97 L280.09 600.27 L280.99 599.7 L282 601.57 L282.7 602.99 L283.47 604.63 L284.27 605.19 L285.06 605.33 L285.8 605.55 L286.37 605.8 L286.91 607.16 L287.44 608.61 L287.96 610.08 L288.47 611.61 L289 613.19 L289.46 614.36 L289.91 615.5 L290.37 616.67 L290.82 617.88 L291.28 619.1 L291.74 620.33 L292.2 621.55 L292.61 622.62 L293.02 623.71 L293.43 624.81 L293.85 625.91 L294.27 627.02 L294.68 627.9 L295.09 628.5 L295.5 629.08 L295.9 629.67 L296.29 630.26 L296.68 630.85 L297.07 631.43 L297.46 632.32 L297.86 633.38 L298.27 634.43 L298.7 635.48 L299.14 636.53 L299.58 637.58 L300.04 638.56 L300.5 639.36 L300.98 640.16 L301.47 640.95 L301.97 641.73 L302.5 642.5 L303.05 643 L303.61 643.43 L304.19 643.86 L304.78 644.26 L305.39 644.81 L306.01 646.34 L306.65 647.85 L307.3 649.31 L308.05 650.86 L308.82 651.38 L309.6 651.84 L310.4 652.27 L311.24 652.83 L312.1 653.47 L313 654.11 L313.83 654.5 L314.7 654.72 L315.61 654.92 L316.53 655.41 L317.46 656.23 L318.39 657.01 L319.31 657.58 L320.2 657.97 L321.34 658.38 L322.44 659.06 L323.54 659.72 L324.64 659.97 L325.79 659.65 L327 659.47 L327.96 660.71 L328.96 661.99 L329.99 662.25 L331.04 660.78 L332.09 659.28 L333.15 659.05 L334.18 659.13 L335.2 659.2 L336.34 659.28 L337.48 659.34 L338.6 659.06 L339.72 658.68 L340.83 658.79 L341.92 659.65 L343 660.49 L344.06 660.17 L345.11 659.73 L346.15 659.15 L347.17 658.28 L348.19 657.38 L349.2 657.3 L350.2 657.54 L351.2 657.7 L352.19 657.66 L353.18 657.57 L354.16 657.09 L355.12 655.63 L356.07 654.16 L357 653.35 L357.92 653.34 L358.83 653.32 L359.73 652.97 L360.61 652.26 L361.47 651.54 L362.3 651.13 L363.1 651.27 L363.97 651.35 L364.79 651.22 L365.56 649.85 L366.34 648.47 L367.14 647.04 L368 645.78 L368.7 644.89 L369.45 643.97 L370.22 643.06 L371 642.3 L371.78 641.52 L372.53 640.71 L373.24 640.31 L373.9 640.09 L374.5 639.78 L375.04 639.41 L375.55 638.88 L376.04 637.51 L376.51 636.13 L376.99 634.72 L377.48 633.26 L378 631.75 L378.44 630.93 L378.9 630.46 L379.37 629.96 L379.84 629.44 L380.32 628.91 L380.79 628.39 L381.25 627.01 L381.69 625.43 L382.11 623.93 L382.5 622.55 L383.08 620.5 L383.6 618.67 L384.07 617.91 L384.53 617.22 L384.99 616.57 L385.5 615.94 L386.15 615.22 L386.82 614.28 L387.51 613.31 L388.2 612.39 L388.9 611.51 L389.6 610.56 L390.31 609.62 L391.03 608.73 L391.76 607.94 L392.5 607.48 L393.48 607.02 L394.51 606.68 L395.51 606.65 L396.4 606.81 L397.36 607.16 L398.17 607.36 L399 607.78 L399.68 608.18 L400.36 608.84 L401.07 609.62 L401.8 610.5 L402.31 611.11 L402.84 612.21 L403.38 613.61 L403.92 615.08 L404.46 616.61 L405 618.2 L405.4 619.25 L405.8 620.16 L406.2 621.1 L406.59 622.08 L406.99 623.08 L407.39 624.1 L407.8 625.13 L408.2 625.89 L408.56 626.49 L408.93 627.11 L409.3 627.73 L409.67 628.36 L410.03 629 L410.4 629.65 L410.77 630.5 L411.14 631.59 L411.5 632.68 L411.85 633.79 L412.2 634.91 L412.53 636.05 L412.87 637.19 L413.21 638.33 L413.56 639.09 L413.92 639.67 L414.3 640.19 L414.7 640.64 L415.26 641.11 L415.85 641.49 L416.47 642.92 L417.1 644.7 L417.74 646.48 L418.38 648.25 L419 649.34 L419.6 649.71 L420.19 650.07 L420.77 650.42 L421.36 650.76 L421.97 651.76 L422.61 652.84 L423.3 653.95 L423.94 654.96 L424.59 656.34 L425.27 657.87 L425.97 659.43 L426.69 661.02 L427.44 661.18 L428.21 661.06 L429 660.91 L429.67 661.07 L430.37 662.18 L431.09 663.32 L431.84 664.48 L432.59 665.29 L433.35 665.75 L434.1 666.18 L434.83 666.56 L435.53 666.95 L436.2 667.28 L437.23 667.65 L438.19 668.16 L439.11 668.73 L440.02 669.23 L440.97 669.92 L442 670.78 L442.91 671.58 L443.82 671.43 L444.75 671.16 L445.72 670.89 L446.76 671.44 L447.87 672.02 L449.1 672.8 L449.93 673.39 L450.8 674 L451.7 674.12 L452.63 673.99 L453.59 673.85 L454.59 673.62 L455.61 673.35 L456.66 673.32 L457.75 674.65 L458.86 676.01 L460 676.15 L460.96 675.82 L462.01 675.55 L463.13 676.28 L464.3 677.03 L465.51 676.53 L466.72 675.6 L467.93 675.91 L469.11 677.3 L470.24 678.11 L471.31 677.07 L472.29 676.1 L473.16 675.7 L473.9 675.71 L474.5 677.3" fill="none" stroke="#800080" stroke-width="2.75" stroke-linejoin="round" stroke-linecap="round"/>
<path d="M592 837.1 L592.64 837.12 L593.5 837.21 L594.53 837.32 L595.67 836.74 L596.84 836.03 L598 835.5 L598.98 835.18 L599.98 834.85 L601 835.04 L602.07 835.32 L603.17 835.5 L604.31 835.46 L605.5 835.43 L606.46 835.31 L607.45 835.2 L608.46 835.11 L609.5 835.07 L610.57 835.04 L611.65 834.9 L612.75 834.71 L613.87 834.52 L615 834.35 L615.97 834.2 L616.99 834.09 L618.05 833.99 L619.14 833.91 L620.24 833.96 L621.32 834 L622.38 833.94 L623.39 833.83 L624.34 833.73 L625.22 833.84 L626 833.94 L627.38 833.99 L628.42 833.7 L629.27 833.41 L630.08 833.03 L631 832.44 L632.07 831.8 L633.2 831.64 L634.32 831.76 L635.37 831.75 L636.3 831.25 L637.25 830.6 L638.05 829.96 L638.77 829.45 L639.5 828.88 L640.24 828.2 L640.96 827.37 L641.67 826.45 L642.4 825.54 L643.15 824.62 L643.91 823.51 L644.69 822.41 L645.5 821.42 L646.35 820.37 L647.23 819.21 L648.12 818.26 L649 817.99 L649.86 818.76 L650.7 819.93 L651.57 821.2 L652.5 821.93 L653.18 822.51 L653.91 823.25 L654.67 824.62 L655.42 826.1 L656.14 827.39 L656.8 828.34 L657.96 828 L659 826.98 L660 826.27 L661.33 826.11 L662.9 826.12 L663.78 826.23 L664.78 826.34 L665.85 825.46 L666.94 824.42 L668 823.8 L669.04 823.79 L670.09 823.73 L671.14 823.22 L672.18 822.67 L673.2 822.33 L674.41 822.45 L675.59 822.74 L676.77 822.96 L678 823.17 L679.05 823.55 L680.16 824.1 L681.27 824.59 L682.36 824.67 L683.4 824.78 L684.58 825.2 L685.68 825.77 L686.79 826.33 L688 826.81 L688.98 827.19 L689.93 827.22 L690.96 827.09 L692.18 827.1 L693.7 828.14 L694.51 828.64 L695.39 828.46 L696.32 828.16 L697.31 827.82 L698.35 827.51 L699.41 827.17 L700.51 827.05 L701.62 827.19 L702.75 827.35 L703.88 827.61 L705 827.88 L705.95 827.97 L706.92 827.95 L707.9 827.93 L708.9 827.63 L709.91 827.27 L710.92 826.95 L711.95 827.05 L712.99 827.16 L714.04 827.2 L715.09 827.18 L716.16 827.16 L717.23 827.27 L718.3 827.39 L719.3 827.36 L720.31 827.1 L721.33 826.85 L722.36 826.92 L723.39 827.11 L724.43 827.23 L725.48 826.84 L726.53 826.45 L727.59 826.27 L728.66 826.28 L729.73 826.29 L730.81 826.55 L731.9 826.8 L733 826.9 L733.98 826.88 L734.98 826.86 L736.01 826.71 L737.05 826.53 L738.1 826.42 L739.16 826.53 L740.23 826.63 L741.29 826.57 L742.34 826.46 L743.38 826.37 L744.41 826.44 L745.41 826.51 L746.38 826.55 L747.33 826.57 L748.23 826.58 L749.1 826.49 L750.41 826.22 L751.63 826.02 L752.79 825.96 L753.9 825.88 L754.96 825.53 L755.98 825.14 L756.99 824.82 L757.99 824.63 L758.99 824.44 L760 824.07 L761.14 823.51 L762.28 823.11 L763.41 823.52 L764.53 823.92 L765.62 823.82 L766.69 823.55 L767.71 823.32 L768.68 823.2 L769.6 823.07 L770.86 822.49 L771.99 821.61 L773.03 820.86 L774.02 820.72 L775 820.57 L776 820.31 L777.03 819.86 L778.05 819.41 L779.06 818.78 L780.05 818.08 L781 817.36 L781.9 817.3 L782.92 817.15 L783.88 816.85 L784.79 816.17 L785.66 815.44 L786.5 814.63 L787.29 813.44 L788.02 812.26 L788.72 811.06 L789.4 810.04 L790.1 809.23 L790.61 808.63 L791.11 808.01 L791.61 807.35 L792.11 806.63 L792.61 805.82 L793.11 804.92 L793.6 803.92 L793.95 803.15 L794.29 802.32 L794.64 801.32 L794.99 800.12 L795.33 798.89 L795.67 797.63 L796.01 796.36 L796.35 795.09 L796.68 793.81 L797 792.55 L797.29 791.51 L797.57 790.67 L797.85 789.83 L798.12 788.98 L798.39 788.12 L798.66 787.24 L798.93 786.34 L799.19 785.4 L799.46 784.42 L799.73 783.39 L800 782.27 L800.2 781.37 L800.4 780.44 L800.61 779.46 L800.82 778.46 L801.02 777.43 L801.23 776.39 L801.43 775.33 L801.64 774.26 L801.84 773.18 L802.04 772.11 L802.24 771.04 L802.44 769.98 L802.63 768.93 L802.82 767.9 L803 766.89 L803.19 765.83 L803.37 764.79 L803.54 763.75 L803.71 762.72 L803.87 761.7 L804.03 760.69 L804.19 759.68 L804.35 758.68 L804.52 757.67 L804.68 756.67 L804.85 755.66 L805.03 754.65 L805.21 753.64 L805.4 752.55 L805.6 751.38 L805.8 750.19 L806.01 748.99 L806.23 747.77 L806.44 746.55 L806.66 745.33 L806.89 744.11 L807.11 742.9 L807.34 741.7 L807.57 740.52 L807.8 739.36 L808.04 738.25 L808.27 737.3 L808.5 736.39 L808.82 735.21 L809.18 733.97 L809.57 732.7 L809.96 731.43 L810.36 730.21 L810.74 729.08 L811.09 728.13 L811.39 727.32 L811.64 726.69 L811.81 726.27 L811.9 726.1 L812.14 726.36 L812.63 727.17 L813.25 728.38 L813.9 729.82 L814.5 731.37 L814.77 732.18 L815.03 733.05 L815.3 733.98 L815.57 734.96 L815.84 735.99 L816.11 737.06 L816.38 738 L816.65 738.98 L816.93 740.01 L817.2 741.06 L817.4 741.84 L817.6 742.65 L817.8 743.49 L818 744.36 L818.2 745.24 L818.4 746.15 L818.61 747.07 L818.81 748.02 L819.01 749.09 L819.21 750.17 L819.41 751.25 L819.61 752.34 L819.81 753.44 L820 754.53 L820.17 755.49 L820.33 756.46 L820.48 757.43 L820.63 758.41 L820.78 759.4 L820.93 760.39 L821.08 761.4 L821.23 762.41 L821.38 763.42 L821.54 764.44 L821.7 765.45 L821.86 766.46 L822.03 767.49 L822.21 768.52 L822.4 769.55 L822.6 770.6 L822.78 771.54 L822.98 772.51 L823.18 773.49 L823.39 774.48 L823.6 775.49 L823.81 776.51 L824.04 777.53 L824.26 778.59 L824.49 779.72 L824.72 780.86 L824.95 781.99 L825.17 783.11 L825.4 784.21 L825.63 785.31 L825.85 786.38 L826.07 787.43 L826.29 788.46 L826.5 789.46 L826.76 790.71 L827.02 791.86 L827.27 792.9 L827.51 793.92 L827.75 794.93 L828 795.91 L828.24 796.88 L828.48 797.82 L828.73 798.73 L828.99 799.61 L829.25 800.47 L829.52 801.29 L829.8 802.18 L830.1 803.08 L830.53 804.28 L830.98 805.42 L831.44 806.49 L831.92 807.5 L832.41 808.45 L832.91 809.29 L833.42 810.09 L833.94 810.87 L834.46 811.63 L835 812.39 L835.69 813.38 L836.4 814.34 L837.13 815.27 L837.88 816.11 L838.63 816.77 L839.39 817.38 L840.15 817.92 L840.9 818.46 L841.9 819.1 L842.89 819.6 L843.89 820.14 L844.91 820.65 L845.94 821.09 L847 821.3 L847.93 821.47 L848.88 821.55 L849.84 821.49 L850.82 821.41 L851.81 821.59 L852.8 821.93 L853.8 822.27 L854.8 822.71 L855.81 823.15 L856.83 823.48 L857.85 823.46 L858.89 823.44 L859.94 823.44 L861 823.47 L862.07 823.53 L863.14 823.81 L864.23 824.1 L865.33 824.66 L866.45 825.43 L867.61 825.92 L868.8 825.16 L869.76 824.5 L870.73 824.25 L871.73 824.23 L872.74 824.18 L873.77 824.01 L874.81 823.82 L875.87 823.58 L876.93 823.26 L878 822.95 L878.98 823 L879.98 823.14 L881 823.26 L882.03 823.06 L883.07 822.86 L884.1 822.64 L885.13 822.39 L886.14 822.14 L887.13 821.68 L888.1 821.16 L889.14 820.7 L890.17 820.96 L891.18 821.2 L892.17 821.13 L893.15 820.75 L894.12 820.37 L895.09 819.94 L896.04 819.48 L897 819.03 L898.08 818.23 L899.18 817.42 L900.27 817.1 L901.35 817.38 L902.4 817.6 L903.42 817.08 L904.39 816.4 L905.3 815.65 L906.05 815.17 L906.75 814.58 L907.41 813.92 L908.04 813.15 L908.65 812.22 L909.24 811.26 L909.82 810.27 L910.41 809.27 L911 808.27 L911.54 807.36 L912.07 806.42 L912.6 805.46 L913.12 804.48 L913.63 803.62 L914.14 802.82 L914.64 802 L915.13 801.18 L915.62 800.35 L916.1 799.46 L916.53 798.47 L916.95 797.45 L917.36 796.43 L917.76 795.39 L918.16 794.35 L918.55 793.31 L918.94 792.37 L919.33 791.5 L919.72 790.65 L920.11 789.81 L920.5 789 L920.99 788.02 L921.48 786.97 L921.99 785.66 L922.48 784.36 L922.97 783.11 L923.45 781.92 L923.9 780.81 L924.32 779.92 L924.7 779.25 L925.6 777.85 L926.3 777.06 L927 776.52 L928.21 776.01 L929.4 776.03 L930.49 776.26 L931.5 776.86 L932.28 777.32 L933.2 778.53 L933.54 779.13 L933.91 779.85 L934.32 780.66 L934.76 781.55 L935.2 782.54 L935.64 783.58 L936.08 784.62 L936.5 785.64 L936.85 786.54 L937.2 787.46 L937.53 788.41 L937.87 789.4 L938.21 790.4 L938.56 791.4 L938.92 792.39 L939.3 793.37 L939.7 794.32 L940.18 795.37 L940.7 796.44 L941.23 797.49 L941.78 798.54 L942.34 799.58 L942.9 800.6 L943.45 801.64 L944 802.66 L944.53 803.67 L945.04 804.67 L945.55 805.66 L946.06 806.55 L946.58 807.38 L947.13 808.19 L947.7 808.98 L948.3 809.74 L948.94 810.6 L949.59 811.45 L950.27 812.29 L950.97 813.12 L951.69 813.87 L952.44 814.59 L953.21 815.3 L954 815.96 L954.82 816.52 L955.68 817.06 L956.56 817.6 L957.47 818.43 L958.39 819.24 L959.32 820 L960.26 820.47 L961.2 820.91 L962.14 821.31 L963.07 821.64 L964.01 821.95 L964.96 822.3 L965.93 822.73 L966.92 823.16 L967.94 823.59 L969 824.02 L969.96 824.4 L970.94 824.62 L971.93 824.83 L972.95 825.03 L973.98 825.23 L975.04 825.41 L976.13 825.85 L977.25 826.41 L978.4 826.85 L979.37 826.92 L980.38 826.98 L981.41 827.21 L982.46 827.56 L983.53 827.89 L984.61 827.76 L985.7 827.63 L986.78 827.7 L987.87 827.95 L988.94 828.19 L990 828.33 L991.09 828.47 L992.25 828.52 L993.45 828.5 L994.67 828.56 L995.88 828.84 L997.06 829.09 L998.17 829.01 L999.2 828.94 L1000.11 828.97 L1000.89 829.09 L1001.5 829.4" fill="none" stroke="#0000ff" stroke-width="2.75" stroke-linejoin="round" stroke-linecap="round"/>
<path d="M592 778.3 L592.64 778.73 L593.5 778.73 L594.53 778.73 L595.67 778.47 L596.84 778.15 L598 777.98 L598.98 777.94 L599.98 777.9 L601 778.14 L602.07 778.43 L603.17 778.68 L604.31 778.83 L605.5 778.97 L606.47 778.85 L607.47 778.72 L608.5 778.56 L609.56 778.36 L610.63 778.15 L611.72 778.17 L612.82 778.28 L613.91 778.43 L615 778.68 L615.98 778.9 L616.98 778.71 L617.99 778.32 L619 777.93 L620.02 778.22 L621.03 778.52 L622.04 778.69 L623.04 778.6 L624.03 778.52 L625 778.48 L626.1 778.49 L627.23 778.56 L628.38 778.7 L629.52 778.84 L630.63 778.78 L631.67 778.63 L632.63 778.47 L633.49 778.4 L634.2 778.2 L635.11 777.52 L635.64 776.6 L635.95 775.47 L636.18 774.3 L636.5 773.28 L636.98 772.24 L637.41 771.28 L637.83 770.27 L638.3 768.92 L638.65 767.85 L639.01 766.7 L639.39 765.49 L639.77 764.26 L640.15 763.05 L640.5 761.89 L640.82 760.85 L641.11 759.87 L641.39 758.89 L641.69 757.92 L642.02 756.95 L642.4 755.96 L642.85 754.91 L643.37 753.79 L643.91 752.61 L644.47 751.48 L645 750.45 L645.5 749.57 L646.39 748.39 L647.21 747.72 L648 747.25 L649.08 746.78 L650.2 746.97 L651.05 747.7 L651.97 748.74 L653 749.86 L653.71 750.55 L654.48 751.21 L655.28 751.86 L656.06 752.57 L656.8 753.33 L657.48 754.2 L658.14 755.12 L658.77 756.1 L659.39 757.13 L660 758.22 L660.49 759.21 L660.96 760.29 L661.42 761.4 L661.89 762.51 L662.38 763.55 L662.9 764.48 L663.56 765.47 L664.24 766.38 L664.95 767.2 L665.7 768.02 L666.5 768.76 L667.35 769.39 L668.25 769.76 L669.19 769.99 L670.14 770.17 L671.1 770.58 L672.05 770.99 L673.01 771.35 L673.99 771.38 L674.98 771.4 L676 771.42 L677.06 771.4 L678.16 771.37 L679.27 771.55 L680.36 771.79 L681.4 772.1 L682.58 772.6 L683.69 773.13 L684.8 773.51 L686 773.86 L687.04 774.1 L688.13 774.3 L689.25 774.52 L690.41 774.91 L691.6 775.32 L692.63 775.74 L693.69 776.21 L694.78 776.67 L695.87 777.04 L696.95 777.38 L698 777.68 L699.13 777.99 L700.15 778.22 L701.19 778.15 L702.4 778 L703.9 778.19 L704.7 778.34 L705.57 778.46 L706.48 778.52 L707.45 778.58 L708.45 778.57 L709.49 778.44 L710.56 778.3 L711.65 778.39 L712.76 778.55 L713.88 778.54 L715 778.18 L715.98 777.88 L717 777.84 L718.05 777.89 L719.14 777.93 L720.24 777.93 L721.35 777.94 L722.46 777.86 L723.56 777.76 L724.64 777.7 L725.7 777.72 L726.71 777.74 L727.68 777.75 L728.6 777.74 L729.82 777.72 L730.94 777.61 L731.98 777.5 L732.97 777.38 L733.94 777.24 L734.9 777.1 L735.88 777 L736.9 776.93 L738 776.86 L738.95 776.83 L739.92 776.81 L740.91 776.7 L741.92 776.44 L742.94 776.19 L743.97 776.24 L745.01 776.39 L746.04 776.49 L747.07 776.24 L748.09 775.99 L749.1 775.88 L750.2 775.89 L751.31 775.9 L752.43 775.67 L753.54 775.43 L754.64 775.36 L755.74 775.4 L756.83 775.41 L757.91 775.22 L758.96 775.03 L760 774.88 L761.15 774.76 L762.3 774.63 L763.45 774.44 L764.59 774.24 L765.69 774.19 L766.76 774.16 L767.77 774.12 L768.72 774.1 L769.6 774.04 L770.75 773.5 L771.73 772.62 L772.6 771.73 L773.4 771.2 L774.18 770.85 L775 770.5 L775.84 770.07 L776.67 769.43 L777.47 768.77 L778.27 768.05 L779.04 767.25 L779.8 766.36 L780.43 765.53 L781.05 764.65 L781.65 763.7 L782.25 762.7 L782.83 761.67 L783.42 760.61 L784 759.67 L784.51 758.96 L785.03 758.23 L785.54 757.48 L786.05 756.71 L786.55 755.81 L787.05 754.68 L787.53 753.5 L788 752.26 L788.33 751.31 L788.66 750.32 L788.98 749.29 L789.29 748.29 L789.6 747.3 L789.91 746.29 L790.21 745.27 L790.51 744.24 L790.81 743.22 L791.1 742.2 L791.4 741.2 L791.69 740.21 L791.98 739.17 L792.26 738.1 L792.54 737.03 L792.81 735.95 L793.09 734.87 L793.36 733.79 L793.64 732.7 L793.92 731.6 L794.21 730.49 L794.5 729.37 L794.77 728.37 L795.05 727.35 L795.34 726.32 L795.62 725.28 L795.91 724.23 L796.2 723.18 L796.49 722.13 L796.78 721.09 L797.06 720.05 L797.35 719.06 L797.63 718.13 L797.9 717.2 L798.19 716.21 L798.48 715.21 L798.76 714.23 L799.04 713.25 L799.32 712.28 L799.59 711.31 L799.87 710.36 L800.15 709.34 L800.43 708.32 L800.71 707.32 L801 706.32 L801.32 705.24 L801.65 704.15 L801.98 703.08 L802.31 702.02 L802.64 700.96 L802.98 699.89 L803.31 698.85 L803.64 697.82 L803.97 696.81 L804.3 695.83 L804.71 694.62 L805.11 693.42 L805.52 692.27 L805.92 691.18 L806.33 690.14 L806.72 689.16 L807.12 688.25 L807.5 687.42 L808.18 686.22 L808.92 685.16 L809.61 684.3 L810.15 683.72 L810.4 683.48 L811.36 683.84 L812.8 684.84 L813.37 685.52 L813.92 686.43 L814.49 687.59 L815.1 689.12 L815.36 689.85 L815.63 690.63 L815.91 691.48 L816.19 692.38 L816.48 693.35 L816.77 694.38 L817.07 695.45 L817.37 696.56 L817.68 697.71 L818 698.91 L818.23 699.79 L818.47 700.71 L818.72 701.65 L818.97 702.63 L819.23 703.64 L819.48 704.67 L819.74 705.71 L820 706.78 L820.26 707.85 L820.52 708.94 L820.77 710.04 L821.02 711.14 L821.26 712.24 L821.5 713.35 L821.7 714.29 L821.9 715.24 L822.09 716.21 L822.27 717.19 L822.46 718.17 L822.64 719.17 L822.82 720.17 L823 721.18 L823.18 722.19 L823.36 723.21 L823.54 724.23 L823.73 725.24 L823.91 726.26 L824.1 727.27 L824.3 728.28 L824.5 729.27 L824.7 730.27 L824.91 731.29 L825.12 732.33 L825.33 733.39 L825.54 734.44 L825.75 735.5 L825.97 736.56 L826.19 737.61 L826.41 738.65 L826.63 739.67 L826.85 740.67 L827.08 741.69 L827.31 742.68 L827.54 743.64 L827.77 744.56 L828 745.43 L828.38 746.73 L828.76 747.95 L829.14 749.08 L829.54 750.15 L829.93 751.05 L830.33 751.88 L830.74 752.68 L831.15 753.46 L831.57 754.23 L832 755.01 L832.54 756.01 L833.08 757.02 L833.62 758.01 L834.18 758.96 L834.75 759.85 L835.34 760.83 L835.96 761.85 L836.6 762.81 L837.5 763.96 L838.43 764.45 L839.4 764.68 L840.4 764.83 L841.44 765.47 L842.5 766.12 L843.41 766.65 L844.32 767.08 L845.24 767.49 L846.2 767.87 L847.21 768.2 L848.31 768.5 L849.5 768.86 L850.41 769.1 L851.37 769.35 L852.38 769.63 L853.42 769.91 L854.5 770.13 L855.6 770.31 L856.7 770.46 L857.81 770.48 L858.91 770.5 L860 770.66 L860.99 770.88 L862 771.1 L863.02 771.43 L864.05 771.75 L865.08 771.97 L866.11 772.01 L867.13 772.03 L868.13 772 L869.11 771.93 L870.07 771.84 L871 771.91 L872.08 771.97 L873.11 771.94 L874.1 771.74 L875.07 771.52 L876.02 771.32 L876.98 771.14 L877.95 770.94 L878.95 770.83 L880 770.74 L880.99 770.66 L882.03 770.75 L883.11 770.83 L884.2 770.57 L885.29 770.02 L886.38 769.46 L887.43 769 L888.45 768.52 L889.41 768.19 L890.3 768.04 L891.31 767.78 L892.24 767.27 L893.1 766.62 L893.91 765.93 L894.68 765.3 L895.44 764.77 L896.21 764.25 L897 763.74 L897.81 763.17 L898.61 762.6 L899.4 762.03 L900.19 761.35 L900.96 760.54 L901.73 759.7 L902.47 758.8 L903.2 758.03 L903.83 757.29 L904.44 756.5 L905.03 755.67 L905.61 754.73 L906.19 753.74 L906.76 752.72 L907.33 751.69 L907.91 750.66 L908.5 749.86 L909.04 749.13 L909.59 748.37 L910.15 747.6 L910.72 746.76 L911.27 745.69 L911.83 744.62 L912.37 743.56 L912.9 742.51 L913.41 741.53 L913.9 740.71 L914.47 739.71 L915.01 738.73 L915.52 737.76 L916.01 736.82 L916.49 735.98 L916.98 735.17 L917.48 734.37 L918 733.61 L918.55 732.85 L919.13 731.8 L919.72 730.64 L920.32 729.5 L920.9 728.4 L921.47 727.4 L922.01 726.74 L922.5 726.14 L923.37 725.14 L924.13 724.35 L924.83 723.63 L925.5 723.02 L926.66 722.13 L927.9 722.06 L928.71 722.47 L929.61 723.13 L930.55 723.89 L931.5 724.66 L932.26 725.25 L933.03 725.93 L933.81 726.67 L934.6 727.53 L935.4 728.45 L935.9 729.09 L936.4 729.8 L936.91 730.58 L937.41 731.41 L937.92 732.32 L938.44 733.28 L938.97 734.24 L939.5 735.2 L939.99 736.05 L940.49 736.89 L941.01 737.66 L941.53 738.44 L942.05 739.23 L942.56 740.02 L943.06 740.83 L943.54 741.82 L944 742.79 L944.49 743.86 L944.96 744.92 L945.41 745.98 L945.85 746.95 L946.28 747.8 L946.69 748.63 L947.1 749.45 L947.5 750.25 L947.93 751.16 L948.32 752.07 L948.7 753.13 L949.07 754.21 L949.47 755.25 L949.9 756.25 L950.4 757.19 L951.05 758.22 L951.75 758.85 L952.49 759.38 L953.29 759.86 L954.12 760.42 L955 761.14 L955.81 761.77 L956.67 762.34 L957.57 762.67 L958.49 762.99 L959.41 763.37 L960.32 763.94 L961.2 764.52 L962.17 765.16 L963.11 765.71 L964.04 766.26 L964.99 766.85 L965.96 767.5 L967 768.18 L967.83 768.64 L968.71 769.09 L969.62 769.55 L970.54 770.03 L971.47 770.5 L972.38 770.95 L973.26 771.41 L974.1 771.84 L975.14 772.33 L976.11 772.69 L977.06 772.99 L978 773.25 L978.97 773.48 L980 773.72 L980.94 773.91 L981.92 774.09 L982.92 774.25 L983.94 774.4 L984.97 774.54 L985.99 774.67 L987 775.15 L988 775.69 L988.99 776.15 L989.97 775.92 L990.97 775.67 L991.96 775.53 L992.97 775.58 L994 775.64 L995.11 775.98 L996.33 776.46 L997.57 776.75 L998.78 776.81 L999.89 776.87 L1000.82 776.95 L1001.5 777" fill="none" stroke="#00ff00" stroke-width="2.75" stroke-linejoin="round" stroke-linecap="round"/>
<path d="M592 721.7 L592.64 721.78 L593.5 721.8 L594.53 721.82 L595.67 721.87 L596.84 721.93 L598 721.93 L598.99 721.91 L600.03 721.89 L601.11 722.07 L602.21 722.25 L603.31 722.35 L604.42 722.34 L605.5 722.29 L606.56 722.42 L607.6 722.51 L608.64 722.36 L609.69 721.9 L610.76 721.43 L611.86 721.75 L613 722.21 L614.08 721.99 L615.24 720.84 L616.45 719.84 L617.66 720.28 L618.85 720.69 L619.98 720.71 L621.01 720.66 L621.9 720.53 L623.26 719.92 L624.25 719.36 L625.09 718.84 L626 718.28 L627.04 717.7 L628.09 717.31 L629.12 716.81 L630.1 716.11 L630.71 715.5 L631.31 714.79 L631.88 714 L632.44 713.15 L632.98 712.27 L633.5 711.37 L634.01 710.46 L634.5 709.52 L634.97 708.55 L635.43 707.44 L635.87 706.2 L636.3 704.94 L636.65 703.86 L636.98 702.76 L637.3 701.65 L637.61 700.53 L637.91 699.41 L638.21 698.47 L638.5 697.52 L638.79 696.59 L639.07 695.67 L639.35 694.74 L639.62 693.78 L639.89 692.77 L640.15 691.7 L640.4 690.53 L640.57 689.65 L640.74 688.65 L640.91 687.6 L641.07 686.51 L641.23 685.41 L641.38 684.29 L641.54 683.17 L641.69 682.06 L641.85 680.96 L642 679.9 L642.15 678.93 L642.3 678.07 L642.44 677.28 L642.58 676.51 L642.73 675.71 L642.87 674.84 L643.02 673.85 L643.17 672.7 L643.33 671.34 L643.5 669.78 L643.57 669.08 L643.64 668.34 L643.72 667.57 L643.79 666.77 L643.87 665.94 L643.95 665.08 L644.03 664.19 L644.11 663.27 L644.19 662.33 L644.27 661.37 L644.35 660.39 L644.43 659.38 L644.52 658.36 L644.6 657.33 L644.68 656.27 L644.77 655.21 L644.85 654.13 L644.93 653.05 L645.02 651.95 L645.1 650.85 L645.18 649.74 L645.26 648.63 L645.34 647.52 L645.42 646.41 L645.5 645.3 L645.56 644.38 L645.63 643.42 L645.69 642.43 L645.76 641.4 L645.83 640.34 L645.9 639.25 L645.96 638.15 L646.03 637 L646.1 635.83 L646.17 634.64 L646.24 633.44 L646.31 632.24 L646.38 631.04 L646.44 629.84 L646.51 628.65 L646.58 627.47 L646.64 626.3 L646.71 625.16 L646.77 624.03 L646.83 622.93 L646.89 621.86 L646.95 620.82 L647.01 619.82 L647.07 618.86 L647.12 617.95 L647.17 617.08 L647.22 616.26 L647.27 615.5 L647.32 614.8 L647.36 614.16 L647.4 613.59 L647.9 612.27 L649.01 611.98 L650.49 612.13 L651.6 612.38 L652.1 613.65 L652.14 614.22 L652.19 614.86 L652.23 615.57 L652.28 616.33 L652.33 617.14 L652.38 618.01 L652.44 618.92 L652.49 619.88 L652.55 620.88 L652.61 621.91 L652.67 622.98 L652.73 624.08 L652.79 625.2 L652.86 626.34 L652.93 627.51 L653 628.68 L653.07 629.87 L653.14 631.06 L653.22 632.26 L653.29 633.45 L653.37 634.64 L653.45 635.82 L653.54 636.99 L653.62 638.15 L653.71 639.28 L653.8 640.4 L653.88 641.36 L653.96 642.36 L654.05 643.38 L654.14 644.41 L654.24 645.44 L654.34 646.48 L654.44 647.54 L654.54 648.61 L654.65 649.69 L654.75 650.78 L654.86 651.87 L654.97 652.96 L655.08 654.05 L655.19 655.13 L655.3 656.21 L655.41 657.28 L655.52 658.34 L655.63 659.38 L655.74 660.41 L655.85 661.41 L655.95 662.4 L656.06 663.36 L656.16 664.29 L656.26 665.2 L656.36 666.07 L656.46 666.91 L656.55 667.71 L656.64 668.47 L656.72 669.18 L656.8 669.86 L657.02 671.7 L657.23 673.23 L657.41 674.49 L657.59 675.54 L657.75 676.41 L657.9 677.17 L658.05 677.85 L658.2 678.52 L658.35 679.22 L658.5 680 L658.74 681.29 L658.96 682.45 L659.17 683.5 L659.39 684.49 L659.63 685.45 L659.9 686.42 L660.2 687.4 L660.51 688.37 L660.85 689.33 L661.21 690.28 L661.59 691.23 L662 692.18 L662.44 693.23 L662.9 694.35 L663.38 695.48 L663.89 696.58 L664.43 697.62 L665 698.53 L665.73 699.26 L666.52 699.85 L667.34 700.35 L668.17 701.06 L669 701.89 L669.79 702.75 L670.54 703.57 L671.32 704.32 L672.19 705.02 L673.2 705.65 L674.03 706 L674.93 706.31 L675.9 706.69 L676.9 707.42 L677.93 708.14 L678.97 708.21 L680 707.76 L681.01 707.32 L682 707.5 L683.01 707.72 L684.04 708.02 L685.12 708.62 L686.27 709.22 L687.5 709.52 L688.43 709.67 L689.42 709.77 L690.45 709.77 L691.51 709.75 L692.59 709.88 L693.69 710.1 L694.79 710.32 L695.88 710.52 L696.96 710.73 L698 710.56 L699 710.22 L699.95 709.91 L700.88 709.83 L701.8 709.77 L702.72 709.71 L703.66 709.94 L704.65 710.18 L705.69 710.43 L706.8 710.72 L708 711.03 L708.85 711.01 L709.74 710.94 L710.67 710.87 L711.62 710.82 L712.6 710.76 L713.6 710.72 L714.62 710.84 L715.66 710.96 L716.7 711.04 L717.76 711.07 L718.81 711.11 L719.87 710.85 L720.92 710.57 L721.97 710.52 L723 710.92 L724.04 711.31 L725.11 711.3 L726.2 711.14 L727.3 711.08 L728.41 711.25 L729.53 711.42 L730.65 711.46 L731.75 711.48 L732.84 711.55 L733.92 711.71 L734.97 711.86 L735.99 712.03 L736.97 712.2 L737.91 712.32 L738.8 712.18 L740.05 711.96 L741.2 711.91 L742.27 711.94 L743.28 711.95 L744.24 712.01 L745.18 712.05 L746.11 712.05 L747.04 711.91 L748 711.77 L749 711.59 L750.03 711.34 L751.06 711.08 L752.1 711.14 L753.14 711.28 L754.18 711.35 L755.22 711.07 L756.25 710.78 L757.28 710.61 L758.29 710.53 L759.3 710.45 L760.41 710.42 L761.51 710.39 L762.61 710.43 L763.7 710.53 L764.78 710.63 L765.86 710.12 L766.92 709.6 L767.97 709.29 L769 709.22 L770.17 709.13 L771.35 709.05 L772.52 708.97 L773.68 708.69 L774.8 708.32 L775.87 708.02 L776.88 707.95 L777.8 707.84 L779.07 707.63 L780.15 707.35 L781.11 706.96 L782.03 706.02 L783 705.05 L784 704.32 L784.99 704.13 L785.97 703.91 L786.96 703.4 L788 702.6 L788.79 701.93 L789.62 701.48 L790.47 701.16 L791.32 700.8 L792.14 700.18 L792.91 699.24 L793.6 698.32 L794.3 697.25 L794.91 696.27 L795.46 695.3 L795.98 694.3 L796.48 693.28 L797 692.22 L797.45 691.23 L797.88 690.17 L798.3 689.07 L798.71 687.97 L799.13 686.89 L799.56 685.86 L800 684.91 L800.64 683.77 L801.3 682.82 L801.97 681.89 L802.64 680.84 L803.3 679.66 L803.63 678.9 L803.97 678.03 L804.31 677.07 L804.64 676.06 L804.98 675.01 L805.31 673.95 L805.63 672.88 L805.94 671.85 L806.23 670.9 L806.5 670.05 L806.9 668.85 L807.24 667.83 L807.56 666.91 L807.86 666.04 L808.16 665.12 L808.5 664.09 L808.81 663.09 L809.14 662.02 L809.47 660.9 L809.81 659.8 L810.14 658.75 L810.47 657.79 L810.8 657.01 L811.54 655.84 L812.28 655.11 L813 654.61 L814.04 653.74 L815.1 653.45 L815.86 653.87 L816.65 654.68 L817.5 655.93 L817.9 656.67 L818.33 657.57 L818.78 658.57 L819.22 659.76 L819.65 660.94 L820.05 662.05 L820.4 663.02 L820.89 664.37 L821.28 665.46 L821.62 666.55 L822 667.86 L822.24 668.78 L822.48 669.77 L822.72 670.83 L822.96 671.91 L823.2 672.99 L823.45 674.05 L823.7 675.04 L823.99 676.1 L824.27 677.06 L824.55 677.93 L824.84 678.8 L825.16 679.75 L825.5 680.79 L825.77 681.68 L826.04 682.65 L826.32 683.68 L826.61 684.73 L826.92 685.79 L827.25 686.93 L827.61 688.03 L828 689.04 L828.49 690.12 L829.02 691.15 L829.58 692.14 L830.17 692.97 L830.77 693.75 L831.38 694.5 L832 695.23 L832.72 696.13 L833.46 697.04 L834.21 697.92 L834.99 698.76 L835.78 699.46 L836.6 700.13 L837.43 700.77 L838.26 701.3 L839.12 701.76 L840.01 702.2 L840.97 702.85 L842 703.68 L842.84 704.33 L843.73 704.65 L844.66 704.8 L845.62 704.93 L846.6 705.42 L847.58 705.97 L848.55 706.46 L849.5 706.49 L850.55 706.46 L851.58 706.49 L852.6 706.64 L853.64 706.77 L854.7 706.91 L855.82 707.06 L857 707.23 L857.98 707.36 L859 707.51 L860.05 707.77 L861.13 708.09 L862.23 708.27 L863.34 707.96 L864.44 707.62 L865.53 707.96 L866.6 708.47 L867.65 708.71 L868.69 708.16 L869.73 707.6 L870.76 707.57 L871.79 707.84 L872.83 708.09 L873.87 707.71 L874.93 707.33 L876 707 L876.99 706.77 L878.01 706.54 L879.05 706.58 L880.1 706.68 L881.15 706.67 L882.19 706.32 L883.2 705.96 L884.18 705.73 L885.12 705.56 L886 705.35 L887.03 704.97 L887.99 704.51 L888.89 703.99 L889.76 703.76 L890.59 703.52 L891.4 703.26 L892.2 702.48 L893 701.4 L893.91 700.17 L894.79 699.35 L895.65 699.01 L896.49 698.65 L897.3 698.09 L898.11 697.04 L898.9 695.96 L899.57 695 L900.22 694.14 L900.85 693.32 L901.47 692.49 L902.09 691.64 L902.71 690.81 L903.34 690.02 L904 689.23 L904.68 688.45 L905.4 687.73 L906.12 687.12 L906.85 686.51 L907.57 685.89 L908.28 685.06 L908.96 684.05 L909.6 683.02 L910.22 681.93 L910.84 680.82 L911.45 679.72 L912.03 678.61 L912.58 677.52 L913.08 676.47 L913.52 675.56 L913.9 674.78 L914.29 673.79 L914.46 673.03 L914.54 672.28 L914.68 671.35 L915 670.02 L915.21 669.3 L915.44 668.51 L915.69 667.65 L915.97 666.74 L916.26 665.71 L916.57 664.63 L916.88 663.53 L917.21 662.42 L917.53 661.31 L917.86 660.21 L918.18 659.13 L918.5 658.1 L918.82 657.11 L919.14 656.16 L919.48 655.21 L919.81 654.26 L920.16 653.31 L920.5 652.36 L920.84 651.41 L921.19 650.47 L921.52 649.46 L921.86 648.35 L922.18 647.25 L922.5 646.14 L922.81 645.02 L923.11 643.88 L923.4 642.71 L923.69 641.54 L923.97 640.37 L924.25 639.32 L924.53 638.38 L924.81 637.47 L925.1 636.59 L925.39 635.76 L925.69 634.98 L926 634.27 L926.52 633.25 L927.13 632.09 L927.77 630.85 L928.4 629.71 L928.98 628.72 L929.47 627.94 L929.83 627.35 L930 627.13 L930.15 627.28 L930.45 627.74 L930.86 628.44 L931.35 629.36 L931.89 630.45 L932.45 631.76 L933 633.24 L933.5 634.75 L933.75 635.59 L934.01 636.48 L934.28 637.43 L934.54 638.43 L934.81 639.46 L935.09 640.54 L935.36 641.65 L935.64 642.77 L935.91 643.91 L936.19 645.05 L936.46 646.19 L936.72 647.31 L936.99 648.42 L937.25 649.5 L937.5 650.55 L937.75 651.56 L938 652.57 L938.24 653.59 L938.48 654.61 L938.72 655.65 L938.96 656.67 L939.2 657.69 L939.43 658.7 L939.66 659.68 L939.89 660.63 L940.12 661.56 L940.34 662.45 L940.56 663.35 L940.78 664.19 L941 664.98 L941.45 666.44 L941.86 667.64 L942.27 668.66 L942.67 669.57 L943.08 670.46 L943.52 671.34 L944 672.37 L944.4 673.26 L944.81 674.17 L945.24 675.1 L945.68 676.06 L946.13 677.01 L946.59 677.98 L947.05 678.97 L947.52 679.97 L948 681 L948.4 681.87 L948.81 682.77 L949.23 683.7 L949.66 684.66 L950.09 685.62 L950.52 686.57 L950.95 687.51 L951.38 688.41 L951.8 689.28 L952.21 690.08 L952.6 690.8 L953.28 691.91 L953.92 692.89 L954.54 693.98 L955.17 694.99 L955.81 696 L956.5 697.09 L957.12 697.71 L957.75 698.32 L958.4 698.93 L959.07 699.53 L959.75 700.44 L960.46 701.42 L961.2 702.38 L961.96 703.3 L962.74 704.01 L963.54 704.7 L964.37 705.38 L965.22 705.84 L966.09 706.22 L967 706.6 L967.83 707.14 L968.71 707.83 L969.62 708.53 L970.54 709.2 L971.47 709.83 L972.38 710.41 L973.26 710.86 L974.1 711.19 L975.14 711.51 L976.11 711.53 L977.06 711.42 L978 711.26 L978.97 711.37 L980 711.54 L980.94 711.71 L981.92 711.93 L982.92 712.13 L983.94 712.35 L984.97 712.58 L985.99 712.82 L987 712.89 L988 712.93 L988.99 713.02 L989.97 713.39 L990.97 713.77 L991.96 714.16 L992.97 714.56 L994 714.96 L995.11 715.04 L996.33 715 L997.57 715.14 L998.78 715.5 L999.89 715.78 L1000.82 715.85 L1001.5 716.2" fill="none" stroke="#ff0000" stroke-width="2.75" stroke-linejoin="round" stroke-linecap="round"/>
<path d="M592 684.4 L592.16 683.37 L592.38 682.52 L592.64 681.5 L592.92 680.39 L593.22 679.23 L593.5 678.09 L593.71 677.26 L593.92 676.43 L594.14 675.59 L594.36 674.72 L594.58 673.81 L594.81 672.76 L595.05 671.55 L595.3 670.26 L595.47 669.32 L595.65 668.31 L595.83 667.23 L596.01 666.12 L596.2 664.97 L596.39 663.81 L596.58 662.65 L596.77 661.51 L596.96 660.41 L597.15 659.35 L597.33 658.36 L597.5 657.51 L597.79 656.28 L598.06 655.15 L598.32 654.11 L598.59 653.17 L598.85 652.31 L599.12 651.51 L599.4 650.79 L599.91 649.71 L600.44 648.66 L600.98 647.66 L601.5 646.79 L602.51 645.44 L603.5 645.21 L604.49 645.88 L605.5 646.93 L606.46 647.66 L607.6 648.16 L608.59 648.15 L609.71 648.22 L611 648.27 L612.09 647.95 L613.29 647.61 L614.54 647.2 L615.8 646.71 L616.82 646.33 L617.86 645.98 L618.92 645.59 L619.97 645.38 L621 645.15 L622.03 644.79 L623.06 644.18 L624.08 643.56 L625.07 642.88 L626 642.21 L627.07 641.41 L628.05 641.07 L629.01 640.73 L630 640.21 L631.07 638.93 L632.17 637.62 L633.24 637.13 L634.2 636.89 L635.01 636.52 L635.72 636.04 L636.37 635.46 L637 634.77 L637.49 634.17 L637.96 633.49 L638.41 632.43 L638.85 631.25 L639.3 629.91 L639.58 628.97 L639.86 627.97 L640.14 626.9 L640.42 625.79 L640.69 624.63 L640.97 623.42 L641.24 622.19 L641.5 620.94 L641.71 619.91 L641.91 618.86 L642.11 617.78 L642.31 616.67 L642.51 615.55 L642.71 614.42 L642.91 613.28 L643.1 612.13 L643.3 610.99 L643.5 610.04 L643.7 609.08 L643.9 608.11 L644.1 607.13 L644.3 606.14 L644.49 605.16 L644.69 604.17 L644.89 603.2 L645.09 602.23 L645.3 601.28 L645.5 600.35 L645.71 599.41 L645.92 598.45 L646.13 597.39 L646.34 596.28 L646.56 595.19 L646.77 594.13 L646.98 593.12 L647.19 592.17 L647.4 591.29 L647.6 590.51 L648.08 588.92 L648.54 587.74 L649.01 586.81 L649.5 585.98 L650.82 584.43 L651.7 583.78 L652.11 584.23 L652.9 585.32 L653.7 586.67 L654.1 587.51 L654.5 588.47 L654.91 589.54 L655.34 590.78 L655.8 592.23 L656.05 593.05 L656.31 593.94 L656.58 594.89 L656.85 595.89 L657.13 596.93 L657.41 597.99 L657.69 599.08 L657.97 600.16 L658.24 601.25 L658.5 602.32 L658.73 603.31 L658.95 604.32 L659.17 605.36 L659.39 606.41 L659.6 607.43 L659.81 608.41 L660.03 609.38 L660.24 610.34 L660.46 611.26 L660.68 612.15 L660.9 613 L661.22 614.1 L661.54 615.16 L661.86 616.17 L662.19 617.14 L662.52 618.26 L662.85 619.35 L663.18 620.41 L663.5 621.44 L663.92 622.76 L664.34 624.02 L664.76 625.23 L665.17 626.15 L665.58 626.91 L666 627.64 L666.5 628.47 L667 629.25 L667.49 629.97 L667.99 630.94 L668.5 631.94 L669.09 633.07 L669.65 634.08 L670.29 635.07 L671.1 635.48 L671.92 635.74 L672.87 635.94 L673.89 636.45 L674.95 636.97 L676 637.56 L677.03 638.41 L678.07 639.19 L679.13 639.73 L680.24 640.18 L681.4 640.76 L682.27 641.36 L683.17 642 L684.09 642.43 L685.03 642.38 L686 642.32 L686.99 642.52 L688 643.02 L688.91 643.47 L689.86 643.66 L690.82 643.73 L691.81 643.79 L692.79 644.34 L693.78 644.9 L694.75 645.41 L695.7 645.75 L696.75 646.06 L697.76 646.18 L698.76 646.09 L699.76 645.97 L700.79 646.21 L701.86 646.57 L703 646.9 L703.94 647.03 L704.91 647.16 L705.9 647.18 L706.93 647.07 L707.97 646.95 L709.02 646.84 L710.08 646.72 L711.14 646.61 L712.2 646.55 L713.26 646.46 L714.32 646.49 L715.39 646.55 L716.47 646.46 L717.55 645.96 L718.64 645.45 L719.75 645.56 L720.87 645.87 L722 645.92 L723.05 645.49 L724.14 645.05 L725.25 645.07 L726.38 645.17 L727.51 645.05 L728.62 644.65 L729.71 644.26 L730.76 644.21 L731.76 644.17 L732.7 644.12 L733.91 644.04 L734.98 643.98 L735.97 644.12 L736.92 644.3 L737.88 644.44 L738.89 644.27 L740 644.09 L740.94 644.01 L741.92 644 L742.94 644.01 L743.99 644.16 L745.04 644.35 L746.09 644.41 L747.12 643.96 L748.13 643.47 L749.1 643.31 L750.14 643.43 L751.15 643.46 L752.12 642.89 L753.09 642.19 L754.05 641.48 L755.01 640.98 L755.99 640.48 L757 640.05 L757.93 639.77 L758.89 639.49 L759.86 639.33 L760.85 639.3 L761.83 639.27 L762.79 639.1 L763.73 638.87 L764.64 638.64 L765.5 638.01 L766.54 637.12 L767.52 636.28 L768.46 635.78 L769.37 635.27 L770.25 634.77 L771.13 634.27 L772 633.75 L773.03 633.18 L774.04 632.97 L775.04 632.75 L776.01 632.42 L776.93 631.96 L777.8 631.51 L778.75 630.97 L779.6 630.42 L780.41 629.88 L781.2 629.32 L782 628.7 L782.81 628.05 L783.61 627.37 L784.41 626.86 L785.2 626.33 L786 625.78 L786.81 624.97 L787.62 623.9 L788.43 622.82 L789.23 621.81 L790 621.11 L790.86 620.37 L791.65 619.73 L792.51 618.94 L793.6 617.99 L794.39 617.37 L795.31 616.72 L796.3 616.03 L797.31 615.31 L798.3 614.44 L799.21 613.56 L800 612.74 L800.76 612.2 L801.4 611.53 L801.96 610.76 L802.48 609.96 L802.98 608.95 L803.5 607.92 L804.03 606.92 L804.54 605.93 L805.03 604.96 L805.52 604.05 L806.01 603.21 L806.5 602.4 L807.1 601.46 L807.7 600.55 L808.3 599.68 L808.9 598.88 L809.5 598.2 L810.5 597.27 L811.5 596.73 L812.5 596.62 L813.47 596.97 L814.43 597.61 L815.5 598.57 L816.1 599.14 L816.73 599.48 L817.38 599.88 L818.05 600.36 L818.73 600.93 L819.4 602.11 L819.9 603.12 L820.4 604.2 L820.91 605.34 L821.41 606.53 L821.92 607.66 L822.44 608.81 L822.97 609.97 L823.5 611.13 L823.94 612.09 L824.38 613.05 L824.84 613.99 L825.3 614.94 L825.76 615.91 L826.22 616.87 L826.67 617.81 L827.13 618.72 L827.57 619.56 L828 620.36 L828.52 621.32 L829.02 622.23 L829.51 623.11 L829.99 624.04 L830.48 624.96 L830.97 625.85 L831.47 626.72 L832 627.58 L832.62 628.38 L833.26 629.02 L833.91 629.62 L834.58 630.18 L835.25 630.91 L835.92 631.94 L836.6 632.96 L837.39 634.14 L838.18 635.04 L838.97 635.75 L839.79 636.44 L840.63 637.13 L841.5 637.93 L842.42 638.7 L843.37 639.48 L844.35 640.26 L845.34 641.01 L846.33 641.58 L847.3 642 L848.24 642.34 L849.15 642.53 L850.06 642.63 L850.99 642.69 L851.96 642.78 L853 642.87 L853.97 642.96 L855.02 643.49 L856.11 644.01 L857.2 644.4 L858.27 644.65 L859.28 644.88 L860.2 645.04 L861.54 645.23 L862.68 645.42 L863.77 645.61 L865 645.72 L865.94 645.61 L866.95 645.5 L867.99 645.44 L869.03 645.4 L870.04 645.31 L871 644.79 L872.05 644.07 L873.04 643.5 L874 643.56 L874.97 643.6 L876 643.36 L876.89 642.89 L877.79 642.41 L878.71 642.18 L879.66 642.16 L880.65 642.15 L881.7 641.62 L882.66 641 L883.66 640.35 L884.7 639.65 L885.76 638.93 L886.84 638.46 L887.92 638.25 L889 638.06 L889.96 637.84 L890.95 637.65 L891.96 637.36 L892.98 636.75 L893.97 636.13 L894.93 635.59 L895.85 635.1 L896.7 634.56 L897.72 634.16 L898.64 633.89 L899.49 633.55 L900.31 632.82 L901.13 631.85 L902 630.81 L902.68 630.02 L903.38 629.32 L904.09 628.58 L904.8 627.81 L905.5 627.02 L906.19 626.21 L906.86 625.41 L907.5 624.63 L908.2 623.69 L908.87 622.7 L909.52 621.7 L910.15 620.7 L910.77 619.75 L911.39 618.95 L912 618.15 L912.61 617.35 L913.21 616.53 L913.8 615.55 L914.38 614.56 L914.95 613.6 L915.53 612.69 L916.1 611.86 L916.89 610.85 L917.67 609.94 L918.44 609.11 L919.22 608.41 L920 607.81 L921 607.15 L922 606.44 L923 605.69 L924 605 L924.99 604.26 L925.97 603.55 L926.95 603.05 L927.9 603.2 L928.81 603.62 L929.7 604.16 L930.59 604.5 L931.5 604.97 L932.26 605.44 L933.03 606.41 L933.81 607.47 L934.6 608.63 L935.4 609.59 L935.97 610.2 L936.55 610.86 L937.12 611.56 L937.7 612.37 L938.29 613.47 L938.89 614.61 L939.5 615.8 L939.99 616.78 L940.48 617.8 L940.99 618.88 L941.5 619.98 L942.01 621.1 L942.52 622.23 L943.03 623.34 L943.52 624.26 L944 625.17 L944.46 626.05 L944.91 626.94 L945.35 627.81 L945.78 628.67 L946.21 629.47 L946.64 630.27 L947.08 631.07 L947.53 631.88 L948 632.69 L948.49 633.53 L949 634.46 L949.51 635.41 L950.04 636.36 L950.57 637.31 L951.1 638.24 L951.61 639.31 L952.12 640.34 L952.6 641.33 L953.19 642.51 L953.74 643.63 L954.28 644.75 L954.81 645.84 L955.35 646.91 L955.91 647.98 L956.5 649.06 L957.13 649.93 L957.78 650.79 L958.45 651.64 L959.14 652.48 L959.83 653.09 L960.52 653.64 L961.2 654.16 L961.98 654.79 L962.75 655.98 L963.52 657.13 L964.31 658.28 L965.14 659.12 L966 659.81 L966.77 660.42 L967.57 661.1 L968.39 661.9 L969.23 662.69 L970.09 663.48 L970.98 664.28 L971.9 665.06 L972.72 665.71 L973.57 665.87 L974.44 666.01 L975.32 666.13 L976.22 666.83 L977.13 667.59 L978.06 668.33 L979 668.74 L979.96 669.13 L980.96 669.55 L981.98 670.18 L983.01 670.8 L984.03 671.16 L985.05 671.29 L986.04 671.41 L987 671.57 L988.05 671.74 L989.06 671.98 L990.04 672.66 L991.02 673.33 L991.99 673.93 L992.98 674.45 L994 674.99 L994.96 675.24 L996.02 675.36 L997.11 675.53 L998.19 675.93 L999.21 676.32 L1000.14 676.7 L1000.92 677.06 L1001.5 677.3" fill="none" stroke="#800080" stroke-width="2.75" stroke-linejoin="round" stroke-linecap="round"/>
<line x1="106.3" y1="89" x2="106.3" y2="346" stroke="#1a1aff" stroke-width="1.6" stroke-dasharray="4.6 7.3" stroke-dashoffset="-1.2"/>
<line x1="216.6" y1="69.5" x2="216.6" y2="350" stroke="#1a1aff" stroke-width="1.6" stroke-dasharray="4.6 7.3" stroke-dashoffset="-1.2"/>
<line x1="306.1" y1="107.8" x2="306.1" y2="353" stroke="#1a1aff" stroke-width="1.6" stroke-dasharray="4.6 7.3" stroke-dashoffset="-1.2"/>
<line x1="626.6" y1="75.6" x2="626.6" y2="355.3" stroke="#1a1aff" stroke-width="1.6" stroke-dasharray="4.6 7.3" stroke-dashoffset="-1.2"/>
<line x1="737.7" y1="63.3" x2="737.7" y2="353.3" stroke="#1a1aff" stroke-width="1.6" stroke-dasharray="4.6 7.3" stroke-dashoffset="-1.2"/>
<line x1="836.8" y1="110" x2="836.8" y2="350.8" stroke="#1a1aff" stroke-width="1.6" stroke-dasharray="4.6 7.3" stroke-dashoffset="-1.2"/>
<line x1="119.4" y1="558.4" x2="119.4" y2="851.5" stroke="#1a1aff" stroke-width="1.6" stroke-dasharray="4.6 7.3" stroke-dashoffset="-1.2"/>
<line x1="277.8" y1="598.8" x2="277.8" y2="845.1" stroke="#1a1aff" stroke-width="1.6" stroke-dasharray="4.6 7.3" stroke-dashoffset="-1.2"/>
<line x1="395" y1="609.6" x2="395" y2="844" stroke="#1a1aff" stroke-width="1.6" stroke-dasharray="4.6 7.3" stroke-dashoffset="-1.2"/>
<line x1="649.8" y1="590.2" x2="649.8" y2="837.1" stroke="#1a1aff" stroke-width="1.6" stroke-dasharray="4.6 7.3" stroke-dashoffset="-1.2"/>
<line x1="812.4" y1="601" x2="812.4" y2="836.5" stroke="#1a1aff" stroke-width="1.6" stroke-dasharray="4.6 7.3" stroke-dashoffset="-1.2"/>
<line x1="929.8" y1="609.6" x2="929.8" y2="844" stroke="#1a1aff" stroke-width="1.6" stroke-dasharray="4.6 7.3" stroke-dashoffset="-1.2"/>
<rect x="75" y="14.7" width="408" height="343.3" fill="none" stroke="#000" stroke-width="2.3"/>
<path d="M102.2 358 V351.5 M129.4 358 V354.5 M156.6 358 V351.5 M183.8 358 V354.5 M211 358 V351.5 M238.2 358 V354.5 M265.4 358 V351.5 M292.6 358 V354.5 M319.8 358 V351.5 M347 358 V354.5 M374.2 358 V351.5 M401.4 358 V354.5 M428.6 358 V351.5 M455.8 358 V354.5" stroke="#000" stroke-width="2" fill="none"/>
<rect x="592.7" y="15.1" width="413.9" height="348.1" fill="none" stroke="#000" stroke-width="2.3"/>
<path d="M620.29 363.2 V356.7 M647.89 363.2 V359.7 M675.48 363.2 V356.7 M703.07 363.2 V359.7 M730.67 363.2 V356.7 M758.26 363.2 V359.7 M785.85 363.2 V356.7 M813.45 363.2 V359.7 M841.04 363.2 V356.7 M868.63 363.2 V359.7 M896.23 363.2 V356.7 M923.82 363.2 V359.7 M951.41 363.2 V356.7 M979.01 363.2 V359.7" stroke="#000" stroke-width="2" fill="none"/>
<rect x="64" y="504" width="410.9" height="345.8" fill="none" stroke="#000" stroke-width="2.3"/>
<path d="M91.39 849.8 V843.3 M118.79 849.8 V846.3 M146.18 849.8 V843.3 M173.57 849.8 V846.3 M200.97 849.8 V843.3 M228.36 849.8 V846.3 M255.75 849.8 V843.3 M283.15 849.8 V846.3 M310.54 849.8 V843.3 M337.93 849.8 V846.3 M365.33 849.8 V843.3 M392.72 849.8 V846.3 M420.11 849.8 V843.3 M447.51 849.8 V846.3" stroke="#000" stroke-width="2" fill="none"/>
<rect x="591.4" y="503.4" width="410.6" height="344.9" fill="none" stroke="#000" stroke-width="2.3"/>
<path d="M618.77 848.3 V841.8 M646.15 848.3 V844.8 M673.52 848.3 V841.8 M700.89 848.3 V844.8 M728.27 848.3 V841.8 M755.64 848.3 V844.8 M783.01 848.3 V841.8 M810.39 848.3 V844.8 M837.76 848.3 V841.8 M865.13 848.3 V844.8 M892.51 848.3 V841.8 M919.88 848.3 V844.8 M947.25 848.3 V841.8 M974.63 848.3 V844.8" stroke="#000" stroke-width="2" fill="none"/>
<text transform="translate(82.73 377.81) scale(1.0466 1)" font-family='"Liberation Sans", Arial, sans-serif' font-size="19.49" fill="#000" stroke="#000" stroke-width="0.3">60</text>
<text transform="translate(137.21 377.81) scale(1.0466 1)" font-family='"Liberation Sans", Arial, sans-serif' font-size="19.49" fill="#000" stroke="#000" stroke-width="0.3">80</text>
<text transform="translate(185.6 377.81) scale(1.0466 1)" font-family='"Liberation Sans", Arial, sans-serif' font-size="19.49" fill="#000" stroke="#000" stroke-width="0.3" clip-path="url(#c0)">100</text>
<text transform="translate(240 377.81) scale(1.0466 1)" font-family='"Liberation Sans", Arial, sans-serif' font-size="19.49" fill="#000" stroke="#000" stroke-width="0.3" clip-path="url(#c1)">120</text>
<text transform="translate(294.4 377.81) scale(1.0466 1)" font-family='"Liberation Sans", Arial, sans-serif' font-size="19.49" fill="#000" stroke="#000" stroke-width="0.3" clip-path="url(#c2)">140</text>
<text transform="translate(348.8 377.81) scale(1.0466 1)" font-family='"Liberation Sans", Arial, sans-serif' font-size="19.49" fill="#000" stroke="#000" stroke-width="0.3" clip-path="url(#c3)">160</text>
<text transform="translate(403.2 377.81) scale(1.0466 1)" font-family='"Liberation Sans", Arial, sans-serif' font-size="19.49" fill="#000" stroke="#000" stroke-width="0.3" clip-path="url(#c4)">180</text>
<text transform="translate(457.87 377.81) scale(1.0466 1)" font-family='"Liberation Sans", Arial, sans-serif' font-size="19.49" fill="#000" stroke="#000" stroke-width="0.3">200</text>
<text transform="translate(603.23 383.91) scale(1.0244 1)" font-family='"Liberation Sans", Arial, sans-serif' font-size="19.92" fill="#000" stroke="#000" stroke-width="0.3">60</text>
<text transform="translate(658.49 383.91) scale(1.0244 1)" font-family='"Liberation Sans", Arial, sans-serif' font-size="19.92" fill="#000" stroke="#000" stroke-width="0.3">80</text>
<text transform="translate(707.67 383.91) scale(1.0244 1)" font-family='"Liberation Sans", Arial, sans-serif' font-size="19.92" fill="#000" stroke="#000" stroke-width="0.3" clip-path="url(#c5)">100</text>
<text transform="translate(762.86 383.91) scale(1.0244 1)" font-family='"Liberation Sans", Arial, sans-serif' font-size="19.92" fill="#000" stroke="#000" stroke-width="0.3" clip-path="url(#c6)">120</text>
<text transform="translate(818.04 383.91) scale(1.0244 1)" font-family='"Liberation Sans", Arial, sans-serif' font-size="19.92" fill="#000" stroke="#000" stroke-width="0.3" clip-path="url(#c7)">140</text>
<text transform="translate(873.23 383.91) scale(1.0244 1)" font-family='"Liberation Sans", Arial, sans-serif' font-size="19.92" fill="#000" stroke="#000" stroke-width="0.3" clip-path="url(#c8)">160</text>
<text transform="translate(928.42 383.91) scale(1.0244 1)" font-family='"Liberation Sans", Arial, sans-serif' font-size="19.92" fill="#000" stroke="#000" stroke-width="0.3" clip-path="url(#c9)">180</text>
<text transform="translate(983.87 383.91) scale(1.0244 1)" font-family='"Liberation Sans", Arial, sans-serif' font-size="19.92" fill="#000" stroke="#000" stroke-width="0.3">200</text>
<text transform="translate(78.43 869.92) scale(1.0860 1)" font-family='"Liberation Sans", Arial, sans-serif' font-size="18.79" fill="#000" stroke="#000" stroke-width="0.3">60</text>
<text transform="translate(133.29 869.92) scale(1.0860 1)" font-family='"Liberation Sans", Arial, sans-serif' font-size="18.79" fill="#000" stroke="#000" stroke-width="0.3">80</text>
<text transform="translate(182.07 869.92) scale(1.0860 1)" font-family='"Liberation Sans", Arial, sans-serif' font-size="18.79" fill="#000" stroke="#000" stroke-width="0.3" clip-path="url(#c10)">100</text>
<text transform="translate(236.86 869.92) scale(1.0860 1)" font-family='"Liberation Sans", Arial, sans-serif' font-size="18.79" fill="#000" stroke="#000" stroke-width="0.3" clip-path="url(#c11)">120</text>
<text transform="translate(291.64 869.92) scale(1.0860 1)" font-family='"Liberation Sans", Arial, sans-serif' font-size="18.79" fill="#000" stroke="#000" stroke-width="0.3" clip-path="url(#c12)">140</text>
<text transform="translate(346.43 869.92) scale(1.0860 1)" font-family='"Liberation Sans", Arial, sans-serif' font-size="18.79" fill="#000" stroke="#000" stroke-width="0.3" clip-path="url(#c13)">160</text>
<text transform="translate(401.22 869.92) scale(1.0860 1)" font-family='"Liberation Sans", Arial, sans-serif' font-size="18.79" fill="#000" stroke="#000" stroke-width="0.3" clip-path="url(#c14)">180</text>
<text transform="translate(456.27 869.92) scale(1.0860 1)" font-family='"Liberation Sans", Arial, sans-serif' font-size="18.79" fill="#000" stroke="#000" stroke-width="0.3">200</text>
<text transform="translate(607.53 871.32) scale(1.0567 1)" font-family='"Liberation Sans", Arial, sans-serif' font-size="18.93" fill="#000" stroke="#000" stroke-width="0.3">60</text>
<text transform="translate(662.35 871.32) scale(1.0567 1)" font-family='"Liberation Sans", Arial, sans-serif' font-size="18.93" fill="#000" stroke="#000" stroke-width="0.3">80</text>
<text transform="translate(711.21 871.32) scale(1.0567 1)" font-family='"Liberation Sans", Arial, sans-serif' font-size="18.93" fill="#000" stroke="#000" stroke-width="0.3" clip-path="url(#c15)">100</text>
<text transform="translate(765.96 871.32) scale(1.0567 1)" font-family='"Liberation Sans", Arial, sans-serif' font-size="18.93" fill="#000" stroke="#000" stroke-width="0.3" clip-path="url(#c16)">120</text>
<text transform="translate(820.7 871.32) scale(1.0567 1)" font-family='"Liberation Sans", Arial, sans-serif' font-size="18.93" fill="#000" stroke="#000" stroke-width="0.3" clip-path="url(#c17)">140</text>
<text transform="translate(875.45 871.32) scale(1.0567 1)" font-family='"Liberation Sans", Arial, sans-serif' font-size="18.93" fill="#000" stroke="#000" stroke-width="0.3" clip-path="url(#c18)">160</text>
<text transform="translate(930.2 871.32) scale(1.0567 1)" font-family='"Liberation Sans", Arial, sans-serif' font-size="18.93" fill="#000" stroke="#000" stroke-width="0.3" clip-path="url(#c19)">180</text>
<text transform="translate(985.2 871.32) scale(1.0567 1)" font-family='"Liberation Sans", Arial, sans-serif' font-size="18.93" fill="#000" stroke="#000" stroke-width="0.3">200</text>
<text transform="translate(397.62 124.19)" font-family='"Liberation Sans", Arial, sans-serif' font-size="21.04" fill="#000" stroke="#000" stroke-width="0.3">785 nm</text>
<text transform="translate(399.11 220.7) scale(1.0467 1)" font-family='"Liberation Sans", Arial, sans-serif' font-size="20.48" fill="#000" stroke="#000" stroke-width="0.3">633 nm</text>
<text transform="translate(399.95 275.3) scale(1.0263 1)" font-family='"Liberation Sans", Arial, sans-serif' font-size="20.64" fill="#000" stroke="#000" stroke-width="0.3" clip-path="url(#c20)">514 nm</text>
<text transform="translate(398.71 326.39) scale(1.0075 1)" font-family='"Liberation Sans", Arial, sans-serif' font-size="21.19" fill="#000" stroke="#000" stroke-width="0.3">488 nm</text>
<text transform="translate(919.08 177.49) scale(1.0204 1)" font-family='"Liberation Sans", Arial, sans-serif' font-size="21.47" fill="#000" stroke="#000" stroke-width="0.3">785 nm</text>
<text transform="translate(919.09 224.39) scale(1.0338 1)" font-family='"Liberation Sans", Arial, sans-serif' font-size="21.19" fill="#000" stroke="#000" stroke-width="0.3">633 nm</text>
<text transform="translate(919.93 276.99) scale(1.0155 1)" font-family='"Liberation Sans", Arial, sans-serif' font-size="21.5" fill="#000" stroke="#000" stroke-width="0.3" clip-path="url(#c21)">514 nm</text>
<text transform="translate(920.7 322.5) scale(1.0474 1)" font-family='"Liberation Sans", Arial, sans-serif' font-size="20.76" fill="#000" stroke="#000" stroke-width="0.3">488 nm</text>
<text transform="translate(157.51 646.89) scale(0.9821 1)" font-family='"Liberation Sans", Arial, sans-serif' font-size="21.61" fill="#000" stroke="#000" stroke-width="0.3">785 nm</text>
<text transform="translate(159.61 700) scale(1.0370 1)" font-family='"Liberation Sans", Arial, sans-serif' font-size="20.76" fill="#000" stroke="#000" stroke-width="0.3">633 nm</text>
<text transform="translate(160.25 755.4) scale(1.0410 1)" font-family='"Liberation Sans", Arial, sans-serif' font-size="20.49" fill="#000" stroke="#000" stroke-width="0.3" clip-path="url(#c22)">514 nm</text>
<text transform="translate(160.61 807.7) scale(1.0507 1)" font-family='"Liberation Sans", Arial, sans-serif' font-size="20.2" fill="#000" stroke="#000" stroke-width="0.3">488 nm</text>
<text transform="translate(692.8 638.1) scale(1.0371 1)" font-family='"Liberation Sans", Arial, sans-serif' font-size="20.76" fill="#000" stroke="#000" stroke-width="0.3">785 nm</text>
<text transform="translate(693.82 703.5) scale(1.0280 1)" font-family='"Liberation Sans", Arial, sans-serif' font-size="20.76" fill="#000" stroke="#000" stroke-width="0.3">633 nm</text>
<text transform="translate(690.94 767.29)" font-family='"Liberation Sans", Arial, sans-serif' font-size="21.35" fill="#000" stroke="#000" stroke-width="0.3" clip-path="url(#c23)">514 nm</text>
<text transform="translate(691.82 822.5) scale(1.0093 1)" font-family='"Liberation Sans", Arial, sans-serif' font-size="20.9" fill="#000" stroke="#000" stroke-width="0.3">488 nm</text>
<text transform="translate(403.61 43.2) scale(0.9552 1)" font-family='"Liberation Sans", Arial, sans-serif' font-size="21.51" fill="#000" stroke="#000" stroke-width="0.3">Bi</text>
<text transform="translate(421.83 49.9) scale(1.0253 1)" font-family='"Liberation Sans", Arial, sans-serif' font-size="20.77" fill="#000" stroke="#000" stroke-width="0.3">2</text>
<text transform="translate(434.55 43.2) scale(0.9381 1)" font-family='"Liberation Sans", Arial, sans-serif' font-size="21.51" fill="#000" stroke="#000" stroke-width="0.3">Te</text>
<text transform="translate(458.82 49.69) scale(0.9722 1)" font-family='"Liberation Sans", Arial, sans-serif' font-size="21.04" fill="#000" stroke="#000" stroke-width="0.3">3</text>
<text transform="translate(907.54 45.8) scale(0.9925 1)" font-family='"Liberation Sans", Arial, sans-serif' font-size="21.66" fill="#000" stroke="#000" stroke-width="0.3">Bi</text>
<text transform="translate(926.44 52.2) scale(1.0450 1)" font-family='"Liberation Sans", Arial, sans-serif' font-size="22.06" fill="#000" stroke="#000" stroke-width="0.3">2</text>
<text transform="translate(940.14 45.8) scale(0.9486 1)" font-family='"Liberation Sans", Arial, sans-serif' font-size="21.66" fill="#000" stroke="#000" stroke-width="0.3">Te</text>
<text transform="translate(964.21 52.2) scale(1.0749 1)" font-family='"Liberation Sans", Arial, sans-serif' font-size="22.06" fill="#000" stroke="#000" stroke-width="0.3">2</text>
<text transform="translate(978.23 45.8) scale(0.8800 1)" font-family='"Liberation Sans", Arial, sans-serif' font-size="21.66" fill="#000" stroke="#000" stroke-width="0.3">Se</text>
<text transform="translate(352.57 532.5) scale(1.0290 1)" font-family='"Liberation Sans", Arial, sans-serif' font-size="20.49" fill="#000" stroke="#000" stroke-width="0.3">Bi</text>
<text transform="translate(371.47 539.4) scale(1.0857 1)" font-family='"Liberation Sans", Arial, sans-serif' font-size="20.62" fill="#000" stroke="#000" stroke-width="0.3">2</text>
<text transform="translate(384.84 532.5) scale(0.9934 1)" font-family='"Liberation Sans", Arial, sans-serif' font-size="20.49" fill="#000" stroke="#000" stroke-width="0.3">TeSe</text>
<text transform="translate(434.4 539.4) scale(1.0644 1)" font-family='"Liberation Sans", Arial, sans-serif' font-size="20.62" fill="#000" stroke="#000" stroke-width="0.3">2</text>
<text transform="translate(926.31 529.7) scale(0.9817 1)" font-family='"Liberation Sans", Arial, sans-serif' font-size="20.93" fill="#000" stroke="#000" stroke-width="0.3">Bi</text>
<text transform="translate(945.33 536.4) scale(0.9978 1)" font-family='"Liberation Sans", Arial, sans-serif' font-size="21.34" fill="#000" stroke="#000" stroke-width="0.3">2</text>
<text transform="translate(957.96 529.7) scale(0.9865 1)" font-family='"Liberation Sans", Arial, sans-serif' font-size="20.93" fill="#000" stroke="#000" stroke-width="0.3">Se</text>
<text transform="translate(983.55 536.2) scale(0.9578 1)" font-family='"Liberation Sans", Arial, sans-serif' font-size="20.48" fill="#000" stroke="#000" stroke-width="0.3">3</text>
<text transform="translate(114.41 47.65) scale(0.9007 1)" font-family='"Liberation Sans", Arial, sans-serif' font-size="20.93" fill="#000" stroke="#000" stroke-width="0.3">A</text>
<text transform="translate(128.27 36.55) scale(1.0600 1)" font-family='"Liberation Sans", Arial, sans-serif' font-size="20.2" fill="#000" stroke="#000" stroke-width="0.3" clip-path="url(#c24)">1</text>
<text transform="translate(127.51 55.25) scale(1.0600 1)" font-family='"Liberation Sans", Arial, sans-serif' font-size="20.2" fill="#000" stroke="#000" stroke-width="0.3" clip-path="url(#c25)">1g</text>
<text transform="translate(230.25 51.35) scale(0.8667 1)" font-family='"Liberation Sans", Arial, sans-serif' font-size="21.08" fill="#000" stroke="#000" stroke-width="0.3">E</text>
<text transform="translate(243.88 40.55) scale(1.0619 1)" font-family='"Liberation Sans", Arial, sans-serif' font-size="20.05" fill="#000" stroke="#000" stroke-width="0.3">2</text>
<text transform="translate(243.8 59.06) scale(1.1803 1)" font-family='"Liberation Sans", Arial, sans-serif' font-size="19.22" fill="#000" stroke="#000" stroke-width="0.3">g</text>
<text transform="translate(290.61 80.45) scale(0.9079 1)" font-family='"Liberation Sans", Arial, sans-serif' font-size="20.93" fill="#000" stroke="#000" stroke-width="0.3">A</text>
<text transform="translate(304.36 69.85) scale(1.0611 1)" font-family='"Liberation Sans", Arial, sans-serif' font-size="20.48" fill="#000" stroke="#000" stroke-width="0.3">2</text>
<text transform="translate(303.4 88.55) scale(1.0600 1)" font-family='"Liberation Sans", Arial, sans-serif' font-size="20.93" fill="#000" stroke="#000" stroke-width="0.3" clip-path="url(#c26)">1g</text>
<text transform="translate(624.61 51.15) scale(0.9566 1)" font-family='"Liberation Sans", Arial, sans-serif' font-size="20.49" fill="#000" stroke="#000" stroke-width="0.3">A</text>
<text transform="translate(638.51 39.45) scale(1.0600 1)" font-family='"Liberation Sans", Arial, sans-serif' font-size="20.93" fill="#000" stroke="#000" stroke-width="0.3" clip-path="url(#c27)">1</text>
<text transform="translate(638.25 58.65) scale(1.0600 1)" font-family='"Liberation Sans", Arial, sans-serif' font-size="20.35" fill="#000" stroke="#000" stroke-width="0.3" clip-path="url(#c28)">1g</text>
<text transform="translate(735.09 53.85) scale(0.8659 1)" font-family='"Liberation Sans", Arial, sans-serif' font-size="21.95" fill="#000" stroke="#000" stroke-width="0.3">E</text>
<text transform="translate(749 42.55) scale(1.1147 1)" font-family='"Liberation Sans", Arial, sans-serif' font-size="20.48" fill="#000" stroke="#000" stroke-width="0.3">2</text>
<text transform="translate(749.26 61.13) scale(1.0917 1)" font-family='"Liberation Sans", Arial, sans-serif' font-size="19.35" fill="#000" stroke="#000" stroke-width="0.3">g</text>
<text transform="translate(832.31 88.75) scale(0.9223 1)" font-family='"Liberation Sans", Arial, sans-serif' font-size="20.93" fill="#000" stroke="#000" stroke-width="0.3">A</text>
<text transform="translate(846.22 77.05) scale(1.0857 1)" font-family='"Liberation Sans", Arial, sans-serif' font-size="20.62" fill="#000" stroke="#000" stroke-width="0.3">2</text>
<text transform="translate(845.82 96.65) scale(1.0600 1)" font-family='"Liberation Sans", Arial, sans-serif' font-size="20.64" fill="#000" stroke="#000" stroke-width="0.3" clip-path="url(#c29)">1g</text>
<text transform="translate(113.31 547.35) scale(0.9051 1)" font-family='"Liberation Sans", Arial, sans-serif' font-size="20.49" fill="#000" stroke="#000" stroke-width="0.3">A</text>
<text transform="translate(126.71 536.15) scale(1.0600 1)" font-family='"Liberation Sans", Arial, sans-serif' font-size="20.93" fill="#000" stroke="#000" stroke-width="0.3" clip-path="url(#c30)">1</text>
<text transform="translate(126.12 555.05) scale(1.0600 1)" font-family='"Liberation Sans", Arial, sans-serif' font-size="20.64" fill="#000" stroke="#000" stroke-width="0.3" clip-path="url(#c31)">1g</text>
<text transform="translate(274.18 590.75) scale(0.8860 1)" font-family='"Liberation Sans", Arial, sans-serif' font-size="21.66" fill="#000" stroke="#000" stroke-width="0.3">E</text>
<text transform="translate(288.16 579.45) scale(1.0537 1)" font-family='"Liberation Sans", Arial, sans-serif' font-size="20.62" fill="#000" stroke="#000" stroke-width="0.3">2</text>
<text transform="translate(288.36 598.23) scale(1.0917 1)" font-family='"Liberation Sans", Arial, sans-serif' font-size="19.35" fill="#000" stroke="#000" stroke-width="0.3">g</text>
<text transform="translate(391.31 597.55) scale(0.9223 1)" font-family='"Liberation Sans", Arial, sans-serif' font-size="20.93" fill="#000" stroke="#000" stroke-width="0.3">A</text>
<text transform="translate(405.22 586.75) scale(1.0708 1)" font-family='"Liberation Sans", Arial, sans-serif' font-size="20.91" fill="#000" stroke="#000" stroke-width="0.3">2</text>
<text transform="translate(405.31 604.95) scale(1.0600 1)" font-family='"Liberation Sans", Arial, sans-serif' font-size="20.2" fill="#000" stroke="#000" stroke-width="0.3" clip-path="url(#c32)">1g</text>
<text transform="translate(636.31 573.65) scale(0.9223 1)" font-family='"Liberation Sans", Arial, sans-serif' font-size="20.93" fill="#000" stroke="#000" stroke-width="0.3">A</text>
<text transform="translate(649.81 563.25) scale(1.0600 1)" font-family='"Liberation Sans", Arial, sans-serif' font-size="21.22" fill="#000" stroke="#000" stroke-width="0.3" clip-path="url(#c33)">1</text>
<text transform="translate(649.91 581.45) scale(1.0600 1)" font-family='"Liberation Sans", Arial, sans-serif' font-size="20.2" fill="#000" stroke="#000" stroke-width="0.3" clip-path="url(#c34)">1g</text>
<text transform="translate(804.02 583.55) scale(0.8722 1)" font-family='"Liberation Sans", Arial, sans-serif' font-size="21.37" fill="#000" stroke="#000" stroke-width="0.3">E</text>
<text transform="translate(818.2 572.45) scale(1.0327 1)" font-family='"Liberation Sans", Arial, sans-serif' font-size="20.19" fill="#000" stroke="#000" stroke-width="0.3">2</text>
<text transform="translate(818.19 591.02) scale(1.0797 1)" font-family='"Liberation Sans", Arial, sans-serif' font-size="18.95" fill="#000" stroke="#000" stroke-width="0.3">g</text>
<text transform="translate(913.81 591.35) scale(0.9223 1)" font-family='"Liberation Sans", Arial, sans-serif' font-size="20.93" fill="#000" stroke="#000" stroke-width="0.3">A</text>
<text transform="translate(927.66 580.55) scale(1.0252 1)" font-family='"Liberation Sans", Arial, sans-serif' font-size="21.2" fill="#000" stroke="#000" stroke-width="0.3">2</text>
<text transform="translate(927.25 598.85) scale(1.0600 1)" font-family='"Liberation Sans", Arial, sans-serif' font-size="20.35" fill="#000" stroke="#000" stroke-width="0.3" clip-path="url(#c35)">1g</text>
<text transform="translate(170.44 418.7) scale(1.0247 1)" font-family='"Liberation Sans", Arial, sans-serif' font-size="25.73" font-weight="bold" fill="#000">Raman shift ( cm</text>
<text transform="translate(385 403.7) scale(0.7328 1)" font-family='"Liberation Sans", Arial, sans-serif' font-size="21.08" font-weight="bold" fill="#000" clip-path="url(#c36)">-1</text>
<text transform="translate(404.48 418.71) scale(0.8080 1)" font-family='"Liberation Sans", Arial, sans-serif' font-size="25" font-weight="bold" fill="#000">)</text>
<text transform="translate(672.55 420.6) scale(1.0273 1)" font-family='"Liberation Sans", Arial, sans-serif' font-size="27.01" font-weight="bold" fill="#000">Raman shift ( cm</text>
<text transform="translate(898.36 404.85) scale(0.7347 1)" font-family='"Liberation Sans", Arial, sans-serif' font-size="22.12" font-weight="bold" fill="#000" clip-path="url(#c37)">-1</text>
<text transform="translate(918.87 420.61) scale(0.8101 1)" font-family='"Liberation Sans", Arial, sans-serif' font-size="26.24" font-weight="bold" fill="#000">)</text>
<text transform="translate(159.73 908.3) scale(1.0974 1)" font-family='"Liberation Sans", Arial, sans-serif' font-size="24.16" font-weight="bold" fill="#000">Raman shift ( cm</text>
<text transform="translate(375.55 894.21) scale(0.7848 1)" font-family='"Liberation Sans", Arial, sans-serif' font-size="19.8" font-weight="bold" fill="#000" clip-path="url(#c38)">-1</text>
<text transform="translate(395.15 908.31) scale(0.8653 1)" font-family='"Liberation Sans", Arial, sans-serif' font-size="23.48" font-weight="bold" fill="#000">)</text>
<text transform="translate(687.53 908.3) scale(1.0951 1)" font-family='"Liberation Sans", Arial, sans-serif' font-size="24.16" font-weight="bold" fill="#000">Raman shift ( cm</text>
<text transform="translate(902.9 894.21) scale(0.7832 1)" font-family='"Liberation Sans", Arial, sans-serif' font-size="19.8" font-weight="bold" fill="#000" clip-path="url(#c39)">-1</text>
<text transform="translate(922.46 908.31) scale(0.8635 1)" font-family='"Liberation Sans", Arial, sans-serif' font-size="23.48" font-weight="bold" fill="#000">)</text>
<text transform="translate(38.4 283.33) rotate(-90) scale(0.9606 1)" font-family='"Liberation Sans", Arial, sans-serif' font-size="28.49" font-weight="bold" fill="#000">Intensity (a.u.)</text>
<text transform="translate(560.2 274.07) rotate(-90) scale(0.9891 1)" font-family='"Liberation Sans", Arial, sans-serif' font-size="28.2" font-weight="bold" fill="#000">Intensity (a.u.)</text>
<text transform="translate(40.1 770.66) rotate(-90)" font-family='"Liberation Sans", Arial, sans-serif' font-size="27.76" font-weight="bold" fill="#000">Intensity (a.u.)</text>
<text transform="translate(564.9 776.65) rotate(-90) scale(0.9949 1)" font-family='"Liberation Sans", Arial, sans-serif' font-size="27.76" font-weight="bold" fill="#000">Intensity (a.u.)</text>
<text transform="translate(224.27 487.96) scale(1.0411 1)" font-family='"Liberation Serif", "Times New Roman", serif' font-size="49.74" fill="#000">(</text>
<text transform="translate(266.47 487.96) scale(1.0489 1)" font-family='"Liberation Serif", "Times New Roman", serif' font-size="49.74" fill="#000">)</text>
<text transform="translate(242.44 487.87) scale(0.9506 1)" font-family='"Liberation Serif", "Times New Roman", serif' font-size="49.27" font-weight="bold" fill="#000">a</text>
<text transform="translate(749.63 487.96) scale(1.0176 1)" font-family='"Liberation Serif", "Times New Roman", serif' font-size="49.74" fill="#000">(</text>
<text transform="translate(793.92 487.96) scale(1.0176 1)" font-family='"Liberation Serif", "Times New Roman", serif' font-size="49.74" fill="#000">)</text>
<text transform="translate(767.95 488.18) scale(0.9806 1)" font-family='"Liberation Serif", "Times New Roman", serif' font-size="48.46" font-weight="bold" fill="#000">b</text>
<text transform="translate(225.97 975.96) scale(1.0411 1)" font-family='"Liberation Serif", "Times New Roman", serif' font-size="49.74" fill="#000">(</text>
<text transform="translate(264.77 975.96) scale(1.0489 1)" font-family='"Liberation Serif", "Times New Roman", serif' font-size="49.74" fill="#000">)</text>
<text transform="translate(243.32 976.19) scale(0.9736 1)" font-family='"Liberation Serif", "Times New Roman", serif' font-size="49.12" font-weight="bold" fill="#000">c</text>
<text transform="translate(749.63 975.96) scale(1.0176 1)" font-family='"Liberation Serif", "Times New Roman", serif' font-size="49.74" fill="#000">(</text>
<text transform="translate(793.92 975.96) scale(1.0176 1)" font-family='"Liberation Serif", "Times New Roman", serif' font-size="49.74" fill="#000">)</text>
<text transform="translate(766.65 975.88) scale(0.9740 1)" font-family='"Liberation Serif", "Times New Roman", serif' font-size="48.04" font-weight="bold" fill="#000">d</text>
</svg>
</body></html>
